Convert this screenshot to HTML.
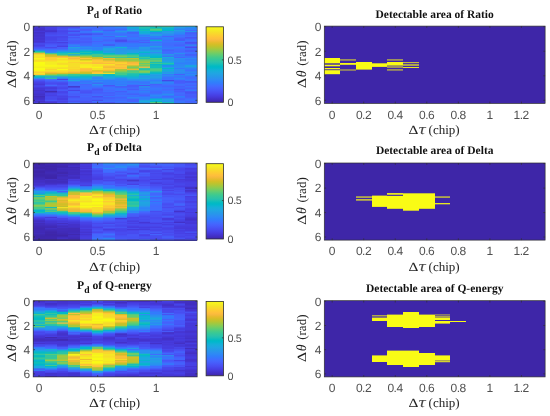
<!DOCTYPE html>
<html><head><meta charset="utf-8"><title>Detection probability</title>
<style>
html,body{margin:0;padding:0;background:#fff}
svg{display:block;text-rendering:geometricPrecision}
.tk{font-family:"Liberation Sans",sans-serif;font-size:12px;letter-spacing:-0.5px;fill:#505050}
.tt{font-family:"Liberation Serif",serif;font-weight:bold;font-size:11.5px;fill:#111}
.cb{font-size:10.8px;letter-spacing:-0.4px}
.tl{font-size:11.7px}
.lb{font-family:"Liberation Serif",serif;font-size:13px;fill:#222}
.dl{font-family:"Liberation Serif",serif;font-size:12.6px;fill:#222}
.gr2{font-family:"Liberation Serif",serif;font-style:italic;font-size:14px;fill:#222}
.gr{font-family:"Liberation Serif",serif;font-style:italic;font-size:15px;fill:#4a4a4a}
</style></head><body>
<svg width="550" height="416" viewBox="0 0 550 416">
<rect width="550" height="416" fill="#fff"/>
<defs><linearGradient id="pg" x1="0" y1="1" x2="0" y2="0">
<stop offset="0.0000" stop-color="#3e26a8"/>
<stop offset="0.0159" stop-color="#402ab4"/>
<stop offset="0.0317" stop-color="#422ec0"/>
<stop offset="0.0476" stop-color="#4332cb"/>
<stop offset="0.0635" stop-color="#4537d5"/>
<stop offset="0.0794" stop-color="#463cde"/>
<stop offset="0.0952" stop-color="#4741e5"/>
<stop offset="0.1111" stop-color="#4747eb"/>
<stop offset="0.1270" stop-color="#484df0"/>
<stop offset="0.1429" stop-color="#4852f4"/>
<stop offset="0.1587" stop-color="#4758f8"/>
<stop offset="0.1746" stop-color="#465efb"/>
<stop offset="0.1905" stop-color="#4563fd"/>
<stop offset="0.2063" stop-color="#4269fe"/>
<stop offset="0.2222" stop-color="#3e6fff"/>
<stop offset="0.2381" stop-color="#3875fe"/>
<stop offset="0.2540" stop-color="#327cfc"/>
<stop offset="0.2698" stop-color="#2f81fa"/>
<stop offset="0.2857" stop-color="#2e87f7"/>
<stop offset="0.3016" stop-color="#2d8cf3"/>
<stop offset="0.3175" stop-color="#2b91ef"/>
<stop offset="0.3333" stop-color="#2797eb"/>
<stop offset="0.3492" stop-color="#259be8"/>
<stop offset="0.3651" stop-color="#23a0e5"/>
<stop offset="0.3810" stop-color="#20a5e3"/>
<stop offset="0.3968" stop-color="#1ca9df"/>
<stop offset="0.4127" stop-color="#18addb"/>
<stop offset="0.4286" stop-color="#12b1d6"/>
<stop offset="0.4444" stop-color="#08b5d0"/>
<stop offset="0.4603" stop-color="#01b8ca"/>
<stop offset="0.4762" stop-color="#02bac3"/>
<stop offset="0.4921" stop-color="#0bbdbd"/>
<stop offset="0.5079" stop-color="#19bfb6"/>
<stop offset="0.5238" stop-color="#24c1ae"/>
<stop offset="0.5397" stop-color="#2cc4a7"/>
<stop offset="0.5556" stop-color="#31c69f"/>
<stop offset="0.5714" stop-color="#37c897"/>
<stop offset="0.5873" stop-color="#3fca8e"/>
<stop offset="0.6032" stop-color="#4acb84"/>
<stop offset="0.6190" stop-color="#57cc7a"/>
<stop offset="0.6349" stop-color="#64cd6f"/>
<stop offset="0.6508" stop-color="#72cd64"/>
<stop offset="0.6667" stop-color="#81cc59"/>
<stop offset="0.6825" stop-color="#8fcb4e"/>
<stop offset="0.6984" stop-color="#9dc943"/>
<stop offset="0.7143" stop-color="#abc739"/>
<stop offset="0.7302" stop-color="#b9c431"/>
<stop offset="0.7460" stop-color="#c5c22a"/>
<stop offset="0.7619" stop-color="#d1bf27"/>
<stop offset="0.7778" stop-color="#dcbd29"/>
<stop offset="0.7937" stop-color="#e6bb2d"/>
<stop offset="0.8095" stop-color="#f0ba36"/>
<stop offset="0.8254" stop-color="#f8ba3d"/>
<stop offset="0.8413" stop-color="#febe3c"/>
<stop offset="0.8571" stop-color="#fec338"/>
<stop offset="0.8730" stop-color="#fec934"/>
<stop offset="0.8889" stop-color="#fccf30"/>
<stop offset="0.9048" stop-color="#fad62d"/>
<stop offset="0.9206" stop-color="#f7dc2a"/>
<stop offset="0.9365" stop-color="#f5e327"/>
<stop offset="0.9524" stop-color="#f5e924"/>
<stop offset="0.9683" stop-color="#f6ef20"/>
<stop offset="0.9841" stop-color="#f7f51b"/>
<stop offset="1.0000" stop-color="#f9fb15"/>
</linearGradient></defs>
<g>
<rect x="33.00" y="26.10" width="12.00" height="77.30" fill="#463bdd"/>
<rect x="33.00" y="27.33" width="12.00" height="76.07" fill="#4434cf"/>
<rect x="33.00" y="28.55" width="12.00" height="74.85" fill="#4331c7"/>
<rect x="33.00" y="29.78" width="12.00" height="73.62" fill="#4433cb"/>
<rect x="33.00" y="31.01" width="12.00" height="72.39" fill="#4538d7"/>
<rect x="33.00" y="32.23" width="12.00" height="71.17" fill="#4331c6"/>
<rect x="33.00" y="33.46" width="12.00" height="69.94" fill="#4536d2"/>
<rect x="33.00" y="34.69" width="12.00" height="68.71" fill="#4434cf"/>
<rect x="33.00" y="35.92" width="12.00" height="67.48" fill="#4434cf"/>
<rect x="33.00" y="37.14" width="12.00" height="66.26" fill="#4537d5"/>
<rect x="33.00" y="38.37" width="12.00" height="65.03" fill="#4434ce"/>
<rect x="33.00" y="39.60" width="12.00" height="63.80" fill="#4639da"/>
<rect x="33.00" y="40.82" width="12.00" height="62.58" fill="#4535d2"/>
<rect x="33.00" y="42.05" width="12.00" height="61.35" fill="#463adc"/>
<rect x="33.00" y="43.28" width="12.00" height="60.12" fill="#484ef1"/>
<rect x="33.00" y="44.50" width="12.00" height="58.90" fill="#4740e4"/>
<rect x="33.00" y="45.73" width="12.00" height="57.67" fill="#4848ec"/>
<rect x="33.00" y="46.96" width="12.00" height="56.44" fill="#4854f5"/>
<rect x="33.00" y="48.19" width="12.00" height="55.21" fill="#465efb"/>
<rect x="33.00" y="49.41" width="12.00" height="53.99" fill="#3876fe"/>
<rect x="33.00" y="50.64" width="12.00" height="52.76" fill="#0abdbd"/>
<rect x="33.00" y="51.87" width="12.00" height="51.53" fill="#63cd70"/>
<rect x="33.00" y="53.09" width="12.00" height="50.31" fill="#f0ba36"/>
<rect x="33.00" y="54.32" width="12.00" height="49.08" fill="#f5e825"/>
<rect x="33.00" y="55.55" width="12.00" height="47.85" fill="#f5e526"/>
<rect x="33.00" y="56.77" width="12.00" height="46.63" fill="#f6e128"/>
<rect x="33.00" y="58.00" width="12.00" height="45.40" fill="#f8f719"/>
<rect x="33.00" y="59.23" width="12.00" height="44.17" fill="#f5e725"/>
<rect x="33.00" y="60.46" width="12.00" height="42.94" fill="#fad42e"/>
<rect x="33.00" y="61.68" width="12.00" height="41.72" fill="#f9fb15"/>
<rect x="33.00" y="62.91" width="12.00" height="40.49" fill="#f9fb15"/>
<rect x="33.00" y="64.14" width="12.00" height="39.26" fill="#f9fa15"/>
<rect x="33.00" y="65.36" width="12.00" height="38.04" fill="#f8f917"/>
<rect x="33.00" y="66.59" width="12.00" height="36.81" fill="#f5ec22"/>
<rect x="33.00" y="67.82" width="12.00" height="35.58" fill="#f9fb15"/>
<rect x="33.00" y="69.04" width="12.00" height="34.36" fill="#f9fb15"/>
<rect x="33.00" y="70.27" width="12.00" height="33.13" fill="#f7f41c"/>
<rect x="33.00" y="71.50" width="12.00" height="31.90" fill="#fec934"/>
<rect x="33.00" y="72.73" width="12.00" height="30.67" fill="#f5e526"/>
<rect x="33.00" y="73.95" width="12.00" height="29.45" fill="#fdcb32"/>
<rect x="33.00" y="75.18" width="12.00" height="28.22" fill="#2bc3a8"/>
<rect x="33.00" y="76.41" width="12.00" height="26.99" fill="#01b9c8"/>
<rect x="33.00" y="77.63" width="12.00" height="25.77" fill="#2a93ee"/>
<rect x="33.00" y="78.86" width="12.00" height="24.54" fill="#4660fc"/>
<rect x="33.00" y="80.09" width="12.00" height="23.31" fill="#4854f5"/>
<rect x="33.00" y="81.31" width="12.00" height="22.09" fill="#4745e9"/>
<rect x="33.00" y="82.54" width="12.00" height="20.86" fill="#4740e4"/>
<rect x="33.00" y="83.77" width="12.00" height="19.63" fill="#4539d9"/>
<rect x="33.00" y="85.00" width="12.00" height="18.40" fill="#4742e6"/>
<rect x="33.00" y="86.22" width="12.00" height="17.18" fill="#4746ea"/>
<rect x="33.00" y="87.45" width="12.00" height="15.95" fill="#4536d4"/>
<rect x="33.00" y="88.68" width="12.00" height="14.72" fill="#4538d8"/>
<rect x="33.00" y="89.90" width="12.00" height="13.50" fill="#4433cb"/>
<rect x="33.00" y="91.13" width="12.00" height="12.27" fill="#4537d5"/>
<rect x="33.00" y="92.36" width="12.00" height="11.04" fill="#4536d4"/>
<rect x="33.00" y="93.58" width="12.00" height="9.82" fill="#4332c8"/>
<rect x="33.00" y="94.81" width="12.00" height="8.59" fill="#4434cd"/>
<rect x="33.00" y="96.04" width="12.00" height="7.36" fill="#412dbc"/>
<rect x="33.00" y="97.27" width="12.00" height="6.13" fill="#4332c9"/>
<rect x="33.00" y="98.49" width="12.00" height="4.91" fill="#4332ca"/>
<rect x="33.00" y="99.72" width="12.00" height="3.68" fill="#4539d8"/>
<rect x="33.00" y="100.95" width="12.00" height="2.45" fill="#4432cb"/>
<rect x="33.00" y="102.17" width="12.00" height="1.23" fill="#463bdc"/>
<rect x="45.00" y="26.10" width="12.00" height="77.30" fill="#4744e8"/>
<rect x="45.00" y="27.33" width="12.00" height="76.07" fill="#463ee1"/>
<rect x="45.00" y="28.55" width="12.00" height="74.85" fill="#473fe2"/>
<rect x="45.00" y="29.78" width="12.00" height="73.62" fill="#4536d3"/>
<rect x="45.00" y="31.01" width="12.00" height="72.39" fill="#4435d1"/>
<rect x="45.00" y="32.23" width="12.00" height="71.17" fill="#4747eb"/>
<rect x="45.00" y="33.46" width="12.00" height="69.94" fill="#4849ed"/>
<rect x="45.00" y="34.69" width="12.00" height="68.71" fill="#4851f3"/>
<rect x="45.00" y="35.92" width="12.00" height="67.48" fill="#4747eb"/>
<rect x="45.00" y="37.14" width="12.00" height="66.26" fill="#4744e8"/>
<rect x="45.00" y="38.37" width="12.00" height="65.03" fill="#4744e8"/>
<rect x="45.00" y="39.60" width="12.00" height="63.80" fill="#4747eb"/>
<rect x="45.00" y="40.82" width="12.00" height="62.58" fill="#484cef"/>
<rect x="45.00" y="42.05" width="12.00" height="61.35" fill="#4746ea"/>
<rect x="45.00" y="43.28" width="12.00" height="60.12" fill="#4853f4"/>
<rect x="45.00" y="44.50" width="12.00" height="58.90" fill="#475bfa"/>
<rect x="45.00" y="45.73" width="12.00" height="57.67" fill="#465efb"/>
<rect x="45.00" y="46.96" width="12.00" height="56.44" fill="#4849ed"/>
<rect x="45.00" y="48.19" width="12.00" height="55.21" fill="#4660fc"/>
<rect x="45.00" y="49.41" width="12.00" height="53.99" fill="#3876fe"/>
<rect x="45.00" y="50.64" width="12.00" height="52.76" fill="#2e84f8"/>
<rect x="45.00" y="51.87" width="12.00" height="51.53" fill="#2c8ff1"/>
<rect x="45.00" y="53.09" width="12.00" height="50.31" fill="#45cb89"/>
<rect x="45.00" y="54.32" width="12.00" height="49.08" fill="#d3bf27"/>
<rect x="45.00" y="55.55" width="12.00" height="47.85" fill="#cac129"/>
<rect x="45.00" y="56.77" width="12.00" height="46.63" fill="#fec735"/>
<rect x="45.00" y="58.00" width="12.00" height="45.40" fill="#fcd030"/>
<rect x="45.00" y="59.23" width="12.00" height="44.17" fill="#feca34"/>
<rect x="45.00" y="60.46" width="12.00" height="42.94" fill="#f6df29"/>
<rect x="45.00" y="61.68" width="12.00" height="41.72" fill="#f5ed22"/>
<rect x="45.00" y="62.91" width="12.00" height="40.49" fill="#f5eb23"/>
<rect x="45.00" y="64.14" width="12.00" height="39.26" fill="#f5ee21"/>
<rect x="45.00" y="65.36" width="12.00" height="38.04" fill="#f9fb15"/>
<rect x="45.00" y="66.59" width="12.00" height="36.81" fill="#f5ea23"/>
<rect x="45.00" y="67.82" width="12.00" height="35.58" fill="#f5e526"/>
<rect x="45.00" y="69.04" width="12.00" height="34.36" fill="#fbd22f"/>
<rect x="45.00" y="70.27" width="12.00" height="33.13" fill="#f5ea23"/>
<rect x="45.00" y="71.50" width="12.00" height="31.90" fill="#fec239"/>
<rect x="45.00" y="72.73" width="12.00" height="30.67" fill="#dabd28"/>
<rect x="45.00" y="73.95" width="12.00" height="29.45" fill="#9cc944"/>
<rect x="45.00" y="75.18" width="12.00" height="28.22" fill="#34c79c"/>
<rect x="45.00" y="76.41" width="12.00" height="26.99" fill="#249de6"/>
<rect x="45.00" y="77.63" width="12.00" height="25.77" fill="#30c5a2"/>
<rect x="45.00" y="78.86" width="12.00" height="24.54" fill="#3e6fff"/>
<rect x="45.00" y="80.09" width="12.00" height="23.31" fill="#4464fd"/>
<rect x="45.00" y="81.31" width="12.00" height="22.09" fill="#4757f7"/>
<rect x="45.00" y="82.54" width="12.00" height="20.86" fill="#484aee"/>
<rect x="45.00" y="83.77" width="12.00" height="19.63" fill="#4853f5"/>
<rect x="45.00" y="85.00" width="12.00" height="18.40" fill="#4367fd"/>
<rect x="45.00" y="86.22" width="12.00" height="17.18" fill="#4747eb"/>
<rect x="45.00" y="87.45" width="12.00" height="15.95" fill="#4537d6"/>
<rect x="45.00" y="88.68" width="12.00" height="14.72" fill="#4744e8"/>
<rect x="45.00" y="89.90" width="12.00" height="13.50" fill="#4740e3"/>
<rect x="45.00" y="91.13" width="12.00" height="12.27" fill="#3f28af"/>
<rect x="45.00" y="92.36" width="12.00" height="11.04" fill="#4743e8"/>
<rect x="45.00" y="93.58" width="12.00" height="9.82" fill="#4746ea"/>
<rect x="45.00" y="94.81" width="12.00" height="8.59" fill="#4740e4"/>
<rect x="45.00" y="96.04" width="12.00" height="7.36" fill="#4849ec"/>
<rect x="45.00" y="97.27" width="12.00" height="6.13" fill="#484bef"/>
<rect x="45.00" y="98.49" width="12.00" height="4.91" fill="#4747eb"/>
<rect x="45.00" y="99.72" width="12.00" height="3.68" fill="#4757f7"/>
<rect x="45.00" y="100.95" width="12.00" height="2.45" fill="#463ee1"/>
<rect x="45.00" y="102.17" width="12.00" height="1.23" fill="#4639da"/>
<rect x="57.00" y="26.10" width="11.00" height="77.30" fill="#484ef1"/>
<rect x="57.00" y="27.33" width="11.00" height="76.07" fill="#4848ec"/>
<rect x="57.00" y="28.55" width="11.00" height="74.85" fill="#4853f5"/>
<rect x="57.00" y="29.78" width="11.00" height="73.62" fill="#4848ec"/>
<rect x="57.00" y="31.01" width="11.00" height="72.39" fill="#4747eb"/>
<rect x="57.00" y="32.23" width="11.00" height="71.17" fill="#484bef"/>
<rect x="57.00" y="33.46" width="11.00" height="69.94" fill="#484cf0"/>
<rect x="57.00" y="34.69" width="11.00" height="68.71" fill="#4854f5"/>
<rect x="57.00" y="35.92" width="11.00" height="67.48" fill="#4747eb"/>
<rect x="57.00" y="37.14" width="11.00" height="66.26" fill="#4848ec"/>
<rect x="57.00" y="38.37" width="11.00" height="65.03" fill="#484ff2"/>
<rect x="57.00" y="39.60" width="11.00" height="63.80" fill="#4849ec"/>
<rect x="57.00" y="40.82" width="11.00" height="62.58" fill="#4757f7"/>
<rect x="57.00" y="42.05" width="11.00" height="61.35" fill="#4740e3"/>
<rect x="57.00" y="43.28" width="11.00" height="60.12" fill="#4853f5"/>
<rect x="57.00" y="44.50" width="11.00" height="58.90" fill="#4852f4"/>
<rect x="57.00" y="45.73" width="11.00" height="57.67" fill="#4741e4"/>
<rect x="57.00" y="46.96" width="11.00" height="56.44" fill="#465ffb"/>
<rect x="57.00" y="48.19" width="11.00" height="55.21" fill="#465ffb"/>
<rect x="57.00" y="49.41" width="11.00" height="53.99" fill="#337bfc"/>
<rect x="57.00" y="50.64" width="11.00" height="52.76" fill="#2796eb"/>
<rect x="57.00" y="51.87" width="11.00" height="51.53" fill="#0db3d4"/>
<rect x="57.00" y="53.09" width="11.00" height="50.31" fill="#25c2ae"/>
<rect x="57.00" y="54.32" width="11.00" height="49.08" fill="#39c895"/>
<rect x="57.00" y="55.55" width="11.00" height="47.85" fill="#dcbd29"/>
<rect x="57.00" y="56.77" width="11.00" height="46.63" fill="#fec13a"/>
<rect x="57.00" y="58.00" width="11.00" height="45.40" fill="#f5e924"/>
<rect x="57.00" y="59.23" width="11.00" height="44.17" fill="#fad52d"/>
<rect x="57.00" y="60.46" width="11.00" height="42.94" fill="#f6ef20"/>
<rect x="57.00" y="61.68" width="11.00" height="41.72" fill="#f5ec23"/>
<rect x="57.00" y="62.91" width="11.00" height="40.49" fill="#f7dc2a"/>
<rect x="57.00" y="64.14" width="11.00" height="39.26" fill="#f5e128"/>
<rect x="57.00" y="65.36" width="11.00" height="38.04" fill="#f9fa15"/>
<rect x="57.00" y="66.59" width="11.00" height="36.81" fill="#f5e626"/>
<rect x="57.00" y="67.82" width="11.00" height="35.58" fill="#f6df29"/>
<rect x="57.00" y="69.04" width="11.00" height="34.36" fill="#f9fb15"/>
<rect x="57.00" y="70.27" width="11.00" height="33.13" fill="#fad62d"/>
<rect x="57.00" y="71.50" width="11.00" height="31.90" fill="#fad52d"/>
<rect x="57.00" y="72.73" width="11.00" height="30.67" fill="#d9be28"/>
<rect x="57.00" y="73.95" width="11.00" height="29.45" fill="#62cd71"/>
<rect x="57.00" y="75.18" width="11.00" height="28.22" fill="#36c799"/>
<rect x="57.00" y="76.41" width="11.00" height="26.99" fill="#2699ea"/>
<rect x="57.00" y="77.63" width="11.00" height="25.77" fill="#2d8cf3"/>
<rect x="57.00" y="78.86" width="11.00" height="24.54" fill="#4743e7"/>
<rect x="57.00" y="80.09" width="11.00" height="23.31" fill="#3975fe"/>
<rect x="57.00" y="81.31" width="11.00" height="22.09" fill="#4757f7"/>
<rect x="57.00" y="82.54" width="11.00" height="20.86" fill="#4849ed"/>
<rect x="57.00" y="83.77" width="11.00" height="19.63" fill="#484aee"/>
<rect x="57.00" y="85.00" width="11.00" height="18.40" fill="#4855f6"/>
<rect x="57.00" y="86.22" width="11.00" height="17.18" fill="#4851f3"/>
<rect x="57.00" y="87.45" width="11.00" height="15.95" fill="#4743e7"/>
<rect x="57.00" y="88.68" width="11.00" height="14.72" fill="#4853f5"/>
<rect x="57.00" y="89.90" width="11.00" height="13.50" fill="#4758f8"/>
<rect x="57.00" y="91.13" width="11.00" height="12.27" fill="#4744e8"/>
<rect x="57.00" y="92.36" width="11.00" height="11.04" fill="#4747ec"/>
<rect x="57.00" y="93.58" width="11.00" height="9.82" fill="#4852f4"/>
<rect x="57.00" y="94.81" width="11.00" height="8.59" fill="#4849ed"/>
<rect x="57.00" y="96.04" width="11.00" height="7.36" fill="#4744e8"/>
<rect x="57.00" y="97.27" width="11.00" height="6.13" fill="#4746ea"/>
<rect x="57.00" y="98.49" width="11.00" height="4.91" fill="#463cdf"/>
<rect x="57.00" y="99.72" width="11.00" height="3.68" fill="#484bef"/>
<rect x="57.00" y="100.95" width="11.00" height="2.45" fill="#4743e7"/>
<rect x="57.00" y="102.17" width="11.00" height="1.23" fill="#484ff2"/>
<rect x="68.00" y="26.10" width="12.00" height="77.30" fill="#484bef"/>
<rect x="68.00" y="27.33" width="12.00" height="76.07" fill="#484ef1"/>
<rect x="68.00" y="28.55" width="12.00" height="74.85" fill="#3b72fe"/>
<rect x="68.00" y="29.78" width="12.00" height="73.62" fill="#4757f7"/>
<rect x="68.00" y="31.01" width="12.00" height="72.39" fill="#484aed"/>
<rect x="68.00" y="32.23" width="12.00" height="71.17" fill="#3f6eff"/>
<rect x="68.00" y="33.46" width="12.00" height="69.94" fill="#4853f5"/>
<rect x="68.00" y="34.69" width="12.00" height="68.71" fill="#484ff2"/>
<rect x="68.00" y="35.92" width="12.00" height="67.48" fill="#4367fd"/>
<rect x="68.00" y="37.14" width="12.00" height="66.26" fill="#4755f6"/>
<rect x="68.00" y="38.37" width="12.00" height="65.03" fill="#426afe"/>
<rect x="68.00" y="39.60" width="12.00" height="63.80" fill="#465ffb"/>
<rect x="68.00" y="40.82" width="12.00" height="62.58" fill="#475af9"/>
<rect x="68.00" y="42.05" width="12.00" height="61.35" fill="#475af9"/>
<rect x="68.00" y="43.28" width="12.00" height="60.12" fill="#4562fc"/>
<rect x="68.00" y="44.50" width="12.00" height="58.90" fill="#2e86f7"/>
<rect x="68.00" y="45.73" width="12.00" height="57.67" fill="#3776fe"/>
<rect x="68.00" y="46.96" width="12.00" height="56.44" fill="#249ee6"/>
<rect x="68.00" y="48.19" width="12.00" height="55.21" fill="#2d8cf3"/>
<rect x="68.00" y="49.41" width="12.00" height="53.99" fill="#2c8ef1"/>
<rect x="68.00" y="50.64" width="12.00" height="52.76" fill="#2896eb"/>
<rect x="68.00" y="51.87" width="12.00" height="51.53" fill="#0bb3d2"/>
<rect x="68.00" y="53.09" width="12.00" height="50.31" fill="#47cb87"/>
<rect x="68.00" y="54.32" width="12.00" height="49.08" fill="#1da8e0"/>
<rect x="68.00" y="55.55" width="12.00" height="47.85" fill="#94ca4a"/>
<rect x="68.00" y="56.77" width="12.00" height="46.63" fill="#fdbd3d"/>
<rect x="68.00" y="58.00" width="12.00" height="45.40" fill="#f4ba39"/>
<rect x="68.00" y="59.23" width="12.00" height="44.17" fill="#fcd030"/>
<rect x="68.00" y="60.46" width="12.00" height="42.94" fill="#f5e924"/>
<rect x="68.00" y="61.68" width="12.00" height="41.72" fill="#fbd22f"/>
<rect x="68.00" y="62.91" width="12.00" height="40.49" fill="#f6de29"/>
<rect x="68.00" y="64.14" width="12.00" height="39.26" fill="#f6de29"/>
<rect x="68.00" y="65.36" width="12.00" height="38.04" fill="#f6e029"/>
<rect x="68.00" y="66.59" width="12.00" height="36.81" fill="#f8d82c"/>
<rect x="68.00" y="67.82" width="12.00" height="35.58" fill="#f7dd2a"/>
<rect x="68.00" y="69.04" width="12.00" height="34.36" fill="#fcd12f"/>
<rect x="68.00" y="70.27" width="12.00" height="33.13" fill="#f9d82c"/>
<rect x="68.00" y="71.50" width="12.00" height="31.90" fill="#f9ba3d"/>
<rect x="68.00" y="72.73" width="12.00" height="30.67" fill="#cfc028"/>
<rect x="68.00" y="73.95" width="12.00" height="29.45" fill="#39c994"/>
<rect x="68.00" y="75.18" width="12.00" height="28.22" fill="#2fc5a3"/>
<rect x="68.00" y="76.41" width="12.00" height="26.99" fill="#07b5cf"/>
<rect x="68.00" y="77.63" width="12.00" height="25.77" fill="#22a2e4"/>
<rect x="68.00" y="78.86" width="12.00" height="24.54" fill="#2c8ef1"/>
<rect x="68.00" y="80.09" width="12.00" height="23.31" fill="#20a4e3"/>
<rect x="68.00" y="81.31" width="12.00" height="22.09" fill="#406dfe"/>
<rect x="68.00" y="82.54" width="12.00" height="20.86" fill="#426afe"/>
<rect x="68.00" y="83.77" width="12.00" height="19.63" fill="#3f6fff"/>
<rect x="68.00" y="85.00" width="12.00" height="18.40" fill="#416bfe"/>
<rect x="68.00" y="86.22" width="12.00" height="17.18" fill="#4330c5"/>
<rect x="68.00" y="87.45" width="12.00" height="15.95" fill="#465dfb"/>
<rect x="68.00" y="88.68" width="12.00" height="14.72" fill="#465ffb"/>
<rect x="68.00" y="89.90" width="12.00" height="13.50" fill="#4745e9"/>
<rect x="68.00" y="91.13" width="12.00" height="12.27" fill="#416bfe"/>
<rect x="68.00" y="92.36" width="12.00" height="11.04" fill="#4563fc"/>
<rect x="68.00" y="93.58" width="12.00" height="9.82" fill="#475dfa"/>
<rect x="68.00" y="94.81" width="12.00" height="8.59" fill="#465ffb"/>
<rect x="68.00" y="96.04" width="12.00" height="7.36" fill="#484ef1"/>
<rect x="68.00" y="97.27" width="12.00" height="6.13" fill="#4757f7"/>
<rect x="68.00" y="98.49" width="12.00" height="4.91" fill="#4465fd"/>
<rect x="68.00" y="99.72" width="12.00" height="3.68" fill="#475cfa"/>
<rect x="68.00" y="100.95" width="12.00" height="2.45" fill="#4852f4"/>
<rect x="68.00" y="102.17" width="12.00" height="1.23" fill="#4269fe"/>
<rect x="80.00" y="26.10" width="12.00" height="77.30" fill="#4368fd"/>
<rect x="80.00" y="27.33" width="12.00" height="76.07" fill="#3777fe"/>
<rect x="80.00" y="28.55" width="12.00" height="74.85" fill="#475cfa"/>
<rect x="80.00" y="29.78" width="12.00" height="73.62" fill="#465ffb"/>
<rect x="80.00" y="31.01" width="12.00" height="72.39" fill="#3a74fe"/>
<rect x="80.00" y="32.23" width="12.00" height="71.17" fill="#3b73fe"/>
<rect x="80.00" y="33.46" width="12.00" height="69.94" fill="#4745ea"/>
<rect x="80.00" y="34.69" width="12.00" height="68.71" fill="#4563fd"/>
<rect x="80.00" y="35.92" width="12.00" height="67.48" fill="#406dfe"/>
<rect x="80.00" y="37.14" width="12.00" height="66.26" fill="#4562fc"/>
<rect x="80.00" y="38.37" width="12.00" height="65.03" fill="#475cfa"/>
<rect x="80.00" y="39.60" width="12.00" height="63.80" fill="#4563fd"/>
<rect x="80.00" y="40.82" width="12.00" height="62.58" fill="#475bfa"/>
<rect x="80.00" y="42.05" width="12.00" height="61.35" fill="#465dfa"/>
<rect x="80.00" y="43.28" width="12.00" height="60.12" fill="#4368fd"/>
<rect x="80.00" y="44.50" width="12.00" height="58.90" fill="#4466fd"/>
<rect x="80.00" y="45.73" width="12.00" height="57.67" fill="#317dfc"/>
<rect x="80.00" y="46.96" width="12.00" height="56.44" fill="#2d8bf3"/>
<rect x="80.00" y="48.19" width="12.00" height="55.21" fill="#3080fa"/>
<rect x="80.00" y="49.41" width="12.00" height="53.99" fill="#22a2e4"/>
<rect x="80.00" y="50.64" width="12.00" height="52.76" fill="#01b8ca"/>
<rect x="80.00" y="51.87" width="12.00" height="51.53" fill="#1cc0b3"/>
<rect x="80.00" y="53.09" width="12.00" height="50.31" fill="#02bac4"/>
<rect x="80.00" y="54.32" width="12.00" height="49.08" fill="#3ac994"/>
<rect x="80.00" y="55.55" width="12.00" height="47.85" fill="#8ecb4f"/>
<rect x="80.00" y="56.77" width="12.00" height="46.63" fill="#c5c22a"/>
<rect x="80.00" y="58.00" width="12.00" height="45.40" fill="#fec636"/>
<rect x="80.00" y="59.23" width="12.00" height="44.17" fill="#ccc028"/>
<rect x="80.00" y="60.46" width="12.00" height="42.94" fill="#f5ed22"/>
<rect x="80.00" y="61.68" width="12.00" height="41.72" fill="#fdcc32"/>
<rect x="80.00" y="62.91" width="12.00" height="40.49" fill="#fdcc32"/>
<rect x="80.00" y="64.14" width="12.00" height="39.26" fill="#f5ec22"/>
<rect x="80.00" y="65.36" width="12.00" height="38.04" fill="#f5ec22"/>
<rect x="80.00" y="66.59" width="12.00" height="36.81" fill="#f7f31d"/>
<rect x="80.00" y="67.82" width="12.00" height="35.58" fill="#fec735"/>
<rect x="80.00" y="69.04" width="12.00" height="34.36" fill="#febe3c"/>
<rect x="80.00" y="70.27" width="12.00" height="33.13" fill="#febe3c"/>
<rect x="80.00" y="71.50" width="12.00" height="31.90" fill="#d4bf28"/>
<rect x="80.00" y="72.73" width="12.00" height="30.67" fill="#c9c129"/>
<rect x="80.00" y="73.95" width="12.00" height="29.45" fill="#3cc992"/>
<rect x="80.00" y="75.18" width="12.00" height="28.22" fill="#19bfb5"/>
<rect x="80.00" y="76.41" width="12.00" height="26.99" fill="#08b4d1"/>
<rect x="80.00" y="77.63" width="12.00" height="25.77" fill="#1ea8e1"/>
<rect x="80.00" y="78.86" width="12.00" height="24.54" fill="#2797eb"/>
<rect x="80.00" y="80.09" width="12.00" height="23.31" fill="#2f81fa"/>
<rect x="80.00" y="81.31" width="12.00" height="22.09" fill="#406dfe"/>
<rect x="80.00" y="82.54" width="12.00" height="20.86" fill="#2e85f8"/>
<rect x="80.00" y="83.77" width="12.00" height="19.63" fill="#4465fd"/>
<rect x="80.00" y="85.00" width="12.00" height="18.40" fill="#416bfe"/>
<rect x="80.00" y="86.22" width="12.00" height="17.18" fill="#406cfe"/>
<rect x="80.00" y="87.45" width="12.00" height="15.95" fill="#3d71ff"/>
<rect x="80.00" y="88.68" width="12.00" height="14.72" fill="#4368fe"/>
<rect x="80.00" y="89.90" width="12.00" height="13.50" fill="#4758f8"/>
<rect x="80.00" y="91.13" width="12.00" height="12.27" fill="#4854f5"/>
<rect x="80.00" y="92.36" width="12.00" height="11.04" fill="#4852f4"/>
<rect x="80.00" y="93.58" width="12.00" height="9.82" fill="#4367fd"/>
<rect x="80.00" y="94.81" width="12.00" height="8.59" fill="#4660fc"/>
<rect x="80.00" y="96.04" width="12.00" height="7.36" fill="#4367fd"/>
<rect x="80.00" y="97.27" width="12.00" height="6.13" fill="#465efb"/>
<rect x="80.00" y="98.49" width="12.00" height="4.91" fill="#4561fc"/>
<rect x="80.00" y="99.72" width="12.00" height="3.68" fill="#475cfa"/>
<rect x="80.00" y="100.95" width="12.00" height="2.45" fill="#4853f4"/>
<rect x="80.00" y="102.17" width="12.00" height="1.23" fill="#4757f7"/>
<rect x="92.00" y="26.10" width="11.00" height="77.30" fill="#3c72ff"/>
<rect x="92.00" y="27.33" width="11.00" height="76.07" fill="#4367fd"/>
<rect x="92.00" y="28.55" width="11.00" height="74.85" fill="#406cfe"/>
<rect x="92.00" y="29.78" width="11.00" height="73.62" fill="#3b73fe"/>
<rect x="92.00" y="31.01" width="11.00" height="72.39" fill="#2994ed"/>
<rect x="92.00" y="32.23" width="11.00" height="71.17" fill="#3876fe"/>
<rect x="92.00" y="33.46" width="11.00" height="69.94" fill="#4852f4"/>
<rect x="92.00" y="34.69" width="11.00" height="68.71" fill="#3d70ff"/>
<rect x="92.00" y="35.92" width="11.00" height="67.48" fill="#3f6eff"/>
<rect x="92.00" y="37.14" width="11.00" height="66.26" fill="#307efb"/>
<rect x="92.00" y="38.37" width="11.00" height="65.03" fill="#3d70ff"/>
<rect x="92.00" y="39.60" width="11.00" height="63.80" fill="#3974fe"/>
<rect x="92.00" y="40.82" width="11.00" height="62.58" fill="#4563fd"/>
<rect x="92.00" y="42.05" width="11.00" height="61.35" fill="#3e6fff"/>
<rect x="92.00" y="43.28" width="11.00" height="60.12" fill="#3d70ff"/>
<rect x="92.00" y="44.50" width="11.00" height="58.90" fill="#347afd"/>
<rect x="92.00" y="45.73" width="11.00" height="57.67" fill="#3a74fe"/>
<rect x="92.00" y="46.96" width="11.00" height="56.44" fill="#2d87f6"/>
<rect x="92.00" y="48.19" width="11.00" height="55.21" fill="#3080fa"/>
<rect x="92.00" y="49.41" width="11.00" height="53.99" fill="#2d89f5"/>
<rect x="92.00" y="50.64" width="11.00" height="52.76" fill="#02bac4"/>
<rect x="92.00" y="51.87" width="11.00" height="51.53" fill="#02bac4"/>
<rect x="92.00" y="53.09" width="11.00" height="50.31" fill="#13beb9"/>
<rect x="92.00" y="54.32" width="11.00" height="49.08" fill="#5bcc77"/>
<rect x="92.00" y="55.55" width="11.00" height="47.85" fill="#2dc4a5"/>
<rect x="92.00" y="56.77" width="11.00" height="46.63" fill="#bdc32e"/>
<rect x="92.00" y="58.00" width="11.00" height="45.40" fill="#d4bf28"/>
<rect x="92.00" y="59.23" width="11.00" height="44.17" fill="#fcbd3d"/>
<rect x="92.00" y="60.46" width="11.00" height="42.94" fill="#fcd030"/>
<rect x="92.00" y="61.68" width="11.00" height="41.72" fill="#fec338"/>
<rect x="92.00" y="62.91" width="11.00" height="40.49" fill="#fcbc3d"/>
<rect x="92.00" y="64.14" width="11.00" height="39.26" fill="#f5ec22"/>
<rect x="92.00" y="65.36" width="11.00" height="38.04" fill="#f7dc2a"/>
<rect x="92.00" y="66.59" width="11.00" height="36.81" fill="#f8f818"/>
<rect x="92.00" y="67.82" width="11.00" height="35.58" fill="#f5e128"/>
<rect x="92.00" y="69.04" width="11.00" height="34.36" fill="#f5e227"/>
<rect x="92.00" y="70.27" width="11.00" height="33.13" fill="#d7be28"/>
<rect x="92.00" y="71.50" width="11.00" height="31.90" fill="#fcbc3d"/>
<rect x="92.00" y="72.73" width="11.00" height="30.67" fill="#fcd12f"/>
<rect x="92.00" y="73.95" width="11.00" height="29.45" fill="#32c69e"/>
<rect x="92.00" y="75.18" width="11.00" height="28.22" fill="#2dc4a6"/>
<rect x="92.00" y="76.41" width="11.00" height="26.99" fill="#2d8bf4"/>
<rect x="92.00" y="77.63" width="11.00" height="25.77" fill="#2e87f7"/>
<rect x="92.00" y="78.86" width="11.00" height="24.54" fill="#2c8ff1"/>
<rect x="92.00" y="80.09" width="11.00" height="23.31" fill="#317dfc"/>
<rect x="92.00" y="81.31" width="11.00" height="22.09" fill="#2d8df2"/>
<rect x="92.00" y="82.54" width="11.00" height="20.86" fill="#465ffb"/>
<rect x="92.00" y="83.77" width="11.00" height="19.63" fill="#2c8ef2"/>
<rect x="92.00" y="85.00" width="11.00" height="18.40" fill="#307ffb"/>
<rect x="92.00" y="86.22" width="11.00" height="17.18" fill="#3776fe"/>
<rect x="92.00" y="87.45" width="11.00" height="15.95" fill="#4465fd"/>
<rect x="92.00" y="88.68" width="11.00" height="14.72" fill="#4757f7"/>
<rect x="92.00" y="89.90" width="11.00" height="13.50" fill="#475af9"/>
<rect x="92.00" y="91.13" width="11.00" height="12.27" fill="#4561fc"/>
<rect x="92.00" y="92.36" width="11.00" height="11.04" fill="#475cfa"/>
<rect x="92.00" y="93.58" width="11.00" height="9.82" fill="#4368fe"/>
<rect x="92.00" y="94.81" width="11.00" height="8.59" fill="#3f6dfe"/>
<rect x="92.00" y="96.04" width="11.00" height="7.36" fill="#4851f3"/>
<rect x="92.00" y="97.27" width="11.00" height="6.13" fill="#4562fc"/>
<rect x="92.00" y="98.49" width="11.00" height="4.91" fill="#426afe"/>
<rect x="92.00" y="99.72" width="11.00" height="3.68" fill="#484cef"/>
<rect x="92.00" y="100.95" width="11.00" height="2.45" fill="#3e6fff"/>
<rect x="92.00" y="102.17" width="11.00" height="1.23" fill="#475bfa"/>
<rect x="103.00" y="26.10" width="12.00" height="77.30" fill="#3080fb"/>
<rect x="103.00" y="27.33" width="12.00" height="76.07" fill="#3e70ff"/>
<rect x="103.00" y="28.55" width="12.00" height="74.85" fill="#3a73fe"/>
<rect x="103.00" y="29.78" width="12.00" height="73.62" fill="#465dfb"/>
<rect x="103.00" y="31.01" width="12.00" height="72.39" fill="#3875fe"/>
<rect x="103.00" y="32.23" width="12.00" height="71.17" fill="#317dfc"/>
<rect x="103.00" y="33.46" width="12.00" height="69.94" fill="#426afe"/>
<rect x="103.00" y="34.69" width="12.00" height="68.71" fill="#317efb"/>
<rect x="103.00" y="35.92" width="12.00" height="67.48" fill="#4563fd"/>
<rect x="103.00" y="37.14" width="12.00" height="66.26" fill="#3876fe"/>
<rect x="103.00" y="38.37" width="12.00" height="65.03" fill="#3d71ff"/>
<rect x="103.00" y="39.60" width="12.00" height="63.80" fill="#4563fc"/>
<rect x="103.00" y="40.82" width="12.00" height="62.58" fill="#416bfe"/>
<rect x="103.00" y="42.05" width="12.00" height="61.35" fill="#3777fe"/>
<rect x="103.00" y="43.28" width="12.00" height="60.12" fill="#3d71ff"/>
<rect x="103.00" y="44.50" width="12.00" height="58.90" fill="#4851f4"/>
<rect x="103.00" y="45.73" width="12.00" height="57.67" fill="#2d87f7"/>
<rect x="103.00" y="46.96" width="12.00" height="56.44" fill="#2c8ef2"/>
<rect x="103.00" y="48.19" width="12.00" height="55.21" fill="#1da8e0"/>
<rect x="103.00" y="49.41" width="12.00" height="53.99" fill="#1ea7e1"/>
<rect x="103.00" y="50.64" width="12.00" height="52.76" fill="#249de6"/>
<rect x="103.00" y="51.87" width="12.00" height="51.53" fill="#22a2e4"/>
<rect x="103.00" y="53.09" width="12.00" height="50.31" fill="#02bac4"/>
<rect x="103.00" y="54.32" width="12.00" height="49.08" fill="#33c69e"/>
<rect x="103.00" y="55.55" width="12.00" height="47.85" fill="#83cc57"/>
<rect x="103.00" y="56.77" width="12.00" height="46.63" fill="#45cb89"/>
<rect x="103.00" y="58.00" width="12.00" height="45.40" fill="#edba33"/>
<rect x="103.00" y="59.23" width="12.00" height="44.17" fill="#bdc42f"/>
<rect x="103.00" y="60.46" width="12.00" height="42.94" fill="#fbbc3d"/>
<rect x="103.00" y="61.68" width="12.00" height="41.72" fill="#fcd030"/>
<rect x="103.00" y="62.91" width="12.00" height="40.49" fill="#fbbc3d"/>
<rect x="103.00" y="64.14" width="12.00" height="39.26" fill="#f5eb23"/>
<rect x="103.00" y="65.36" width="12.00" height="38.04" fill="#fec537"/>
<rect x="103.00" y="66.59" width="12.00" height="36.81" fill="#f3ba38"/>
<rect x="103.00" y="67.82" width="12.00" height="35.58" fill="#fcd030"/>
<rect x="103.00" y="69.04" width="12.00" height="34.36" fill="#fdcb33"/>
<rect x="103.00" y="70.27" width="12.00" height="33.13" fill="#ecba32"/>
<rect x="103.00" y="71.50" width="12.00" height="31.90" fill="#89cb52"/>
<rect x="103.00" y="72.73" width="12.00" height="30.67" fill="#f6de29"/>
<rect x="103.00" y="73.95" width="12.00" height="29.45" fill="#0dbdbc"/>
<rect x="103.00" y="75.18" width="12.00" height="28.22" fill="#0db3d3"/>
<rect x="103.00" y="76.41" width="12.00" height="26.99" fill="#1aacdd"/>
<rect x="103.00" y="77.63" width="12.00" height="25.77" fill="#22a2e4"/>
<rect x="103.00" y="78.86" width="12.00" height="24.54" fill="#2d8cf3"/>
<rect x="103.00" y="80.09" width="12.00" height="23.31" fill="#327bfc"/>
<rect x="103.00" y="81.31" width="12.00" height="22.09" fill="#307ffb"/>
<rect x="103.00" y="82.54" width="12.00" height="20.86" fill="#3678fd"/>
<rect x="103.00" y="83.77" width="12.00" height="19.63" fill="#327bfc"/>
<rect x="103.00" y="85.00" width="12.00" height="18.40" fill="#4757f7"/>
<rect x="103.00" y="86.22" width="12.00" height="17.18" fill="#4368fe"/>
<rect x="103.00" y="87.45" width="12.00" height="15.95" fill="#3777fe"/>
<rect x="103.00" y="88.68" width="12.00" height="14.72" fill="#3e6fff"/>
<rect x="103.00" y="89.90" width="12.00" height="13.50" fill="#4369fe"/>
<rect x="103.00" y="91.13" width="12.00" height="12.27" fill="#3f6eff"/>
<rect x="103.00" y="92.36" width="12.00" height="11.04" fill="#475cfa"/>
<rect x="103.00" y="93.58" width="12.00" height="9.82" fill="#426afe"/>
<rect x="103.00" y="94.81" width="12.00" height="8.59" fill="#4660fc"/>
<rect x="103.00" y="96.04" width="12.00" height="7.36" fill="#3b73fe"/>
<rect x="103.00" y="97.27" width="12.00" height="6.13" fill="#475cfa"/>
<rect x="103.00" y="98.49" width="12.00" height="4.91" fill="#426afe"/>
<rect x="103.00" y="99.72" width="12.00" height="3.68" fill="#4269fe"/>
<rect x="103.00" y="100.95" width="12.00" height="2.45" fill="#3f6eff"/>
<rect x="103.00" y="102.17" width="12.00" height="1.23" fill="#4854f6"/>
<rect x="115.00" y="26.10" width="12.00" height="77.30" fill="#2f82fa"/>
<rect x="115.00" y="27.33" width="12.00" height="76.07" fill="#2e86f7"/>
<rect x="115.00" y="28.55" width="12.00" height="74.85" fill="#4464fd"/>
<rect x="115.00" y="29.78" width="12.00" height="73.62" fill="#307ffb"/>
<rect x="115.00" y="31.01" width="12.00" height="72.39" fill="#2994ed"/>
<rect x="115.00" y="32.23" width="12.00" height="71.17" fill="#317dfc"/>
<rect x="115.00" y="33.46" width="12.00" height="69.94" fill="#3f6eff"/>
<rect x="115.00" y="34.69" width="12.00" height="68.71" fill="#3a73fe"/>
<rect x="115.00" y="35.92" width="12.00" height="67.48" fill="#2a93ee"/>
<rect x="115.00" y="37.14" width="12.00" height="66.26" fill="#4367fd"/>
<rect x="115.00" y="38.37" width="12.00" height="65.03" fill="#426afe"/>
<rect x="115.00" y="39.60" width="12.00" height="63.80" fill="#484aee"/>
<rect x="115.00" y="40.82" width="12.00" height="62.58" fill="#484ef1"/>
<rect x="115.00" y="42.05" width="12.00" height="61.35" fill="#4368fd"/>
<rect x="115.00" y="43.28" width="12.00" height="60.12" fill="#3677fe"/>
<rect x="115.00" y="44.50" width="12.00" height="58.90" fill="#3975fe"/>
<rect x="115.00" y="45.73" width="12.00" height="57.67" fill="#2f82fa"/>
<rect x="115.00" y="46.96" width="12.00" height="56.44" fill="#14b0d8"/>
<rect x="115.00" y="48.19" width="12.00" height="55.21" fill="#2c8ff0"/>
<rect x="115.00" y="49.41" width="12.00" height="53.99" fill="#2798ea"/>
<rect x="115.00" y="50.64" width="12.00" height="52.76" fill="#259de7"/>
<rect x="115.00" y="51.87" width="12.00" height="51.53" fill="#249ee6"/>
<rect x="115.00" y="53.09" width="12.00" height="50.31" fill="#259ce7"/>
<rect x="115.00" y="54.32" width="12.00" height="49.08" fill="#34c79c"/>
<rect x="115.00" y="55.55" width="12.00" height="47.85" fill="#83cc57"/>
<rect x="115.00" y="56.77" width="12.00" height="46.63" fill="#43ca8a"/>
<rect x="115.00" y="58.00" width="12.00" height="45.40" fill="#a4c83e"/>
<rect x="115.00" y="59.23" width="12.00" height="44.17" fill="#9cc943"/>
<rect x="115.00" y="60.46" width="12.00" height="42.94" fill="#c3c22b"/>
<rect x="115.00" y="61.68" width="12.00" height="41.72" fill="#fec636"/>
<rect x="115.00" y="62.91" width="12.00" height="40.49" fill="#fad42e"/>
<rect x="115.00" y="64.14" width="12.00" height="39.26" fill="#f7ba3c"/>
<rect x="115.00" y="65.36" width="12.00" height="38.04" fill="#fbd32e"/>
<rect x="115.00" y="66.59" width="12.00" height="36.81" fill="#fbbc3d"/>
<rect x="115.00" y="67.82" width="12.00" height="35.58" fill="#fec13a"/>
<rect x="115.00" y="69.04" width="12.00" height="34.36" fill="#afc637"/>
<rect x="115.00" y="70.27" width="12.00" height="33.13" fill="#a0c841"/>
<rect x="115.00" y="71.50" width="12.00" height="31.90" fill="#63cd70"/>
<rect x="115.00" y="72.73" width="12.00" height="30.67" fill="#43ca8a"/>
<rect x="115.00" y="73.95" width="12.00" height="29.45" fill="#40ca8d"/>
<rect x="115.00" y="75.18" width="12.00" height="28.22" fill="#19bfb6"/>
<rect x="115.00" y="76.41" width="12.00" height="26.99" fill="#11b1d6"/>
<rect x="115.00" y="77.63" width="12.00" height="25.77" fill="#2d8df2"/>
<rect x="115.00" y="78.86" width="12.00" height="24.54" fill="#2e84f8"/>
<rect x="115.00" y="80.09" width="12.00" height="23.31" fill="#2e86f7"/>
<rect x="115.00" y="81.31" width="12.00" height="22.09" fill="#3579fd"/>
<rect x="115.00" y="82.54" width="12.00" height="20.86" fill="#2e84f8"/>
<rect x="115.00" y="83.77" width="12.00" height="19.63" fill="#3479fd"/>
<rect x="115.00" y="85.00" width="12.00" height="18.40" fill="#2e85f8"/>
<rect x="115.00" y="86.22" width="12.00" height="17.18" fill="#4758f8"/>
<rect x="115.00" y="87.45" width="12.00" height="15.95" fill="#3c71ff"/>
<rect x="115.00" y="88.68" width="12.00" height="14.72" fill="#337bfc"/>
<rect x="115.00" y="89.90" width="12.00" height="13.50" fill="#3d71ff"/>
<rect x="115.00" y="91.13" width="12.00" height="12.27" fill="#475dfa"/>
<rect x="115.00" y="92.36" width="12.00" height="11.04" fill="#3c72ff"/>
<rect x="115.00" y="93.58" width="12.00" height="9.82" fill="#4367fd"/>
<rect x="115.00" y="94.81" width="12.00" height="8.59" fill="#3c71ff"/>
<rect x="115.00" y="96.04" width="12.00" height="7.36" fill="#406dfe"/>
<rect x="115.00" y="97.27" width="12.00" height="6.13" fill="#4561fc"/>
<rect x="115.00" y="98.49" width="12.00" height="4.91" fill="#3c71ff"/>
<rect x="115.00" y="99.72" width="12.00" height="3.68" fill="#4269fe"/>
<rect x="115.00" y="100.95" width="12.00" height="2.45" fill="#3b73fe"/>
<rect x="115.00" y="102.17" width="12.00" height="1.23" fill="#426afe"/>
<rect x="127.00" y="26.10" width="12.00" height="77.30" fill="#21a3e4"/>
<rect x="127.00" y="27.33" width="12.00" height="76.07" fill="#0db3d3"/>
<rect x="127.00" y="28.55" width="12.00" height="74.85" fill="#2b92ee"/>
<rect x="127.00" y="29.78" width="12.00" height="73.62" fill="#20a4e3"/>
<rect x="127.00" y="31.01" width="12.00" height="72.39" fill="#2d87f6"/>
<rect x="127.00" y="32.23" width="12.00" height="71.17" fill="#475bf9"/>
<rect x="127.00" y="33.46" width="12.00" height="69.94" fill="#3a73fe"/>
<rect x="127.00" y="34.69" width="12.00" height="68.71" fill="#3b72ff"/>
<rect x="127.00" y="35.92" width="12.00" height="67.48" fill="#416bfe"/>
<rect x="127.00" y="37.14" width="12.00" height="66.26" fill="#3677fe"/>
<rect x="127.00" y="38.37" width="12.00" height="65.03" fill="#3579fd"/>
<rect x="127.00" y="39.60" width="12.00" height="63.80" fill="#426afe"/>
<rect x="127.00" y="40.82" width="12.00" height="62.58" fill="#465ffb"/>
<rect x="127.00" y="42.05" width="12.00" height="61.35" fill="#4368fd"/>
<rect x="127.00" y="43.28" width="12.00" height="60.12" fill="#337bfc"/>
<rect x="127.00" y="44.50" width="12.00" height="58.90" fill="#347afd"/>
<rect x="127.00" y="45.73" width="12.00" height="57.67" fill="#3876fe"/>
<rect x="127.00" y="46.96" width="12.00" height="56.44" fill="#2e87f7"/>
<rect x="127.00" y="48.19" width="12.00" height="55.21" fill="#2e86f7"/>
<rect x="127.00" y="49.41" width="12.00" height="53.99" fill="#269ae9"/>
<rect x="127.00" y="50.64" width="12.00" height="52.76" fill="#23a0e5"/>
<rect x="127.00" y="51.87" width="12.00" height="51.53" fill="#22a1e4"/>
<rect x="127.00" y="53.09" width="12.00" height="50.31" fill="#01b8c9"/>
<rect x="127.00" y="54.32" width="12.00" height="49.08" fill="#2fc5a2"/>
<rect x="127.00" y="55.55" width="12.00" height="47.85" fill="#5bcc77"/>
<rect x="127.00" y="56.77" width="12.00" height="46.63" fill="#31c6a0"/>
<rect x="127.00" y="58.00" width="12.00" height="45.40" fill="#b7c532"/>
<rect x="127.00" y="59.23" width="12.00" height="44.17" fill="#84cc56"/>
<rect x="127.00" y="60.46" width="12.00" height="42.94" fill="#afc636"/>
<rect x="127.00" y="61.68" width="12.00" height="41.72" fill="#f3ba38"/>
<rect x="127.00" y="62.91" width="12.00" height="40.49" fill="#f9ba3d"/>
<rect x="127.00" y="64.14" width="12.00" height="39.26" fill="#fec13a"/>
<rect x="127.00" y="65.36" width="12.00" height="38.04" fill="#b8c431"/>
<rect x="127.00" y="66.59" width="12.00" height="36.81" fill="#70cd65"/>
<rect x="127.00" y="67.82" width="12.00" height="35.58" fill="#a8c73b"/>
<rect x="127.00" y="69.04" width="12.00" height="34.36" fill="#eaba31"/>
<rect x="127.00" y="70.27" width="12.00" height="33.13" fill="#3ac993"/>
<rect x="127.00" y="71.50" width="12.00" height="31.90" fill="#60cd72"/>
<rect x="127.00" y="72.73" width="12.00" height="30.67" fill="#2cc4a6"/>
<rect x="127.00" y="73.95" width="12.00" height="29.45" fill="#1cc0b3"/>
<rect x="127.00" y="75.18" width="12.00" height="28.22" fill="#18bfb6"/>
<rect x="127.00" y="76.41" width="12.00" height="26.99" fill="#12b1d6"/>
<rect x="127.00" y="77.63" width="12.00" height="25.77" fill="#1baade"/>
<rect x="127.00" y="78.86" width="12.00" height="24.54" fill="#2a93ed"/>
<rect x="127.00" y="80.09" width="12.00" height="23.31" fill="#2d89f5"/>
<rect x="127.00" y="81.31" width="12.00" height="22.09" fill="#3f6efe"/>
<rect x="127.00" y="82.54" width="12.00" height="20.86" fill="#2f82fa"/>
<rect x="127.00" y="83.77" width="12.00" height="19.63" fill="#3b72ff"/>
<rect x="127.00" y="85.00" width="12.00" height="18.40" fill="#475cfa"/>
<rect x="127.00" y="86.22" width="12.00" height="17.18" fill="#465dfa"/>
<rect x="127.00" y="87.45" width="12.00" height="15.95" fill="#406dfe"/>
<rect x="127.00" y="88.68" width="12.00" height="14.72" fill="#475bf9"/>
<rect x="127.00" y="89.90" width="12.00" height="13.50" fill="#3f6eff"/>
<rect x="127.00" y="91.13" width="12.00" height="12.27" fill="#3876fe"/>
<rect x="127.00" y="92.36" width="12.00" height="11.04" fill="#3c72ff"/>
<rect x="127.00" y="93.58" width="12.00" height="9.82" fill="#465efb"/>
<rect x="127.00" y="94.81" width="12.00" height="8.59" fill="#3b73fe"/>
<rect x="127.00" y="96.04" width="12.00" height="7.36" fill="#3e6fff"/>
<rect x="127.00" y="97.27" width="12.00" height="6.13" fill="#2d8bf4"/>
<rect x="127.00" y="98.49" width="12.00" height="4.91" fill="#4466fd"/>
<rect x="127.00" y="99.72" width="12.00" height="3.68" fill="#4562fc"/>
<rect x="127.00" y="100.95" width="12.00" height="2.45" fill="#4562fc"/>
<rect x="127.00" y="102.17" width="12.00" height="1.23" fill="#2f82fa"/>
<rect x="139.00" y="26.10" width="11.00" height="77.30" fill="#17bfb6"/>
<rect x="139.00" y="27.33" width="11.00" height="76.07" fill="#29c3aa"/>
<rect x="139.00" y="28.55" width="11.00" height="74.85" fill="#07b5cf"/>
<rect x="139.00" y="29.78" width="11.00" height="73.62" fill="#12beb9"/>
<rect x="139.00" y="31.01" width="11.00" height="72.39" fill="#14b0d8"/>
<rect x="139.00" y="32.23" width="11.00" height="71.17" fill="#0fb2d5"/>
<rect x="139.00" y="33.46" width="11.00" height="69.94" fill="#23a0e5"/>
<rect x="139.00" y="34.69" width="11.00" height="68.71" fill="#2f80fa"/>
<rect x="139.00" y="35.92" width="11.00" height="67.48" fill="#2e86f7"/>
<rect x="139.00" y="37.14" width="11.00" height="66.26" fill="#416bfe"/>
<rect x="139.00" y="38.37" width="11.00" height="65.03" fill="#327cfc"/>
<rect x="139.00" y="39.60" width="11.00" height="63.80" fill="#4562fc"/>
<rect x="139.00" y="40.82" width="11.00" height="62.58" fill="#3d70ff"/>
<rect x="139.00" y="42.05" width="11.00" height="61.35" fill="#465ffb"/>
<rect x="139.00" y="43.28" width="11.00" height="60.12" fill="#2e86f8"/>
<rect x="139.00" y="44.50" width="11.00" height="58.90" fill="#3974fe"/>
<rect x="139.00" y="45.73" width="11.00" height="57.67" fill="#2f82fa"/>
<rect x="139.00" y="46.96" width="11.00" height="56.44" fill="#269ae8"/>
<rect x="139.00" y="48.19" width="11.00" height="55.21" fill="#2699e9"/>
<rect x="139.00" y="49.41" width="11.00" height="53.99" fill="#2a92ee"/>
<rect x="139.00" y="50.64" width="11.00" height="52.76" fill="#1babde"/>
<rect x="139.00" y="51.87" width="11.00" height="51.53" fill="#05b6cd"/>
<rect x="139.00" y="53.09" width="11.00" height="50.31" fill="#259be7"/>
<rect x="139.00" y="54.32" width="11.00" height="49.08" fill="#1aacdd"/>
<rect x="139.00" y="55.55" width="11.00" height="47.85" fill="#07b5cf"/>
<rect x="139.00" y="56.77" width="11.00" height="46.63" fill="#39c895"/>
<rect x="139.00" y="58.00" width="11.00" height="45.40" fill="#22c1b0"/>
<rect x="139.00" y="59.23" width="11.00" height="44.17" fill="#65cd6e"/>
<rect x="139.00" y="60.46" width="11.00" height="42.94" fill="#88cb53"/>
<rect x="139.00" y="61.68" width="11.00" height="41.72" fill="#a6c83c"/>
<rect x="139.00" y="62.91" width="11.00" height="40.49" fill="#61cd71"/>
<rect x="139.00" y="64.14" width="11.00" height="39.26" fill="#99c946"/>
<rect x="139.00" y="65.36" width="11.00" height="38.04" fill="#5ecc74"/>
<rect x="139.00" y="66.59" width="11.00" height="36.81" fill="#fdbd3d"/>
<rect x="139.00" y="67.82" width="11.00" height="35.58" fill="#31c6a0"/>
<rect x="139.00" y="69.04" width="11.00" height="34.36" fill="#27c2ab"/>
<rect x="139.00" y="70.27" width="11.00" height="33.13" fill="#74cc62"/>
<rect x="139.00" y="71.50" width="11.00" height="31.90" fill="#8fcb4e"/>
<rect x="139.00" y="72.73" width="11.00" height="30.67" fill="#26c2ad"/>
<rect x="139.00" y="73.95" width="11.00" height="29.45" fill="#01b8ca"/>
<rect x="139.00" y="75.18" width="11.00" height="28.22" fill="#20a5e3"/>
<rect x="139.00" y="76.41" width="11.00" height="26.99" fill="#2797ea"/>
<rect x="139.00" y="77.63" width="11.00" height="25.77" fill="#1ca9e0"/>
<rect x="139.00" y="78.86" width="11.00" height="24.54" fill="#2c8ff0"/>
<rect x="139.00" y="80.09" width="11.00" height="23.31" fill="#2c90f0"/>
<rect x="139.00" y="81.31" width="11.00" height="22.09" fill="#3975fe"/>
<rect x="139.00" y="82.54" width="11.00" height="20.86" fill="#3b73fe"/>
<rect x="139.00" y="83.77" width="11.00" height="19.63" fill="#2f83f9"/>
<rect x="139.00" y="85.00" width="11.00" height="18.40" fill="#4756f7"/>
<rect x="139.00" y="86.22" width="11.00" height="17.18" fill="#259ce7"/>
<rect x="139.00" y="87.45" width="11.00" height="15.95" fill="#3c71ff"/>
<rect x="139.00" y="88.68" width="11.00" height="14.72" fill="#2f82fa"/>
<rect x="139.00" y="89.90" width="11.00" height="13.50" fill="#3b72fe"/>
<rect x="139.00" y="91.13" width="11.00" height="12.27" fill="#2f82fa"/>
<rect x="139.00" y="92.36" width="11.00" height="11.04" fill="#3876fe"/>
<rect x="139.00" y="93.58" width="11.00" height="9.82" fill="#406cfe"/>
<rect x="139.00" y="94.81" width="11.00" height="8.59" fill="#4563fd"/>
<rect x="139.00" y="96.04" width="11.00" height="7.36" fill="#3974fe"/>
<rect x="139.00" y="97.27" width="11.00" height="6.13" fill="#2e86f7"/>
<rect x="139.00" y="98.49" width="11.00" height="4.91" fill="#327cfc"/>
<rect x="139.00" y="99.72" width="11.00" height="3.68" fill="#249fe5"/>
<rect x="139.00" y="100.95" width="11.00" height="2.45" fill="#1babde"/>
<rect x="139.00" y="102.17" width="11.00" height="1.23" fill="#2698ea"/>
<rect x="150.00" y="26.10" width="12.00" height="77.30" fill="#2cc4a7"/>
<rect x="150.00" y="27.33" width="12.00" height="76.07" fill="#02bbc3"/>
<rect x="150.00" y="28.55" width="12.00" height="74.85" fill="#5acc77"/>
<rect x="150.00" y="29.78" width="12.00" height="73.62" fill="#3ac993"/>
<rect x="150.00" y="31.01" width="12.00" height="72.39" fill="#03bbc2"/>
<rect x="150.00" y="32.23" width="12.00" height="71.17" fill="#2e83f9"/>
<rect x="150.00" y="33.46" width="12.00" height="69.94" fill="#269ae8"/>
<rect x="150.00" y="34.69" width="12.00" height="68.71" fill="#259de7"/>
<rect x="150.00" y="35.92" width="12.00" height="67.48" fill="#2f80fa"/>
<rect x="150.00" y="37.14" width="12.00" height="66.26" fill="#327cfc"/>
<rect x="150.00" y="38.37" width="12.00" height="65.03" fill="#4562fc"/>
<rect x="150.00" y="39.60" width="12.00" height="63.80" fill="#01b8c8"/>
<rect x="150.00" y="40.82" width="12.00" height="62.58" fill="#2e85f8"/>
<rect x="150.00" y="42.05" width="12.00" height="61.35" fill="#3776fe"/>
<rect x="150.00" y="43.28" width="12.00" height="60.12" fill="#2e87f7"/>
<rect x="150.00" y="44.50" width="12.00" height="58.90" fill="#3a74fe"/>
<rect x="150.00" y="45.73" width="12.00" height="57.67" fill="#249ee6"/>
<rect x="150.00" y="46.96" width="12.00" height="56.44" fill="#2d8df2"/>
<rect x="150.00" y="48.19" width="12.00" height="55.21" fill="#2f81fa"/>
<rect x="150.00" y="49.41" width="12.00" height="53.99" fill="#2895ec"/>
<rect x="150.00" y="50.64" width="12.00" height="52.76" fill="#1ea8e1"/>
<rect x="150.00" y="51.87" width="12.00" height="51.53" fill="#2d8df2"/>
<rect x="150.00" y="53.09" width="12.00" height="50.31" fill="#23a1e4"/>
<rect x="150.00" y="54.32" width="12.00" height="49.08" fill="#11b1d6"/>
<rect x="150.00" y="55.55" width="12.00" height="47.85" fill="#07b5d0"/>
<rect x="150.00" y="56.77" width="12.00" height="46.63" fill="#01b7ca"/>
<rect x="150.00" y="58.00" width="12.00" height="45.40" fill="#48cb86"/>
<rect x="150.00" y="59.23" width="12.00" height="44.17" fill="#3bc992"/>
<rect x="150.00" y="60.46" width="12.00" height="42.94" fill="#7ccc5c"/>
<rect x="150.00" y="61.68" width="12.00" height="41.72" fill="#18bfb6"/>
<rect x="150.00" y="62.91" width="12.00" height="40.49" fill="#3eca8f"/>
<rect x="150.00" y="64.14" width="12.00" height="39.26" fill="#02bac5"/>
<rect x="150.00" y="65.36" width="12.00" height="38.04" fill="#1cc0b3"/>
<rect x="150.00" y="66.59" width="12.00" height="36.81" fill="#0bbdbd"/>
<rect x="150.00" y="67.82" width="12.00" height="35.58" fill="#3ac993"/>
<rect x="150.00" y="69.04" width="12.00" height="34.36" fill="#4fcc80"/>
<rect x="150.00" y="70.27" width="12.00" height="33.13" fill="#48cb86"/>
<rect x="150.00" y="71.50" width="12.00" height="31.90" fill="#13beb9"/>
<rect x="150.00" y="72.73" width="12.00" height="30.67" fill="#0ab4d2"/>
<rect x="150.00" y="73.95" width="12.00" height="29.45" fill="#21a4e3"/>
<rect x="150.00" y="75.18" width="12.00" height="28.22" fill="#269ae8"/>
<rect x="150.00" y="76.41" width="12.00" height="26.99" fill="#22a2e4"/>
<rect x="150.00" y="77.63" width="12.00" height="25.77" fill="#2798ea"/>
<rect x="150.00" y="78.86" width="12.00" height="24.54" fill="#2d8af5"/>
<rect x="150.00" y="80.09" width="12.00" height="23.31" fill="#317efb"/>
<rect x="150.00" y="81.31" width="12.00" height="22.09" fill="#2c8ff0"/>
<rect x="150.00" y="82.54" width="12.00" height="20.86" fill="#2797ea"/>
<rect x="150.00" y="83.77" width="12.00" height="19.63" fill="#4561fc"/>
<rect x="150.00" y="85.00" width="12.00" height="18.40" fill="#4269fe"/>
<rect x="150.00" y="86.22" width="12.00" height="17.18" fill="#3f6eff"/>
<rect x="150.00" y="87.45" width="12.00" height="15.95" fill="#3876fe"/>
<rect x="150.00" y="88.68" width="12.00" height="14.72" fill="#3579fd"/>
<rect x="150.00" y="89.90" width="12.00" height="13.50" fill="#3d70ff"/>
<rect x="150.00" y="91.13" width="12.00" height="12.27" fill="#416bfe"/>
<rect x="150.00" y="92.36" width="12.00" height="11.04" fill="#4367fd"/>
<rect x="150.00" y="93.58" width="12.00" height="9.82" fill="#3678fd"/>
<rect x="150.00" y="94.81" width="12.00" height="8.59" fill="#2d88f6"/>
<rect x="150.00" y="96.04" width="12.00" height="7.36" fill="#2f81fa"/>
<rect x="150.00" y="97.27" width="12.00" height="6.13" fill="#3876fe"/>
<rect x="150.00" y="98.49" width="12.00" height="4.91" fill="#01b8ca"/>
<rect x="150.00" y="99.72" width="12.00" height="3.68" fill="#1caadf"/>
<rect x="150.00" y="100.95" width="12.00" height="2.45" fill="#01b9c7"/>
<rect x="150.00" y="102.17" width="12.00" height="1.23" fill="#5ccc75"/>
<rect x="162.00" y="26.10" width="12.00" height="77.30" fill="#37c898"/>
<rect x="162.00" y="27.33" width="12.00" height="76.07" fill="#10b2d5"/>
<rect x="162.00" y="28.55" width="12.00" height="74.85" fill="#0bb3d2"/>
<rect x="162.00" y="29.78" width="12.00" height="73.62" fill="#01b9c8"/>
<rect x="162.00" y="31.01" width="12.00" height="72.39" fill="#2896eb"/>
<rect x="162.00" y="32.23" width="12.00" height="71.17" fill="#23a0e5"/>
<rect x="162.00" y="33.46" width="12.00" height="69.94" fill="#2d8df2"/>
<rect x="162.00" y="34.69" width="12.00" height="68.71" fill="#2d88f6"/>
<rect x="162.00" y="35.92" width="12.00" height="67.48" fill="#4464fd"/>
<rect x="162.00" y="37.14" width="12.00" height="66.26" fill="#2f81fa"/>
<rect x="162.00" y="38.37" width="12.00" height="65.03" fill="#307ffb"/>
<rect x="162.00" y="39.60" width="12.00" height="63.80" fill="#3f6eff"/>
<rect x="162.00" y="40.82" width="12.00" height="62.58" fill="#3876fe"/>
<rect x="162.00" y="42.05" width="12.00" height="61.35" fill="#3d71ff"/>
<rect x="162.00" y="43.28" width="12.00" height="60.12" fill="#406cfe"/>
<rect x="162.00" y="44.50" width="12.00" height="58.90" fill="#406cfe"/>
<rect x="162.00" y="45.73" width="12.00" height="57.67" fill="#3b73fe"/>
<rect x="162.00" y="46.96" width="12.00" height="56.44" fill="#3a73fe"/>
<rect x="162.00" y="48.19" width="12.00" height="55.21" fill="#307ffb"/>
<rect x="162.00" y="49.41" width="12.00" height="53.99" fill="#465ffb"/>
<rect x="162.00" y="50.64" width="12.00" height="52.76" fill="#416bfe"/>
<rect x="162.00" y="51.87" width="12.00" height="51.53" fill="#416bfe"/>
<rect x="162.00" y="53.09" width="12.00" height="50.31" fill="#3c71ff"/>
<rect x="162.00" y="54.32" width="12.00" height="49.08" fill="#20a4e3"/>
<rect x="162.00" y="55.55" width="12.00" height="47.85" fill="#4367fd"/>
<rect x="162.00" y="56.77" width="12.00" height="46.63" fill="#1aabdd"/>
<rect x="162.00" y="58.00" width="12.00" height="45.40" fill="#2699e9"/>
<rect x="162.00" y="59.23" width="12.00" height="44.17" fill="#249de6"/>
<rect x="162.00" y="60.46" width="12.00" height="42.94" fill="#259ce7"/>
<rect x="162.00" y="61.68" width="12.00" height="41.72" fill="#17aeda"/>
<rect x="162.00" y="62.91" width="12.00" height="40.49" fill="#26c2ad"/>
<rect x="162.00" y="64.14" width="12.00" height="39.26" fill="#08b4d0"/>
<rect x="162.00" y="65.36" width="12.00" height="38.04" fill="#317dfc"/>
<rect x="162.00" y="66.59" width="12.00" height="36.81" fill="#23a1e4"/>
<rect x="162.00" y="67.82" width="12.00" height="35.58" fill="#02b7ca"/>
<rect x="162.00" y="69.04" width="12.00" height="34.36" fill="#249ee6"/>
<rect x="162.00" y="70.27" width="12.00" height="33.13" fill="#0fb2d4"/>
<rect x="162.00" y="71.50" width="12.00" height="31.90" fill="#2a93ed"/>
<rect x="162.00" y="72.73" width="12.00" height="30.67" fill="#23a0e5"/>
<rect x="162.00" y="73.95" width="12.00" height="29.45" fill="#317dfc"/>
<rect x="162.00" y="75.18" width="12.00" height="28.22" fill="#2d8df2"/>
<rect x="162.00" y="76.41" width="12.00" height="26.99" fill="#3a74fe"/>
<rect x="162.00" y="77.63" width="12.00" height="25.77" fill="#3b73fe"/>
<rect x="162.00" y="78.86" width="12.00" height="24.54" fill="#3d71ff"/>
<rect x="162.00" y="80.09" width="12.00" height="23.31" fill="#4743e7"/>
<rect x="162.00" y="81.31" width="12.00" height="22.09" fill="#2e86f7"/>
<rect x="162.00" y="82.54" width="12.00" height="20.86" fill="#3080fa"/>
<rect x="162.00" y="83.77" width="12.00" height="19.63" fill="#3a74fe"/>
<rect x="162.00" y="85.00" width="12.00" height="18.40" fill="#416bfe"/>
<rect x="162.00" y="86.22" width="12.00" height="17.18" fill="#4465fd"/>
<rect x="162.00" y="87.45" width="12.00" height="15.95" fill="#3579fd"/>
<rect x="162.00" y="88.68" width="12.00" height="14.72" fill="#426afe"/>
<rect x="162.00" y="89.90" width="12.00" height="13.50" fill="#3f6efe"/>
<rect x="162.00" y="91.13" width="12.00" height="12.27" fill="#337bfc"/>
<rect x="162.00" y="92.36" width="12.00" height="11.04" fill="#3d70ff"/>
<rect x="162.00" y="93.58" width="12.00" height="9.82" fill="#2c8ff1"/>
<rect x="162.00" y="94.81" width="12.00" height="8.59" fill="#317dfc"/>
<rect x="162.00" y="96.04" width="12.00" height="7.36" fill="#4269fe"/>
<rect x="162.00" y="97.27" width="12.00" height="6.13" fill="#3975fe"/>
<rect x="162.00" y="98.49" width="12.00" height="4.91" fill="#23a0e5"/>
<rect x="162.00" y="99.72" width="12.00" height="3.68" fill="#249fe6"/>
<rect x="162.00" y="100.95" width="12.00" height="2.45" fill="#2896eb"/>
<rect x="162.00" y="102.17" width="12.00" height="1.23" fill="#15bfb7"/>
<rect x="174.00" y="26.10" width="11.00" height="77.30" fill="#22a2e4"/>
<rect x="174.00" y="27.33" width="11.00" height="76.07" fill="#249ee6"/>
<rect x="174.00" y="28.55" width="11.00" height="74.85" fill="#327dfc"/>
<rect x="174.00" y="29.78" width="11.00" height="73.62" fill="#23a0e5"/>
<rect x="174.00" y="31.01" width="11.00" height="72.39" fill="#2994ed"/>
<rect x="174.00" y="32.23" width="11.00" height="71.17" fill="#2d89f6"/>
<rect x="174.00" y="33.46" width="11.00" height="69.94" fill="#2e83f9"/>
<rect x="174.00" y="34.69" width="11.00" height="68.71" fill="#3f6efe"/>
<rect x="174.00" y="35.92" width="11.00" height="67.48" fill="#3b73fe"/>
<rect x="174.00" y="37.14" width="11.00" height="66.26" fill="#4466fd"/>
<rect x="174.00" y="38.37" width="11.00" height="65.03" fill="#475cfa"/>
<rect x="174.00" y="39.60" width="11.00" height="63.80" fill="#4758f8"/>
<rect x="174.00" y="40.82" width="11.00" height="62.58" fill="#317dfc"/>
<rect x="174.00" y="42.05" width="11.00" height="61.35" fill="#3f6efe"/>
<rect x="174.00" y="43.28" width="11.00" height="60.12" fill="#406dfe"/>
<rect x="174.00" y="44.50" width="11.00" height="58.90" fill="#4561fc"/>
<rect x="174.00" y="45.73" width="11.00" height="57.67" fill="#406dfe"/>
<rect x="174.00" y="46.96" width="11.00" height="56.44" fill="#307ffb"/>
<rect x="174.00" y="48.19" width="11.00" height="55.21" fill="#3d70ff"/>
<rect x="174.00" y="49.41" width="11.00" height="53.99" fill="#3f6eff"/>
<rect x="174.00" y="50.64" width="11.00" height="52.76" fill="#4368fe"/>
<rect x="174.00" y="51.87" width="11.00" height="51.53" fill="#3c72ff"/>
<rect x="174.00" y="53.09" width="11.00" height="50.31" fill="#2c8ff1"/>
<rect x="174.00" y="54.32" width="11.00" height="49.08" fill="#4368fe"/>
<rect x="174.00" y="55.55" width="11.00" height="47.85" fill="#2f82f9"/>
<rect x="174.00" y="56.77" width="11.00" height="46.63" fill="#4366fd"/>
<rect x="174.00" y="58.00" width="11.00" height="45.40" fill="#2d8df2"/>
<rect x="174.00" y="59.23" width="11.00" height="44.17" fill="#2d88f6"/>
<rect x="174.00" y="60.46" width="11.00" height="42.94" fill="#2c8ef1"/>
<rect x="174.00" y="61.68" width="11.00" height="41.72" fill="#2d88f6"/>
<rect x="174.00" y="62.91" width="11.00" height="40.49" fill="#307efb"/>
<rect x="174.00" y="64.14" width="11.00" height="39.26" fill="#2d8af4"/>
<rect x="174.00" y="65.36" width="11.00" height="38.04" fill="#2d88f6"/>
<rect x="174.00" y="66.59" width="11.00" height="36.81" fill="#2a93ee"/>
<rect x="174.00" y="67.82" width="11.00" height="35.58" fill="#3479fd"/>
<rect x="174.00" y="69.04" width="11.00" height="34.36" fill="#2c90f0"/>
<rect x="174.00" y="70.27" width="11.00" height="33.13" fill="#2c90f0"/>
<rect x="174.00" y="71.50" width="11.00" height="31.90" fill="#2c8ef1"/>
<rect x="174.00" y="72.73" width="11.00" height="30.67" fill="#2d89f5"/>
<rect x="174.00" y="73.95" width="11.00" height="29.45" fill="#4561fc"/>
<rect x="174.00" y="75.18" width="11.00" height="28.22" fill="#2e86f7"/>
<rect x="174.00" y="76.41" width="11.00" height="26.99" fill="#3e6fff"/>
<rect x="174.00" y="77.63" width="11.00" height="25.77" fill="#2e86f7"/>
<rect x="174.00" y="78.86" width="11.00" height="24.54" fill="#3579fd"/>
<rect x="174.00" y="80.09" width="11.00" height="23.31" fill="#4660fc"/>
<rect x="174.00" y="81.31" width="11.00" height="22.09" fill="#475af9"/>
<rect x="174.00" y="82.54" width="11.00" height="20.86" fill="#4660fc"/>
<rect x="174.00" y="83.77" width="11.00" height="19.63" fill="#3f6efe"/>
<rect x="174.00" y="85.00" width="11.00" height="18.40" fill="#416bfe"/>
<rect x="174.00" y="86.22" width="11.00" height="17.18" fill="#465ffb"/>
<rect x="174.00" y="87.45" width="11.00" height="15.95" fill="#3f6dfe"/>
<rect x="174.00" y="88.68" width="11.00" height="14.72" fill="#4854f5"/>
<rect x="174.00" y="89.90" width="11.00" height="13.50" fill="#4660fb"/>
<rect x="174.00" y="91.13" width="11.00" height="12.27" fill="#465dfb"/>
<rect x="174.00" y="92.36" width="11.00" height="11.04" fill="#406dfe"/>
<rect x="174.00" y="93.58" width="11.00" height="9.82" fill="#416bfe"/>
<rect x="174.00" y="94.81" width="11.00" height="8.59" fill="#4466fd"/>
<rect x="174.00" y="96.04" width="11.00" height="7.36" fill="#317efb"/>
<rect x="174.00" y="97.27" width="11.00" height="6.13" fill="#3b72fe"/>
<rect x="174.00" y="98.49" width="11.00" height="4.91" fill="#4562fc"/>
<rect x="174.00" y="99.72" width="11.00" height="3.68" fill="#416cfe"/>
<rect x="174.00" y="100.95" width="11.00" height="2.45" fill="#3b73fe"/>
<rect x="174.00" y="102.17" width="11.00" height="1.23" fill="#3579fd"/>
<rect x="185.00" y="26.10" width="12.00" height="77.30" fill="#16afd9"/>
<rect x="185.00" y="27.33" width="12.00" height="76.07" fill="#3080fb"/>
<rect x="185.00" y="28.55" width="12.00" height="74.85" fill="#2d88f6"/>
<rect x="185.00" y="29.78" width="12.00" height="73.62" fill="#406cfe"/>
<rect x="185.00" y="31.01" width="12.00" height="72.39" fill="#2c8ff1"/>
<rect x="185.00" y="32.23" width="12.00" height="71.17" fill="#475af9"/>
<rect x="185.00" y="33.46" width="12.00" height="69.94" fill="#4563fd"/>
<rect x="185.00" y="34.69" width="12.00" height="68.71" fill="#4465fd"/>
<rect x="185.00" y="35.92" width="12.00" height="67.48" fill="#426afe"/>
<rect x="185.00" y="37.14" width="12.00" height="66.26" fill="#4853f5"/>
<rect x="185.00" y="38.37" width="12.00" height="65.03" fill="#4464fd"/>
<rect x="185.00" y="39.60" width="12.00" height="63.80" fill="#3b73fe"/>
<rect x="185.00" y="40.82" width="12.00" height="62.58" fill="#426afe"/>
<rect x="185.00" y="42.05" width="12.00" height="61.35" fill="#4850f2"/>
<rect x="185.00" y="43.28" width="12.00" height="60.12" fill="#4759f8"/>
<rect x="185.00" y="44.50" width="12.00" height="58.90" fill="#2d8cf3"/>
<rect x="185.00" y="45.73" width="12.00" height="57.67" fill="#465ffb"/>
<rect x="185.00" y="46.96" width="12.00" height="56.44" fill="#484bef"/>
<rect x="185.00" y="48.19" width="12.00" height="55.21" fill="#3678fe"/>
<rect x="185.00" y="49.41" width="12.00" height="53.99" fill="#465ffb"/>
<rect x="185.00" y="50.64" width="12.00" height="52.76" fill="#475cfa"/>
<rect x="185.00" y="51.87" width="12.00" height="51.53" fill="#3f6fff"/>
<rect x="185.00" y="53.09" width="12.00" height="50.31" fill="#3d71ff"/>
<rect x="185.00" y="54.32" width="12.00" height="49.08" fill="#4757f8"/>
<rect x="185.00" y="55.55" width="12.00" height="47.85" fill="#3b72fe"/>
<rect x="185.00" y="56.77" width="12.00" height="46.63" fill="#3a73fe"/>
<rect x="185.00" y="58.00" width="12.00" height="45.40" fill="#2d89f6"/>
<rect x="185.00" y="59.23" width="12.00" height="44.17" fill="#3579fd"/>
<rect x="185.00" y="60.46" width="12.00" height="42.94" fill="#2d89f6"/>
<rect x="185.00" y="61.68" width="12.00" height="41.72" fill="#2f80fa"/>
<rect x="185.00" y="62.91" width="12.00" height="40.49" fill="#2f80fa"/>
<rect x="185.00" y="64.14" width="12.00" height="39.26" fill="#2d88f6"/>
<rect x="185.00" y="65.36" width="12.00" height="38.04" fill="#12b1d7"/>
<rect x="185.00" y="66.59" width="12.00" height="36.81" fill="#2b92ee"/>
<rect x="185.00" y="67.82" width="12.00" height="35.58" fill="#2f82f9"/>
<rect x="185.00" y="69.04" width="12.00" height="34.36" fill="#347afd"/>
<rect x="185.00" y="70.27" width="12.00" height="33.13" fill="#3e6fff"/>
<rect x="185.00" y="71.50" width="12.00" height="31.90" fill="#2c8ef1"/>
<rect x="185.00" y="72.73" width="12.00" height="30.67" fill="#337bfd"/>
<rect x="185.00" y="73.95" width="12.00" height="29.45" fill="#2d8af5"/>
<rect x="185.00" y="75.18" width="12.00" height="28.22" fill="#2f80fa"/>
<rect x="185.00" y="76.41" width="12.00" height="26.99" fill="#416bfe"/>
<rect x="185.00" y="77.63" width="12.00" height="25.77" fill="#406cfe"/>
<rect x="185.00" y="78.86" width="12.00" height="24.54" fill="#3876fe"/>
<rect x="185.00" y="80.09" width="12.00" height="23.31" fill="#3a74fe"/>
<rect x="185.00" y="81.31" width="12.00" height="22.09" fill="#484ef1"/>
<rect x="185.00" y="82.54" width="12.00" height="20.86" fill="#3f6eff"/>
<rect x="185.00" y="83.77" width="12.00" height="19.63" fill="#4269fe"/>
<rect x="185.00" y="85.00" width="12.00" height="18.40" fill="#4562fc"/>
<rect x="185.00" y="86.22" width="12.00" height="17.18" fill="#3a74fe"/>
<rect x="185.00" y="87.45" width="12.00" height="15.95" fill="#475cfa"/>
<rect x="185.00" y="88.68" width="12.00" height="14.72" fill="#3f6efe"/>
<rect x="185.00" y="89.90" width="12.00" height="13.50" fill="#3678fd"/>
<rect x="185.00" y="91.13" width="12.00" height="12.27" fill="#4757f7"/>
<rect x="185.00" y="92.36" width="12.00" height="11.04" fill="#4851f3"/>
<rect x="185.00" y="93.58" width="12.00" height="9.82" fill="#4561fc"/>
<rect x="185.00" y="94.81" width="12.00" height="8.59" fill="#475cfa"/>
<rect x="185.00" y="96.04" width="12.00" height="7.36" fill="#475dfa"/>
<rect x="185.00" y="97.27" width="12.00" height="6.13" fill="#4660fc"/>
<rect x="185.00" y="98.49" width="12.00" height="4.91" fill="#3d71ff"/>
<rect x="185.00" y="99.72" width="12.00" height="3.68" fill="#3d70ff"/>
<rect x="185.00" y="100.95" width="12.00" height="2.45" fill="#4563fd"/>
<rect x="185.00" y="102.17" width="12.00" height="1.23" fill="#406cfe"/>
</g>
<text class="tk" x="38.81" y="118.70" text-anchor="middle">0</text>
<text class="tk" x="97.38" y="118.70" text-anchor="middle">0.5</text>
<text class="tk" x="155.95" y="118.70" text-anchor="middle">1</text>
<text class="tk" x="29.80" y="30.96" text-anchor="end">0</text>
<text class="tk" x="29.80" y="55.50" text-anchor="end">2</text>
<text class="tk" x="29.80" y="80.04" text-anchor="end">4</text>
<text class="tk" x="29.80" y="104.58" text-anchor="end">6</text>
<path d="M39.06 103.40v-1.80M39.06 26.10v1.80M97.63 103.40v-1.80M97.63 26.10v1.80M156.20 103.40v-1.80M156.20 26.10v1.80M33.20 26.71h1.80M197.20 26.71h-1.80M33.20 51.25h1.80M197.20 51.25h-1.80M33.20 75.79h1.80M197.20 75.79h-1.80M33.20 100.33h1.80M197.20 100.33h-1.80" stroke="#303030" stroke-width="0.7" fill="none"/>
<rect x="33.20" y="26.10" width="164.00" height="77.30" fill="none" stroke="#303030" stroke-width="0.7"/>
<rect x="206.10" y="26.80" width="17.40" height="75.50" fill="url(#pg)" stroke="#303030" stroke-width="0.8"/>
<path d="M223.50 59.88h-1.6" stroke="#303030" stroke-width="0.7"/>
<text class="tk cb" x="227.6" y="63.78">0.5</text>
<text class="tk cb" x="227.6" y="106.20">0</text>
<rect x="324.30" y="26.10" width="220.80" height="77.30" fill="#3e26a8"/>
<rect x="324" y="58.00" width="16" height="5.30" fill="#f9fb15"/>
<rect x="324" y="64.70" width="16" height="1.60" fill="#f9fb15"/>
<rect x="324" y="68.00" width="16" height="1.30" fill="#f9fb15"/>
<rect x="324" y="70.20" width="16" height="4.00" fill="#f9fb15"/>
<rect x="340" y="59.50" width="16" height="0.90" fill="#f9fb15"/>
<rect x="340" y="63.00" width="16" height="1.80" fill="#f9fb15"/>
<rect x="340" y="69.60" width="16" height="0.80" fill="#f9fb15"/>
<rect x="356" y="62.00" width="16" height="7.60" fill="#f9fb15"/>
<rect x="372" y="63.30" width="15" height="3.60" fill="#f9fb15"/>
<rect x="387" y="59.50" width="16" height="0.90" fill="#f9fb15"/>
<rect x="387" y="62.00" width="16" height="3.60" fill="#f9fb15"/>
<rect x="387" y="66.50" width="16" height="1.00" fill="#f9fb15"/>
<rect x="387" y="69.50" width="16" height="0.90" fill="#f9fb15"/>
<rect x="403" y="62.30" width="16" height="0.80" fill="#f9fb15"/>
<rect x="403" y="64.40" width="16" height="1.20" fill="#f9fb15"/>
<rect x="403" y="67.00" width="16" height="0.90" fill="#f9fb15"/>
<text class="tk" x="331.94" y="118.70" text-anchor="middle">0</text>
<text class="tk" x="363.48" y="118.70" text-anchor="middle">0.2</text>
<text class="tk" x="395.02" y="118.70" text-anchor="middle">0.4</text>
<text class="tk" x="426.56" y="118.70" text-anchor="middle">0.6</text>
<text class="tk" x="458.11" y="118.70" text-anchor="middle">0.8</text>
<text class="tk" x="489.65" y="118.70" text-anchor="middle">1</text>
<text class="tk" x="521.19" y="118.70" text-anchor="middle">1.2</text>
<text class="tk" x="320.90" y="30.96" text-anchor="end">0</text>
<text class="tk" x="320.90" y="55.50" text-anchor="end">2</text>
<text class="tk" x="320.90" y="80.04" text-anchor="end">4</text>
<text class="tk" x="320.90" y="104.58" text-anchor="end">6</text>
<path d="M332.19 103.40v-1.80M332.19 26.10v1.80M363.73 103.40v-1.80M363.73 26.10v1.80M395.27 103.40v-1.80M395.27 26.10v1.80M426.81 103.40v-1.80M426.81 26.10v1.80M458.36 103.40v-1.80M458.36 26.10v1.80M489.90 103.40v-1.80M489.90 26.10v1.80M521.44 103.40v-1.80M521.44 26.10v1.80M324.30 26.71h1.80M545.10 26.71h-1.80M324.30 51.25h1.80M545.10 51.25h-1.80M324.30 75.79h1.80M545.10 75.79h-1.80M324.30 100.33h1.80M545.10 100.33h-1.80" stroke="#303030" stroke-width="0.7" fill="none"/>
<rect x="324.30" y="26.10" width="220.80" height="77.30" fill="none" stroke="#303030" stroke-width="0.7"/>
<text class="tt tl" x="114.40" y="14.00" text-anchor="middle">P<tspan dy="4" font-size="9.6">d</tspan><tspan dy="-4"> of Ratio</tspan></text>
<text class="tt" x="434.70" y="17.50" text-anchor="middle">Detectable area of Ratio</text>
<g transform="translate(115.20 133.90) rotate(0)"><text class="dl" x="-26.20" y="0" textLength="9.90" lengthAdjust="spacingAndGlyphs">Δ</text><text class="gr" x="-16.20" y="0" textLength="7.20" lengthAdjust="spacingAndGlyphs">τ</text><text class="lb" x="-6.10" y="0">(chip)</text></g>
<g transform="translate(434.70 133.90) rotate(0)"><text class="dl" x="-26.20" y="0" textLength="9.90" lengthAdjust="spacingAndGlyphs">Δ</text><text class="gr" x="-16.20" y="0" textLength="7.20" lengthAdjust="spacingAndGlyphs">τ</text><text class="lb" x="-6.10" y="0">(chip)</text></g>
<g transform="translate(16.00 64.75) rotate(-90)"><text class="dl" x="-23.30" y="0" textLength="10.00" lengthAdjust="spacingAndGlyphs">Δ</text><text class="gr2" x="-12.50" y="0" textLength="6.90" lengthAdjust="spacingAndGlyphs">θ</text><text class="lb" x="-1.00" y="0">(rad)</text></g>
<g transform="translate(306.00 64.75) rotate(-90)"><text class="dl" x="-23.30" y="0" textLength="10.00" lengthAdjust="spacingAndGlyphs">Δ</text><text class="gr2" x="-12.50" y="0" textLength="6.90" lengthAdjust="spacingAndGlyphs">θ</text><text class="lb" x="-1.00" y="0">(rad)</text></g>
<g>
<rect x="33.00" y="163.00" width="12.00" height="77.10" fill="#3e26a8"/>
<rect x="33.00" y="164.22" width="12.00" height="75.88" fill="#3e26a8"/>
<rect x="33.00" y="165.45" width="12.00" height="74.65" fill="#3f29b0"/>
<rect x="33.00" y="166.67" width="12.00" height="73.43" fill="#3e26a8"/>
<rect x="33.00" y="167.90" width="12.00" height="72.20" fill="#3e26a8"/>
<rect x="33.00" y="169.12" width="12.00" height="70.98" fill="#402ab3"/>
<rect x="33.00" y="170.34" width="12.00" height="69.76" fill="#3e26a8"/>
<rect x="33.00" y="171.57" width="12.00" height="68.53" fill="#3e26a8"/>
<rect x="33.00" y="172.79" width="12.00" height="67.31" fill="#3e27ac"/>
<rect x="33.00" y="174.01" width="12.00" height="66.09" fill="#3e27ab"/>
<rect x="33.00" y="175.24" width="12.00" height="64.86" fill="#3e27aa"/>
<rect x="33.00" y="176.46" width="12.00" height="63.64" fill="#3f29b0"/>
<rect x="33.00" y="177.69" width="12.00" height="62.41" fill="#402bb7"/>
<rect x="33.00" y="178.91" width="12.00" height="61.19" fill="#412cb9"/>
<rect x="33.00" y="180.13" width="12.00" height="59.97" fill="#4331c7"/>
<rect x="33.00" y="181.36" width="12.00" height="58.74" fill="#422fc1"/>
<rect x="33.00" y="182.58" width="12.00" height="57.52" fill="#4434cf"/>
<rect x="33.00" y="183.80" width="12.00" height="56.30" fill="#4433cb"/>
<rect x="33.00" y="185.03" width="12.00" height="55.07" fill="#4537d6"/>
<rect x="33.00" y="186.25" width="12.00" height="53.85" fill="#4746ea"/>
<rect x="33.00" y="187.48" width="12.00" height="52.62" fill="#465ffb"/>
<rect x="33.00" y="188.70" width="12.00" height="51.40" fill="#416bfe"/>
<rect x="33.00" y="189.92" width="12.00" height="50.18" fill="#2e84f9"/>
<rect x="33.00" y="191.15" width="12.00" height="48.95" fill="#20a5e2"/>
<rect x="33.00" y="192.37" width="12.00" height="47.73" fill="#2c8ff0"/>
<rect x="33.00" y="193.60" width="12.00" height="46.50" fill="#02b7cb"/>
<rect x="33.00" y="194.82" width="12.00" height="45.28" fill="#5acc78"/>
<rect x="33.00" y="196.04" width="12.00" height="44.06" fill="#22c1b0"/>
<rect x="33.00" y="197.27" width="12.00" height="42.83" fill="#86cb55"/>
<rect x="33.00" y="198.49" width="12.00" height="41.61" fill="#61cd72"/>
<rect x="33.00" y="199.71" width="12.00" height="40.39" fill="#3eca8f"/>
<rect x="33.00" y="200.94" width="12.00" height="39.16" fill="#51cc7f"/>
<rect x="33.00" y="202.16" width="12.00" height="37.94" fill="#2dc4a6"/>
<rect x="33.00" y="203.39" width="12.00" height="36.71" fill="#35c79a"/>
<rect x="33.00" y="204.61" width="12.00" height="35.49" fill="#8acb51"/>
<rect x="33.00" y="205.83" width="12.00" height="34.27" fill="#6fcd66"/>
<rect x="33.00" y="207.06" width="12.00" height="33.04" fill="#44cb89"/>
<rect x="33.00" y="208.28" width="12.00" height="31.82" fill="#4bcb84"/>
<rect x="33.00" y="209.50" width="12.00" height="30.60" fill="#08b5d0"/>
<rect x="33.00" y="210.73" width="12.00" height="29.37" fill="#06bcc0"/>
<rect x="33.00" y="211.95" width="12.00" height="28.15" fill="#16bfb7"/>
<rect x="33.00" y="213.18" width="12.00" height="26.92" fill="#2d8df2"/>
<rect x="33.00" y="214.40" width="12.00" height="25.70" fill="#337afd"/>
<rect x="33.00" y="215.62" width="12.00" height="24.48" fill="#465ffb"/>
<rect x="33.00" y="216.85" width="12.00" height="23.25" fill="#4745e9"/>
<rect x="33.00" y="218.07" width="12.00" height="22.03" fill="#463de0"/>
<rect x="33.00" y="219.30" width="12.00" height="20.80" fill="#4435d1"/>
<rect x="33.00" y="220.52" width="12.00" height="19.58" fill="#422fc0"/>
<rect x="33.00" y="221.74" width="12.00" height="18.36" fill="#4433cb"/>
<rect x="33.00" y="222.97" width="12.00" height="17.13" fill="#412dbc"/>
<rect x="33.00" y="224.19" width="12.00" height="15.91" fill="#422fc0"/>
<rect x="33.00" y="225.41" width="12.00" height="14.69" fill="#402bb7"/>
<rect x="33.00" y="226.64" width="12.00" height="13.46" fill="#402ab3"/>
<rect x="33.00" y="227.86" width="12.00" height="12.24" fill="#3f29b0"/>
<rect x="33.00" y="229.09" width="12.00" height="11.01" fill="#402ab3"/>
<rect x="33.00" y="230.31" width="12.00" height="9.79" fill="#402bb7"/>
<rect x="33.00" y="231.53" width="12.00" height="8.57" fill="#402ab4"/>
<rect x="33.00" y="232.76" width="12.00" height="7.34" fill="#412cb9"/>
<rect x="33.00" y="233.98" width="12.00" height="6.12" fill="#3f29b1"/>
<rect x="33.00" y="235.20" width="12.00" height="4.90" fill="#3e28ac"/>
<rect x="33.00" y="236.43" width="12.00" height="3.67" fill="#3e27aa"/>
<rect x="33.00" y="237.65" width="12.00" height="2.45" fill="#3f28ae"/>
<rect x="33.00" y="238.88" width="12.00" height="1.22" fill="#3e26a8"/>
<rect x="45.00" y="163.00" width="12.00" height="77.10" fill="#3f28ae"/>
<rect x="45.00" y="164.22" width="12.00" height="75.88" fill="#4029b3"/>
<rect x="45.00" y="165.45" width="12.00" height="74.65" fill="#3e26a8"/>
<rect x="45.00" y="166.67" width="12.00" height="73.43" fill="#3f28ad"/>
<rect x="45.00" y="167.90" width="12.00" height="72.20" fill="#3e26a8"/>
<rect x="45.00" y="169.12" width="12.00" height="70.98" fill="#3e27ab"/>
<rect x="45.00" y="170.34" width="12.00" height="69.76" fill="#3f28af"/>
<rect x="45.00" y="171.57" width="12.00" height="68.53" fill="#402bb7"/>
<rect x="45.00" y="172.79" width="12.00" height="67.31" fill="#402ab3"/>
<rect x="45.00" y="174.01" width="12.00" height="66.09" fill="#3f29af"/>
<rect x="45.00" y="175.24" width="12.00" height="64.86" fill="#3e27ac"/>
<rect x="45.00" y="176.46" width="12.00" height="63.64" fill="#3e27ab"/>
<rect x="45.00" y="177.69" width="12.00" height="62.41" fill="#3e26a8"/>
<rect x="45.00" y="178.91" width="12.00" height="61.19" fill="#4330c5"/>
<rect x="45.00" y="180.13" width="12.00" height="59.97" fill="#412dbd"/>
<rect x="45.00" y="181.36" width="12.00" height="58.74" fill="#412dbc"/>
<rect x="45.00" y="182.58" width="12.00" height="57.52" fill="#422fc2"/>
<rect x="45.00" y="183.80" width="12.00" height="56.30" fill="#4435d1"/>
<rect x="45.00" y="185.03" width="12.00" height="55.07" fill="#4742e6"/>
<rect x="45.00" y="186.25" width="12.00" height="53.85" fill="#4848ec"/>
<rect x="45.00" y="187.48" width="12.00" height="52.62" fill="#4854f6"/>
<rect x="45.00" y="188.70" width="12.00" height="51.40" fill="#475bf9"/>
<rect x="45.00" y="189.92" width="12.00" height="50.18" fill="#3975fe"/>
<rect x="45.00" y="191.15" width="12.00" height="48.95" fill="#20a5e2"/>
<rect x="45.00" y="192.37" width="12.00" height="47.73" fill="#05b6cd"/>
<rect x="45.00" y="193.60" width="12.00" height="46.50" fill="#2fc5a3"/>
<rect x="45.00" y="194.82" width="12.00" height="45.28" fill="#3ac994"/>
<rect x="45.00" y="196.04" width="12.00" height="44.06" fill="#c9c129"/>
<rect x="45.00" y="197.27" width="12.00" height="42.83" fill="#98ca47"/>
<rect x="45.00" y="198.49" width="12.00" height="41.61" fill="#ccc028"/>
<rect x="45.00" y="199.71" width="12.00" height="40.39" fill="#72cd63"/>
<rect x="45.00" y="200.94" width="12.00" height="39.16" fill="#40ca8d"/>
<rect x="45.00" y="202.16" width="12.00" height="37.94" fill="#94ca4a"/>
<rect x="45.00" y="203.39" width="12.00" height="36.71" fill="#afc637"/>
<rect x="45.00" y="204.61" width="12.00" height="35.49" fill="#b8c431"/>
<rect x="45.00" y="205.83" width="12.00" height="34.27" fill="#aac739"/>
<rect x="45.00" y="207.06" width="12.00" height="33.04" fill="#12beb9"/>
<rect x="45.00" y="208.28" width="12.00" height="31.82" fill="#acc738"/>
<rect x="45.00" y="209.50" width="12.00" height="30.60" fill="#2dc4a5"/>
<rect x="45.00" y="210.73" width="12.00" height="29.37" fill="#51cc7f"/>
<rect x="45.00" y="211.95" width="12.00" height="28.15" fill="#1baadf"/>
<rect x="45.00" y="213.18" width="12.00" height="26.92" fill="#22a1e4"/>
<rect x="45.00" y="214.40" width="12.00" height="25.70" fill="#3b73fe"/>
<rect x="45.00" y="215.62" width="12.00" height="24.48" fill="#4564fd"/>
<rect x="45.00" y="216.85" width="12.00" height="23.25" fill="#463adb"/>
<rect x="45.00" y="218.07" width="12.00" height="22.03" fill="#484aed"/>
<rect x="45.00" y="219.30" width="12.00" height="20.80" fill="#4740e4"/>
<rect x="45.00" y="220.52" width="12.00" height="19.58" fill="#4537d5"/>
<rect x="45.00" y="221.74" width="12.00" height="18.36" fill="#4536d4"/>
<rect x="45.00" y="222.97" width="12.00" height="17.13" fill="#4332cb"/>
<rect x="45.00" y="224.19" width="12.00" height="15.91" fill="#4330c5"/>
<rect x="45.00" y="225.41" width="12.00" height="14.69" fill="#412dbb"/>
<rect x="45.00" y="226.64" width="12.00" height="13.46" fill="#402ab4"/>
<rect x="45.00" y="227.86" width="12.00" height="12.24" fill="#4230c4"/>
<rect x="45.00" y="229.09" width="12.00" height="11.01" fill="#412dbb"/>
<rect x="45.00" y="230.31" width="12.00" height="9.79" fill="#402ab3"/>
<rect x="45.00" y="231.53" width="12.00" height="8.57" fill="#3e27ab"/>
<rect x="45.00" y="232.76" width="12.00" height="7.34" fill="#3f28ae"/>
<rect x="45.00" y="233.98" width="12.00" height="6.12" fill="#3e26a8"/>
<rect x="45.00" y="235.20" width="12.00" height="4.90" fill="#3e27ab"/>
<rect x="45.00" y="236.43" width="12.00" height="3.67" fill="#3f28af"/>
<rect x="45.00" y="237.65" width="12.00" height="2.45" fill="#3f28af"/>
<rect x="45.00" y="238.88" width="12.00" height="1.22" fill="#3e26a8"/>
<rect x="57.00" y="163.00" width="11.00" height="77.10" fill="#3f28af"/>
<rect x="57.00" y="164.22" width="11.00" height="75.88" fill="#412cba"/>
<rect x="57.00" y="165.45" width="11.00" height="74.65" fill="#3f28ad"/>
<rect x="57.00" y="166.67" width="11.00" height="73.43" fill="#3f29b0"/>
<rect x="57.00" y="167.90" width="11.00" height="72.20" fill="#412cba"/>
<rect x="57.00" y="169.12" width="11.00" height="70.98" fill="#402bb7"/>
<rect x="57.00" y="170.34" width="11.00" height="69.76" fill="#412dbc"/>
<rect x="57.00" y="171.57" width="11.00" height="68.53" fill="#3f29b0"/>
<rect x="57.00" y="172.79" width="11.00" height="67.31" fill="#3f28ad"/>
<rect x="57.00" y="174.01" width="11.00" height="66.09" fill="#412dbc"/>
<rect x="57.00" y="175.24" width="11.00" height="64.86" fill="#402ab5"/>
<rect x="57.00" y="176.46" width="11.00" height="63.64" fill="#422fc1"/>
<rect x="57.00" y="177.69" width="11.00" height="62.41" fill="#422fc1"/>
<rect x="57.00" y="178.91" width="11.00" height="61.19" fill="#412dbb"/>
<rect x="57.00" y="180.13" width="11.00" height="59.97" fill="#4230c3"/>
<rect x="57.00" y="181.36" width="11.00" height="58.74" fill="#412cba"/>
<rect x="57.00" y="182.58" width="11.00" height="57.52" fill="#4230c4"/>
<rect x="57.00" y="183.80" width="11.00" height="56.30" fill="#463adb"/>
<rect x="57.00" y="185.03" width="11.00" height="55.07" fill="#4746ea"/>
<rect x="57.00" y="186.25" width="11.00" height="53.85" fill="#4744e8"/>
<rect x="57.00" y="187.48" width="11.00" height="52.62" fill="#4756f6"/>
<rect x="57.00" y="188.70" width="11.00" height="51.40" fill="#475bf9"/>
<rect x="57.00" y="189.92" width="11.00" height="50.18" fill="#2d89f5"/>
<rect x="57.00" y="191.15" width="11.00" height="48.95" fill="#475cfa"/>
<rect x="57.00" y="192.37" width="11.00" height="47.73" fill="#14b0d8"/>
<rect x="57.00" y="193.60" width="11.00" height="46.50" fill="#2cc4a7"/>
<rect x="57.00" y="194.82" width="11.00" height="45.28" fill="#2dc4a5"/>
<rect x="57.00" y="196.04" width="11.00" height="44.06" fill="#88cb53"/>
<rect x="57.00" y="197.27" width="11.00" height="42.83" fill="#ebba32"/>
<rect x="57.00" y="198.49" width="11.00" height="41.61" fill="#fdbd3d"/>
<rect x="57.00" y="199.71" width="11.00" height="40.39" fill="#dbbd29"/>
<rect x="57.00" y="200.94" width="11.00" height="39.16" fill="#eaba31"/>
<rect x="57.00" y="202.16" width="11.00" height="37.94" fill="#e5bb2d"/>
<rect x="57.00" y="203.39" width="11.00" height="36.71" fill="#cac129"/>
<rect x="57.00" y="204.61" width="11.00" height="35.49" fill="#dcbd29"/>
<rect x="57.00" y="205.83" width="11.00" height="34.27" fill="#c3c22b"/>
<rect x="57.00" y="207.06" width="11.00" height="33.04" fill="#f6e028"/>
<rect x="57.00" y="208.28" width="11.00" height="31.82" fill="#c8c129"/>
<rect x="57.00" y="209.50" width="11.00" height="30.60" fill="#dcbd29"/>
<rect x="57.00" y="210.73" width="11.00" height="29.37" fill="#3bc993"/>
<rect x="57.00" y="211.95" width="11.00" height="28.15" fill="#15bfb7"/>
<rect x="57.00" y="213.18" width="11.00" height="26.92" fill="#14b0d8"/>
<rect x="57.00" y="214.40" width="11.00" height="25.70" fill="#2d8df2"/>
<rect x="57.00" y="215.62" width="11.00" height="24.48" fill="#426afe"/>
<rect x="57.00" y="216.85" width="11.00" height="23.25" fill="#475bf9"/>
<rect x="57.00" y="218.07" width="11.00" height="22.03" fill="#4744e8"/>
<rect x="57.00" y="219.30" width="11.00" height="20.80" fill="#4744e8"/>
<rect x="57.00" y="220.52" width="11.00" height="19.58" fill="#4639d9"/>
<rect x="57.00" y="221.74" width="11.00" height="18.36" fill="#463cde"/>
<rect x="57.00" y="222.97" width="11.00" height="17.13" fill="#4230c4"/>
<rect x="57.00" y="224.19" width="11.00" height="15.91" fill="#4539d9"/>
<rect x="57.00" y="225.41" width="11.00" height="14.69" fill="#412ebe"/>
<rect x="57.00" y="226.64" width="11.00" height="13.46" fill="#4332c8"/>
<rect x="57.00" y="227.86" width="11.00" height="12.24" fill="#412dbc"/>
<rect x="57.00" y="229.09" width="11.00" height="11.01" fill="#412dbc"/>
<rect x="57.00" y="230.31" width="11.00" height="9.79" fill="#412dbb"/>
<rect x="57.00" y="231.53" width="11.00" height="8.57" fill="#412cb8"/>
<rect x="57.00" y="232.76" width="11.00" height="7.34" fill="#402ab4"/>
<rect x="57.00" y="233.98" width="11.00" height="6.12" fill="#3f28af"/>
<rect x="57.00" y="235.20" width="11.00" height="4.90" fill="#3e27a9"/>
<rect x="57.00" y="236.43" width="11.00" height="3.67" fill="#402bb8"/>
<rect x="57.00" y="237.65" width="11.00" height="2.45" fill="#4330c5"/>
<rect x="57.00" y="238.88" width="11.00" height="1.22" fill="#402ab4"/>
<rect x="68.00" y="163.00" width="12.00" height="77.10" fill="#412ebe"/>
<rect x="68.00" y="164.22" width="12.00" height="75.88" fill="#402ab3"/>
<rect x="68.00" y="165.45" width="12.00" height="74.65" fill="#4434ce"/>
<rect x="68.00" y="166.67" width="12.00" height="73.43" fill="#402ab6"/>
<rect x="68.00" y="167.90" width="12.00" height="72.20" fill="#412dbb"/>
<rect x="68.00" y="169.12" width="12.00" height="70.98" fill="#412cba"/>
<rect x="68.00" y="170.34" width="12.00" height="69.76" fill="#422ebe"/>
<rect x="68.00" y="171.57" width="12.00" height="68.53" fill="#412dbc"/>
<rect x="68.00" y="172.79" width="12.00" height="67.31" fill="#412dbb"/>
<rect x="68.00" y="174.01" width="12.00" height="66.09" fill="#412dbd"/>
<rect x="68.00" y="175.24" width="12.00" height="64.86" fill="#4332c9"/>
<rect x="68.00" y="176.46" width="12.00" height="63.64" fill="#412ebe"/>
<rect x="68.00" y="177.69" width="12.00" height="62.41" fill="#422fc1"/>
<rect x="68.00" y="178.91" width="12.00" height="61.19" fill="#463ddf"/>
<rect x="68.00" y="180.13" width="12.00" height="59.97" fill="#463bdc"/>
<rect x="68.00" y="181.36" width="12.00" height="58.74" fill="#4848ec"/>
<rect x="68.00" y="182.58" width="12.00" height="57.52" fill="#4741e5"/>
<rect x="68.00" y="183.80" width="12.00" height="56.30" fill="#484ef1"/>
<rect x="68.00" y="185.03" width="12.00" height="55.07" fill="#4563fd"/>
<rect x="68.00" y="186.25" width="12.00" height="53.85" fill="#317dfc"/>
<rect x="68.00" y="187.48" width="12.00" height="52.62" fill="#2798ea"/>
<rect x="68.00" y="188.70" width="12.00" height="51.40" fill="#16bfb7"/>
<rect x="68.00" y="189.92" width="12.00" height="50.18" fill="#32c69e"/>
<rect x="68.00" y="191.15" width="12.00" height="48.95" fill="#87cb54"/>
<rect x="68.00" y="192.37" width="12.00" height="47.73" fill="#d8be28"/>
<rect x="68.00" y="193.60" width="12.00" height="46.50" fill="#bfc32d"/>
<rect x="68.00" y="194.82" width="12.00" height="45.28" fill="#fcbc3d"/>
<rect x="68.00" y="196.04" width="12.00" height="44.06" fill="#fdbd3d"/>
<rect x="68.00" y="197.27" width="12.00" height="42.83" fill="#fabb3d"/>
<rect x="68.00" y="198.49" width="12.00" height="41.61" fill="#f7dd2a"/>
<rect x="68.00" y="199.71" width="12.00" height="40.39" fill="#f5ee21"/>
<rect x="68.00" y="200.94" width="12.00" height="39.16" fill="#f9d82c"/>
<rect x="68.00" y="202.16" width="12.00" height="37.94" fill="#fcd12f"/>
<rect x="68.00" y="203.39" width="12.00" height="36.71" fill="#f2ba38"/>
<rect x="68.00" y="204.61" width="12.00" height="35.49" fill="#fdcc32"/>
<rect x="68.00" y="205.83" width="12.00" height="34.27" fill="#f5e825"/>
<rect x="68.00" y="207.06" width="12.00" height="33.04" fill="#fbd32e"/>
<rect x="68.00" y="208.28" width="12.00" height="31.82" fill="#f3ba39"/>
<rect x="68.00" y="209.50" width="12.00" height="30.60" fill="#eeba34"/>
<rect x="68.00" y="210.73" width="12.00" height="29.37" fill="#eeba34"/>
<rect x="68.00" y="211.95" width="12.00" height="28.15" fill="#50cc80"/>
<rect x="68.00" y="213.18" width="12.00" height="26.92" fill="#3eca8f"/>
<rect x="68.00" y="214.40" width="12.00" height="25.70" fill="#1aacdd"/>
<rect x="68.00" y="215.62" width="12.00" height="24.48" fill="#2e87f7"/>
<rect x="68.00" y="216.85" width="12.00" height="23.25" fill="#475cfa"/>
<rect x="68.00" y="218.07" width="12.00" height="22.03" fill="#4757f7"/>
<rect x="68.00" y="219.30" width="12.00" height="20.80" fill="#4849ed"/>
<rect x="68.00" y="220.52" width="12.00" height="19.58" fill="#473fe2"/>
<rect x="68.00" y="221.74" width="12.00" height="18.36" fill="#4539d9"/>
<rect x="68.00" y="222.97" width="12.00" height="17.13" fill="#4537d5"/>
<rect x="68.00" y="224.19" width="12.00" height="15.91" fill="#4332c8"/>
<rect x="68.00" y="225.41" width="12.00" height="14.69" fill="#4432cb"/>
<rect x="68.00" y="226.64" width="12.00" height="13.46" fill="#4331c7"/>
<rect x="68.00" y="227.86" width="12.00" height="12.24" fill="#412cb9"/>
<rect x="68.00" y="229.09" width="12.00" height="11.01" fill="#412dbb"/>
<rect x="68.00" y="230.31" width="12.00" height="9.79" fill="#412cb9"/>
<rect x="68.00" y="231.53" width="12.00" height="8.57" fill="#412cb9"/>
<rect x="68.00" y="232.76" width="12.00" height="7.34" fill="#422ebf"/>
<rect x="68.00" y="233.98" width="12.00" height="6.12" fill="#3f29b0"/>
<rect x="68.00" y="235.20" width="12.00" height="4.90" fill="#422fc2"/>
<rect x="68.00" y="236.43" width="12.00" height="3.67" fill="#412dbb"/>
<rect x="68.00" y="237.65" width="12.00" height="2.45" fill="#402bb8"/>
<rect x="68.00" y="238.88" width="12.00" height="1.22" fill="#402bb6"/>
<rect x="80.00" y="163.00" width="12.00" height="77.10" fill="#4332ca"/>
<rect x="80.00" y="164.22" width="12.00" height="75.88" fill="#473ee1"/>
<rect x="80.00" y="165.45" width="12.00" height="74.65" fill="#4537d6"/>
<rect x="80.00" y="166.67" width="12.00" height="73.43" fill="#463adb"/>
<rect x="80.00" y="167.90" width="12.00" height="72.20" fill="#4535d2"/>
<rect x="80.00" y="169.12" width="12.00" height="70.98" fill="#4740e4"/>
<rect x="80.00" y="170.34" width="12.00" height="69.76" fill="#4331c8"/>
<rect x="80.00" y="171.57" width="12.00" height="68.53" fill="#4536d5"/>
<rect x="80.00" y="172.79" width="12.00" height="67.31" fill="#4537d6"/>
<rect x="80.00" y="174.01" width="12.00" height="66.09" fill="#4434cf"/>
<rect x="80.00" y="175.24" width="12.00" height="64.86" fill="#4538d7"/>
<rect x="80.00" y="176.46" width="12.00" height="63.64" fill="#4538d8"/>
<rect x="80.00" y="177.69" width="12.00" height="62.41" fill="#4539d9"/>
<rect x="80.00" y="178.91" width="12.00" height="61.19" fill="#4537d5"/>
<rect x="80.00" y="180.13" width="12.00" height="59.97" fill="#4537d6"/>
<rect x="80.00" y="181.36" width="12.00" height="58.74" fill="#463bdd"/>
<rect x="80.00" y="182.58" width="12.00" height="57.52" fill="#4743e7"/>
<rect x="80.00" y="183.80" width="12.00" height="56.30" fill="#4744e8"/>
<rect x="80.00" y="185.03" width="12.00" height="55.07" fill="#473ee1"/>
<rect x="80.00" y="186.25" width="12.00" height="53.85" fill="#337bfc"/>
<rect x="80.00" y="187.48" width="12.00" height="52.62" fill="#317efb"/>
<rect x="80.00" y="188.70" width="12.00" height="51.40" fill="#2a93ed"/>
<rect x="80.00" y="189.92" width="12.00" height="50.18" fill="#39c895"/>
<rect x="80.00" y="191.15" width="12.00" height="48.95" fill="#4ecc81"/>
<rect x="80.00" y="192.37" width="12.00" height="47.73" fill="#fec339"/>
<rect x="80.00" y="193.60" width="12.00" height="46.50" fill="#fec03b"/>
<rect x="80.00" y="194.82" width="12.00" height="45.28" fill="#fec537"/>
<rect x="80.00" y="196.04" width="12.00" height="44.06" fill="#f9fb15"/>
<rect x="80.00" y="197.27" width="12.00" height="42.83" fill="#f5ea23"/>
<rect x="80.00" y="198.49" width="12.00" height="41.61" fill="#f5eb23"/>
<rect x="80.00" y="199.71" width="12.00" height="40.39" fill="#f5eb23"/>
<rect x="80.00" y="200.94" width="12.00" height="39.16" fill="#f6df29"/>
<rect x="80.00" y="202.16" width="12.00" height="37.94" fill="#f6f01f"/>
<rect x="80.00" y="203.39" width="12.00" height="36.71" fill="#f9fa16"/>
<rect x="80.00" y="204.61" width="12.00" height="35.49" fill="#f5ec22"/>
<rect x="80.00" y="205.83" width="12.00" height="34.27" fill="#f9fa16"/>
<rect x="80.00" y="207.06" width="12.00" height="33.04" fill="#f6ef20"/>
<rect x="80.00" y="208.28" width="12.00" height="31.82" fill="#fbd22f"/>
<rect x="80.00" y="209.50" width="12.00" height="30.60" fill="#fec03a"/>
<rect x="80.00" y="210.73" width="12.00" height="29.37" fill="#fabc3d"/>
<rect x="80.00" y="211.95" width="12.00" height="28.15" fill="#adc638"/>
<rect x="80.00" y="213.18" width="12.00" height="26.92" fill="#28c3ab"/>
<rect x="80.00" y="214.40" width="12.00" height="25.70" fill="#01b8c9"/>
<rect x="80.00" y="215.62" width="12.00" height="24.48" fill="#16afd9"/>
<rect x="80.00" y="216.85" width="12.00" height="23.25" fill="#2e84f9"/>
<rect x="80.00" y="218.07" width="12.00" height="22.03" fill="#3d70ff"/>
<rect x="80.00" y="219.30" width="12.00" height="20.80" fill="#4466fd"/>
<rect x="80.00" y="220.52" width="12.00" height="19.58" fill="#4852f4"/>
<rect x="80.00" y="221.74" width="12.00" height="18.36" fill="#4745e9"/>
<rect x="80.00" y="222.97" width="12.00" height="17.13" fill="#4742e6"/>
<rect x="80.00" y="224.19" width="12.00" height="15.91" fill="#473fe2"/>
<rect x="80.00" y="225.41" width="12.00" height="14.69" fill="#463bdd"/>
<rect x="80.00" y="226.64" width="12.00" height="13.46" fill="#463adb"/>
<rect x="80.00" y="227.86" width="12.00" height="12.24" fill="#473fe2"/>
<rect x="80.00" y="229.09" width="12.00" height="11.01" fill="#4537d5"/>
<rect x="80.00" y="230.31" width="12.00" height="9.79" fill="#463de0"/>
<rect x="80.00" y="231.53" width="12.00" height="8.57" fill="#4434ce"/>
<rect x="80.00" y="232.76" width="12.00" height="7.34" fill="#463bdd"/>
<rect x="80.00" y="233.98" width="12.00" height="6.12" fill="#4535d2"/>
<rect x="80.00" y="235.20" width="12.00" height="4.90" fill="#463cdf"/>
<rect x="80.00" y="236.43" width="12.00" height="3.67" fill="#473ee1"/>
<rect x="80.00" y="237.65" width="12.00" height="2.45" fill="#473ee1"/>
<rect x="80.00" y="238.88" width="12.00" height="1.22" fill="#4740e3"/>
<rect x="92.00" y="163.00" width="11.00" height="77.10" fill="#4269fe"/>
<rect x="92.00" y="164.22" width="11.00" height="75.88" fill="#4269fe"/>
<rect x="92.00" y="165.45" width="11.00" height="74.65" fill="#4466fd"/>
<rect x="92.00" y="166.67" width="11.00" height="73.43" fill="#3876fe"/>
<rect x="92.00" y="167.90" width="11.00" height="72.20" fill="#475cfa"/>
<rect x="92.00" y="169.12" width="11.00" height="70.98" fill="#4759f8"/>
<rect x="92.00" y="170.34" width="11.00" height="69.76" fill="#4746ea"/>
<rect x="92.00" y="171.57" width="11.00" height="68.53" fill="#4851f3"/>
<rect x="92.00" y="172.79" width="11.00" height="67.31" fill="#484ef1"/>
<rect x="92.00" y="174.01" width="11.00" height="66.09" fill="#4848ec"/>
<rect x="92.00" y="175.24" width="11.00" height="64.86" fill="#4746ea"/>
<rect x="92.00" y="176.46" width="11.00" height="63.64" fill="#4742e6"/>
<rect x="92.00" y="177.69" width="11.00" height="62.41" fill="#473fe2"/>
<rect x="92.00" y="178.91" width="11.00" height="61.19" fill="#473fe2"/>
<rect x="92.00" y="180.13" width="11.00" height="59.97" fill="#4850f2"/>
<rect x="92.00" y="181.36" width="11.00" height="58.74" fill="#4854f5"/>
<rect x="92.00" y="182.58" width="11.00" height="57.52" fill="#4853f4"/>
<rect x="92.00" y="183.80" width="11.00" height="56.30" fill="#416bfe"/>
<rect x="92.00" y="185.03" width="11.00" height="55.07" fill="#3678fe"/>
<rect x="92.00" y="186.25" width="11.00" height="53.85" fill="#2a93ed"/>
<rect x="92.00" y="187.48" width="11.00" height="52.62" fill="#2699e9"/>
<rect x="92.00" y="188.70" width="11.00" height="51.40" fill="#07bcbf"/>
<rect x="92.00" y="189.92" width="11.00" height="50.18" fill="#3ac994"/>
<rect x="92.00" y="191.15" width="11.00" height="48.95" fill="#b5c533"/>
<rect x="92.00" y="192.37" width="11.00" height="47.73" fill="#d1bf27"/>
<rect x="92.00" y="193.60" width="11.00" height="46.50" fill="#fdce31"/>
<rect x="92.00" y="194.82" width="11.00" height="45.28" fill="#f5ea24"/>
<rect x="92.00" y="196.04" width="11.00" height="44.06" fill="#fec835"/>
<rect x="92.00" y="197.27" width="11.00" height="42.83" fill="#f6df29"/>
<rect x="92.00" y="198.49" width="11.00" height="41.61" fill="#f9fb15"/>
<rect x="92.00" y="199.71" width="11.00" height="40.39" fill="#f9fb15"/>
<rect x="92.00" y="200.94" width="11.00" height="39.16" fill="#f5ed21"/>
<rect x="92.00" y="202.16" width="11.00" height="37.94" fill="#f9fa16"/>
<rect x="92.00" y="203.39" width="11.00" height="36.71" fill="#f9fb15"/>
<rect x="92.00" y="204.61" width="11.00" height="35.49" fill="#f5e725"/>
<rect x="92.00" y="205.83" width="11.00" height="34.27" fill="#f9fb15"/>
<rect x="92.00" y="207.06" width="11.00" height="33.04" fill="#f9d82c"/>
<rect x="92.00" y="208.28" width="11.00" height="31.82" fill="#f6df29"/>
<rect x="92.00" y="209.50" width="11.00" height="30.60" fill="#f8d92b"/>
<rect x="92.00" y="210.73" width="11.00" height="29.37" fill="#f7dc2a"/>
<rect x="92.00" y="211.95" width="11.00" height="28.15" fill="#f4ba3a"/>
<rect x="92.00" y="213.18" width="11.00" height="26.92" fill="#b5c533"/>
<rect x="92.00" y="214.40" width="11.00" height="25.70" fill="#58cc79"/>
<rect x="92.00" y="215.62" width="11.00" height="24.48" fill="#39c895"/>
<rect x="92.00" y="216.85" width="11.00" height="23.25" fill="#2797eb"/>
<rect x="92.00" y="218.07" width="11.00" height="22.03" fill="#3876fe"/>
<rect x="92.00" y="219.30" width="11.00" height="20.80" fill="#3f6eff"/>
<rect x="92.00" y="220.52" width="11.00" height="19.58" fill="#465efb"/>
<rect x="92.00" y="221.74" width="11.00" height="18.36" fill="#4756f7"/>
<rect x="92.00" y="222.97" width="11.00" height="17.13" fill="#484aee"/>
<rect x="92.00" y="224.19" width="11.00" height="15.91" fill="#4852f4"/>
<rect x="92.00" y="225.41" width="11.00" height="14.69" fill="#484ff2"/>
<rect x="92.00" y="226.64" width="11.00" height="13.46" fill="#4740e3"/>
<rect x="92.00" y="227.86" width="11.00" height="12.24" fill="#484bef"/>
<rect x="92.00" y="229.09" width="11.00" height="11.01" fill="#484ff2"/>
<rect x="92.00" y="230.31" width="11.00" height="9.79" fill="#4758f8"/>
<rect x="92.00" y="231.53" width="11.00" height="8.57" fill="#4745ea"/>
<rect x="92.00" y="232.76" width="11.00" height="7.34" fill="#475af9"/>
<rect x="92.00" y="233.98" width="11.00" height="6.12" fill="#4466fd"/>
<rect x="92.00" y="235.20" width="11.00" height="4.90" fill="#4466fd"/>
<rect x="92.00" y="236.43" width="11.00" height="3.67" fill="#426afe"/>
<rect x="92.00" y="237.65" width="11.00" height="2.45" fill="#3b72ff"/>
<rect x="92.00" y="238.88" width="11.00" height="1.22" fill="#3875fe"/>
<rect x="103.00" y="163.00" width="12.00" height="77.10" fill="#2c8ef2"/>
<rect x="103.00" y="164.22" width="12.00" height="75.88" fill="#317dfc"/>
<rect x="103.00" y="165.45" width="12.00" height="74.65" fill="#3975fe"/>
<rect x="103.00" y="166.67" width="12.00" height="73.43" fill="#3b72ff"/>
<rect x="103.00" y="167.90" width="12.00" height="72.20" fill="#2d8bf4"/>
<rect x="103.00" y="169.12" width="12.00" height="70.98" fill="#416bfe"/>
<rect x="103.00" y="170.34" width="12.00" height="69.76" fill="#3e6fff"/>
<rect x="103.00" y="171.57" width="12.00" height="68.53" fill="#3f6efe"/>
<rect x="103.00" y="172.79" width="12.00" height="67.31" fill="#4757f7"/>
<rect x="103.00" y="174.01" width="12.00" height="66.09" fill="#4758f8"/>
<rect x="103.00" y="175.24" width="12.00" height="64.86" fill="#4854f5"/>
<rect x="103.00" y="176.46" width="12.00" height="63.64" fill="#4849ed"/>
<rect x="103.00" y="177.69" width="12.00" height="62.41" fill="#4848ec"/>
<rect x="103.00" y="178.91" width="12.00" height="61.19" fill="#484df0"/>
<rect x="103.00" y="180.13" width="12.00" height="59.97" fill="#4745e9"/>
<rect x="103.00" y="181.36" width="12.00" height="58.74" fill="#465efb"/>
<rect x="103.00" y="182.58" width="12.00" height="57.52" fill="#465ffb"/>
<rect x="103.00" y="183.80" width="12.00" height="56.30" fill="#475bf9"/>
<rect x="103.00" y="185.03" width="12.00" height="55.07" fill="#3a74fe"/>
<rect x="103.00" y="186.25" width="12.00" height="53.85" fill="#3875fe"/>
<rect x="103.00" y="187.48" width="12.00" height="52.62" fill="#3777fe"/>
<rect x="103.00" y="188.70" width="12.00" height="51.40" fill="#1babde"/>
<rect x="103.00" y="189.92" width="12.00" height="50.18" fill="#03b7cc"/>
<rect x="103.00" y="191.15" width="12.00" height="48.95" fill="#6dcd68"/>
<rect x="103.00" y="192.37" width="12.00" height="47.73" fill="#9fc941"/>
<rect x="103.00" y="193.60" width="12.00" height="46.50" fill="#dabd28"/>
<rect x="103.00" y="194.82" width="12.00" height="45.28" fill="#f0ba36"/>
<rect x="103.00" y="196.04" width="12.00" height="44.06" fill="#f2ba38"/>
<rect x="103.00" y="197.27" width="12.00" height="42.83" fill="#fbd32f"/>
<rect x="103.00" y="198.49" width="12.00" height="41.61" fill="#fccf30"/>
<rect x="103.00" y="199.71" width="12.00" height="40.39" fill="#f5e626"/>
<rect x="103.00" y="200.94" width="12.00" height="39.16" fill="#fdcc32"/>
<rect x="103.00" y="202.16" width="12.00" height="37.94" fill="#f6de29"/>
<rect x="103.00" y="203.39" width="12.00" height="36.71" fill="#f5e625"/>
<rect x="103.00" y="204.61" width="12.00" height="35.49" fill="#fcd12f"/>
<rect x="103.00" y="205.83" width="12.00" height="34.27" fill="#fec835"/>
<rect x="103.00" y="207.06" width="12.00" height="33.04" fill="#fcce31"/>
<rect x="103.00" y="208.28" width="12.00" height="31.82" fill="#f1ba37"/>
<rect x="103.00" y="209.50" width="12.00" height="30.60" fill="#f0ba36"/>
<rect x="103.00" y="210.73" width="12.00" height="29.37" fill="#a9c73a"/>
<rect x="103.00" y="211.95" width="12.00" height="28.15" fill="#a4c83e"/>
<rect x="103.00" y="213.18" width="12.00" height="26.92" fill="#4bcb84"/>
<rect x="103.00" y="214.40" width="12.00" height="25.70" fill="#0fb2d5"/>
<rect x="103.00" y="215.62" width="12.00" height="24.48" fill="#259ce7"/>
<rect x="103.00" y="216.85" width="12.00" height="23.25" fill="#2e83f9"/>
<rect x="103.00" y="218.07" width="12.00" height="22.03" fill="#4465fd"/>
<rect x="103.00" y="219.30" width="12.00" height="20.80" fill="#4464fd"/>
<rect x="103.00" y="220.52" width="12.00" height="19.58" fill="#4759f9"/>
<rect x="103.00" y="221.74" width="12.00" height="18.36" fill="#484ef1"/>
<rect x="103.00" y="222.97" width="12.00" height="17.13" fill="#4745e9"/>
<rect x="103.00" y="224.19" width="12.00" height="15.91" fill="#465dfb"/>
<rect x="103.00" y="225.41" width="12.00" height="14.69" fill="#4747eb"/>
<rect x="103.00" y="226.64" width="12.00" height="13.46" fill="#475bf9"/>
<rect x="103.00" y="227.86" width="12.00" height="12.24" fill="#484aee"/>
<rect x="103.00" y="229.09" width="12.00" height="11.01" fill="#463cdf"/>
<rect x="103.00" y="230.31" width="12.00" height="9.79" fill="#484cf0"/>
<rect x="103.00" y="231.53" width="12.00" height="8.57" fill="#4854f5"/>
<rect x="103.00" y="232.76" width="12.00" height="7.34" fill="#4562fc"/>
<rect x="103.00" y="233.98" width="12.00" height="6.12" fill="#3c72ff"/>
<rect x="103.00" y="235.20" width="12.00" height="4.90" fill="#4561fc"/>
<rect x="103.00" y="236.43" width="12.00" height="3.67" fill="#475af9"/>
<rect x="103.00" y="237.65" width="12.00" height="2.45" fill="#2f82f9"/>
<rect x="103.00" y="238.88" width="12.00" height="1.22" fill="#2f80fa"/>
<rect x="115.00" y="163.00" width="12.00" height="77.10" fill="#3875fe"/>
<rect x="115.00" y="164.22" width="12.00" height="75.88" fill="#327cfc"/>
<rect x="115.00" y="165.45" width="12.00" height="74.65" fill="#2e85f8"/>
<rect x="115.00" y="166.67" width="12.00" height="73.43" fill="#2d8df2"/>
<rect x="115.00" y="167.90" width="12.00" height="72.20" fill="#3a74fe"/>
<rect x="115.00" y="169.12" width="12.00" height="70.98" fill="#3974fe"/>
<rect x="115.00" y="170.34" width="12.00" height="69.76" fill="#4367fd"/>
<rect x="115.00" y="171.57" width="12.00" height="68.53" fill="#4852f4"/>
<rect x="115.00" y="172.79" width="12.00" height="67.31" fill="#465dfb"/>
<rect x="115.00" y="174.01" width="12.00" height="66.09" fill="#4853f5"/>
<rect x="115.00" y="175.24" width="12.00" height="64.86" fill="#4848ec"/>
<rect x="115.00" y="176.46" width="12.00" height="63.64" fill="#4758f8"/>
<rect x="115.00" y="177.69" width="12.00" height="62.41" fill="#4853f4"/>
<rect x="115.00" y="178.91" width="12.00" height="61.19" fill="#4744e8"/>
<rect x="115.00" y="180.13" width="12.00" height="59.97" fill="#4849ed"/>
<rect x="115.00" y="181.36" width="12.00" height="58.74" fill="#484df0"/>
<rect x="115.00" y="182.58" width="12.00" height="57.52" fill="#484df0"/>
<rect x="115.00" y="183.80" width="12.00" height="56.30" fill="#475af9"/>
<rect x="115.00" y="185.03" width="12.00" height="55.07" fill="#4755f6"/>
<rect x="115.00" y="186.25" width="12.00" height="53.85" fill="#3c71ff"/>
<rect x="115.00" y="187.48" width="12.00" height="52.62" fill="#337bfd"/>
<rect x="115.00" y="188.70" width="12.00" height="51.40" fill="#2c8ef1"/>
<rect x="115.00" y="189.92" width="12.00" height="50.18" fill="#13b0d7"/>
<rect x="115.00" y="191.15" width="12.00" height="48.95" fill="#2dc4a5"/>
<rect x="115.00" y="192.37" width="12.00" height="47.73" fill="#47cb87"/>
<rect x="115.00" y="193.60" width="12.00" height="46.50" fill="#57cc7a"/>
<rect x="115.00" y="194.82" width="12.00" height="45.28" fill="#a8c73b"/>
<rect x="115.00" y="196.04" width="12.00" height="44.06" fill="#a5c83d"/>
<rect x="115.00" y="197.27" width="12.00" height="42.83" fill="#9ec943"/>
<rect x="115.00" y="198.49" width="12.00" height="41.61" fill="#f5ba3a"/>
<rect x="115.00" y="199.71" width="12.00" height="40.39" fill="#c7c12a"/>
<rect x="115.00" y="200.94" width="12.00" height="39.16" fill="#e2bc2b"/>
<rect x="115.00" y="202.16" width="12.00" height="37.94" fill="#c8c129"/>
<rect x="115.00" y="203.39" width="12.00" height="36.71" fill="#dbbd29"/>
<rect x="115.00" y="204.61" width="12.00" height="35.49" fill="#f2ba37"/>
<rect x="115.00" y="205.83" width="12.00" height="34.27" fill="#dcbd29"/>
<rect x="115.00" y="207.06" width="12.00" height="33.04" fill="#f3ba38"/>
<rect x="115.00" y="208.28" width="12.00" height="31.82" fill="#9bc945"/>
<rect x="115.00" y="209.50" width="12.00" height="30.60" fill="#7acc5d"/>
<rect x="115.00" y="210.73" width="12.00" height="29.37" fill="#45cb89"/>
<rect x="115.00" y="211.95" width="12.00" height="28.15" fill="#31c6a0"/>
<rect x="115.00" y="213.18" width="12.00" height="26.92" fill="#08b4d0"/>
<rect x="115.00" y="214.40" width="12.00" height="25.70" fill="#21a3e4"/>
<rect x="115.00" y="215.62" width="12.00" height="24.48" fill="#2994ed"/>
<rect x="115.00" y="216.85" width="12.00" height="23.25" fill="#3578fd"/>
<rect x="115.00" y="218.07" width="12.00" height="22.03" fill="#4538d7"/>
<rect x="115.00" y="219.30" width="12.00" height="20.80" fill="#4755f6"/>
<rect x="115.00" y="220.52" width="12.00" height="19.58" fill="#4852f4"/>
<rect x="115.00" y="221.74" width="12.00" height="18.36" fill="#484bef"/>
<rect x="115.00" y="222.97" width="12.00" height="17.13" fill="#484ff2"/>
<rect x="115.00" y="224.19" width="12.00" height="15.91" fill="#484cef"/>
<rect x="115.00" y="225.41" width="12.00" height="14.69" fill="#4746ea"/>
<rect x="115.00" y="226.64" width="12.00" height="13.46" fill="#4756f6"/>
<rect x="115.00" y="227.86" width="12.00" height="12.24" fill="#4747eb"/>
<rect x="115.00" y="229.09" width="12.00" height="11.01" fill="#4745e9"/>
<rect x="115.00" y="230.31" width="12.00" height="9.79" fill="#4744e9"/>
<rect x="115.00" y="231.53" width="12.00" height="8.57" fill="#484bef"/>
<rect x="115.00" y="232.76" width="12.00" height="7.34" fill="#484cf0"/>
<rect x="115.00" y="233.98" width="12.00" height="6.12" fill="#484aed"/>
<rect x="115.00" y="235.20" width="12.00" height="4.90" fill="#4852f4"/>
<rect x="115.00" y="236.43" width="12.00" height="3.67" fill="#4755f6"/>
<rect x="115.00" y="237.65" width="12.00" height="2.45" fill="#4757f7"/>
<rect x="115.00" y="238.88" width="12.00" height="1.22" fill="#465efb"/>
<rect x="127.00" y="163.00" width="12.00" height="77.10" fill="#307ffb"/>
<rect x="127.00" y="164.22" width="12.00" height="75.88" fill="#2895ec"/>
<rect x="127.00" y="165.45" width="12.00" height="74.65" fill="#3875fe"/>
<rect x="127.00" y="166.67" width="12.00" height="73.43" fill="#3b72ff"/>
<rect x="127.00" y="167.90" width="12.00" height="72.20" fill="#475bfa"/>
<rect x="127.00" y="169.12" width="12.00" height="70.98" fill="#475af9"/>
<rect x="127.00" y="170.34" width="12.00" height="69.76" fill="#465ffb"/>
<rect x="127.00" y="171.57" width="12.00" height="68.53" fill="#4561fc"/>
<rect x="127.00" y="172.79" width="12.00" height="67.31" fill="#4745ea"/>
<rect x="127.00" y="174.01" width="12.00" height="66.09" fill="#4755f6"/>
<rect x="127.00" y="175.24" width="12.00" height="64.86" fill="#3776fe"/>
<rect x="127.00" y="176.46" width="12.00" height="63.64" fill="#475bf9"/>
<rect x="127.00" y="177.69" width="12.00" height="62.41" fill="#4758f8"/>
<rect x="127.00" y="178.91" width="12.00" height="61.19" fill="#4744e8"/>
<rect x="127.00" y="180.13" width="12.00" height="59.97" fill="#4332c8"/>
<rect x="127.00" y="181.36" width="12.00" height="58.74" fill="#484ef1"/>
<rect x="127.00" y="182.58" width="12.00" height="57.52" fill="#484ef1"/>
<rect x="127.00" y="183.80" width="12.00" height="56.30" fill="#4741e5"/>
<rect x="127.00" y="185.03" width="12.00" height="55.07" fill="#416bfe"/>
<rect x="127.00" y="186.25" width="12.00" height="53.85" fill="#4563fd"/>
<rect x="127.00" y="187.48" width="12.00" height="52.62" fill="#3b72ff"/>
<rect x="127.00" y="188.70" width="12.00" height="51.40" fill="#2e87f7"/>
<rect x="127.00" y="189.92" width="12.00" height="50.18" fill="#2c8ef1"/>
<rect x="127.00" y="191.15" width="12.00" height="48.95" fill="#1fa5e2"/>
<rect x="127.00" y="192.37" width="12.00" height="47.73" fill="#04b6cd"/>
<rect x="127.00" y="193.60" width="12.00" height="46.50" fill="#2ec5a4"/>
<rect x="127.00" y="194.82" width="12.00" height="45.28" fill="#17aeda"/>
<rect x="127.00" y="196.04" width="12.00" height="44.06" fill="#1ec0b2"/>
<rect x="127.00" y="197.27" width="12.00" height="42.83" fill="#1ec0b2"/>
<rect x="127.00" y="198.49" width="12.00" height="41.61" fill="#02bac3"/>
<rect x="127.00" y="199.71" width="12.00" height="40.39" fill="#01b9c8"/>
<rect x="127.00" y="200.94" width="12.00" height="39.16" fill="#22c1b0"/>
<rect x="127.00" y="202.16" width="12.00" height="37.94" fill="#32c69e"/>
<rect x="127.00" y="203.39" width="12.00" height="36.71" fill="#20c1b1"/>
<rect x="127.00" y="204.61" width="12.00" height="35.49" fill="#38c896"/>
<rect x="127.00" y="205.83" width="12.00" height="34.27" fill="#2fc5a3"/>
<rect x="127.00" y="207.06" width="12.00" height="33.04" fill="#17aeda"/>
<rect x="127.00" y="208.28" width="12.00" height="31.82" fill="#19addc"/>
<rect x="127.00" y="209.50" width="12.00" height="30.60" fill="#22a2e4"/>
<rect x="127.00" y="210.73" width="12.00" height="29.37" fill="#2d87f6"/>
<rect x="127.00" y="211.95" width="12.00" height="28.15" fill="#2d8cf3"/>
<rect x="127.00" y="213.18" width="12.00" height="26.92" fill="#4561fc"/>
<rect x="127.00" y="214.40" width="12.00" height="25.70" fill="#475bf9"/>
<rect x="127.00" y="215.62" width="12.00" height="24.48" fill="#475bf9"/>
<rect x="127.00" y="216.85" width="12.00" height="23.25" fill="#4746ea"/>
<rect x="127.00" y="218.07" width="12.00" height="22.03" fill="#4849ed"/>
<rect x="127.00" y="219.30" width="12.00" height="20.80" fill="#484cf0"/>
<rect x="127.00" y="220.52" width="12.00" height="19.58" fill="#463cdf"/>
<rect x="127.00" y="221.74" width="12.00" height="18.36" fill="#4848ec"/>
<rect x="127.00" y="222.97" width="12.00" height="17.13" fill="#4741e5"/>
<rect x="127.00" y="224.19" width="12.00" height="15.91" fill="#484ef1"/>
<rect x="127.00" y="225.41" width="12.00" height="14.69" fill="#4743e7"/>
<rect x="127.00" y="226.64" width="12.00" height="13.46" fill="#463cdf"/>
<rect x="127.00" y="227.86" width="12.00" height="12.24" fill="#484bee"/>
<rect x="127.00" y="229.09" width="12.00" height="11.01" fill="#4639da"/>
<rect x="127.00" y="230.31" width="12.00" height="9.79" fill="#484df1"/>
<rect x="127.00" y="231.53" width="12.00" height="8.57" fill="#484bef"/>
<rect x="127.00" y="232.76" width="12.00" height="7.34" fill="#484bef"/>
<rect x="127.00" y="233.98" width="12.00" height="6.12" fill="#4854f5"/>
<rect x="127.00" y="235.20" width="12.00" height="4.90" fill="#4757f7"/>
<rect x="127.00" y="236.43" width="12.00" height="3.67" fill="#4853f5"/>
<rect x="127.00" y="237.65" width="12.00" height="2.45" fill="#4757f7"/>
<rect x="127.00" y="238.88" width="12.00" height="1.22" fill="#484ff2"/>
<rect x="139.00" y="163.00" width="11.00" height="77.10" fill="#4758f8"/>
<rect x="139.00" y="164.22" width="11.00" height="75.88" fill="#465ffb"/>
<rect x="139.00" y="165.45" width="11.00" height="74.65" fill="#4849ed"/>
<rect x="139.00" y="166.67" width="11.00" height="73.43" fill="#4852f4"/>
<rect x="139.00" y="167.90" width="11.00" height="72.20" fill="#4465fd"/>
<rect x="139.00" y="169.12" width="11.00" height="70.98" fill="#475bf9"/>
<rect x="139.00" y="170.34" width="11.00" height="69.76" fill="#463de0"/>
<rect x="139.00" y="171.57" width="11.00" height="68.53" fill="#484ef1"/>
<rect x="139.00" y="172.79" width="11.00" height="67.31" fill="#465ffb"/>
<rect x="139.00" y="174.01" width="11.00" height="66.09" fill="#4758f8"/>
<rect x="139.00" y="175.24" width="11.00" height="64.86" fill="#465efb"/>
<rect x="139.00" y="176.46" width="11.00" height="63.64" fill="#4849ed"/>
<rect x="139.00" y="177.69" width="11.00" height="62.41" fill="#4850f2"/>
<rect x="139.00" y="178.91" width="11.00" height="61.19" fill="#484aee"/>
<rect x="139.00" y="180.13" width="11.00" height="59.97" fill="#4745ea"/>
<rect x="139.00" y="181.36" width="11.00" height="58.74" fill="#484df0"/>
<rect x="139.00" y="182.58" width="11.00" height="57.52" fill="#484ff2"/>
<rect x="139.00" y="183.80" width="11.00" height="56.30" fill="#4757f7"/>
<rect x="139.00" y="185.03" width="11.00" height="55.07" fill="#4853f4"/>
<rect x="139.00" y="186.25" width="11.00" height="53.85" fill="#4465fd"/>
<rect x="139.00" y="187.48" width="11.00" height="52.62" fill="#4563fd"/>
<rect x="139.00" y="188.70" width="11.00" height="51.40" fill="#3579fd"/>
<rect x="139.00" y="189.92" width="11.00" height="50.18" fill="#416bfe"/>
<rect x="139.00" y="191.15" width="11.00" height="48.95" fill="#2d88f6"/>
<rect x="139.00" y="192.37" width="11.00" height="47.73" fill="#249ee6"/>
<rect x="139.00" y="193.60" width="11.00" height="46.50" fill="#2896ec"/>
<rect x="139.00" y="194.82" width="11.00" height="45.28" fill="#2d8bf4"/>
<rect x="139.00" y="196.04" width="11.00" height="44.06" fill="#1da8e0"/>
<rect x="139.00" y="197.27" width="11.00" height="42.83" fill="#2994ed"/>
<rect x="139.00" y="198.49" width="11.00" height="41.61" fill="#05b6ce"/>
<rect x="139.00" y="199.71" width="11.00" height="40.39" fill="#259ce7"/>
<rect x="139.00" y="200.94" width="11.00" height="39.16" fill="#249de7"/>
<rect x="139.00" y="202.16" width="11.00" height="37.94" fill="#1fa6e2"/>
<rect x="139.00" y="203.39" width="11.00" height="36.71" fill="#22a2e4"/>
<rect x="139.00" y="204.61" width="11.00" height="35.49" fill="#23a1e4"/>
<rect x="139.00" y="205.83" width="11.00" height="34.27" fill="#2a93ee"/>
<rect x="139.00" y="207.06" width="11.00" height="33.04" fill="#2d88f6"/>
<rect x="139.00" y="208.28" width="11.00" height="31.82" fill="#2e83f9"/>
<rect x="139.00" y="209.50" width="11.00" height="30.60" fill="#2c8ff0"/>
<rect x="139.00" y="210.73" width="11.00" height="29.37" fill="#3d70ff"/>
<rect x="139.00" y="211.95" width="11.00" height="28.15" fill="#4465fd"/>
<rect x="139.00" y="213.18" width="11.00" height="26.92" fill="#475cfa"/>
<rect x="139.00" y="214.40" width="11.00" height="25.70" fill="#4854f6"/>
<rect x="139.00" y="215.62" width="11.00" height="24.48" fill="#484aee"/>
<rect x="139.00" y="216.85" width="11.00" height="23.25" fill="#484cef"/>
<rect x="139.00" y="218.07" width="11.00" height="22.03" fill="#484ff2"/>
<rect x="139.00" y="219.30" width="11.00" height="20.80" fill="#4849ed"/>
<rect x="139.00" y="220.52" width="11.00" height="19.58" fill="#4851f4"/>
<rect x="139.00" y="221.74" width="11.00" height="18.36" fill="#4537d6"/>
<rect x="139.00" y="222.97" width="11.00" height="17.13" fill="#473fe3"/>
<rect x="139.00" y="224.19" width="11.00" height="15.91" fill="#484bef"/>
<rect x="139.00" y="225.41" width="11.00" height="14.69" fill="#4848ec"/>
<rect x="139.00" y="226.64" width="11.00" height="13.46" fill="#463de0"/>
<rect x="139.00" y="227.86" width="11.00" height="12.24" fill="#4743e7"/>
<rect x="139.00" y="229.09" width="11.00" height="11.01" fill="#463cde"/>
<rect x="139.00" y="230.31" width="11.00" height="9.79" fill="#4758f8"/>
<rect x="139.00" y="231.53" width="11.00" height="8.57" fill="#4850f2"/>
<rect x="139.00" y="232.76" width="11.00" height="7.34" fill="#475af9"/>
<rect x="139.00" y="233.98" width="11.00" height="6.12" fill="#4746ea"/>
<rect x="139.00" y="235.20" width="11.00" height="4.90" fill="#4743e7"/>
<rect x="139.00" y="236.43" width="11.00" height="3.67" fill="#4756f6"/>
<rect x="139.00" y="237.65" width="11.00" height="2.45" fill="#484bee"/>
<rect x="139.00" y="238.88" width="11.00" height="1.22" fill="#4466fd"/>
<rect x="150.00" y="163.00" width="12.00" height="77.10" fill="#4368fe"/>
<rect x="150.00" y="164.22" width="12.00" height="75.88" fill="#4367fd"/>
<rect x="150.00" y="165.45" width="12.00" height="74.65" fill="#4758f8"/>
<rect x="150.00" y="166.67" width="12.00" height="73.43" fill="#484aee"/>
<rect x="150.00" y="167.90" width="12.00" height="72.20" fill="#416bfe"/>
<rect x="150.00" y="169.12" width="12.00" height="70.98" fill="#4757f7"/>
<rect x="150.00" y="170.34" width="12.00" height="69.76" fill="#4744e8"/>
<rect x="150.00" y="171.57" width="12.00" height="68.53" fill="#484ff2"/>
<rect x="150.00" y="172.79" width="12.00" height="67.31" fill="#4747eb"/>
<rect x="150.00" y="174.01" width="12.00" height="66.09" fill="#484cf0"/>
<rect x="150.00" y="175.24" width="12.00" height="64.86" fill="#484bef"/>
<rect x="150.00" y="176.46" width="12.00" height="63.64" fill="#4848ec"/>
<rect x="150.00" y="177.69" width="12.00" height="62.41" fill="#484df0"/>
<rect x="150.00" y="178.91" width="12.00" height="61.19" fill="#463ee1"/>
<rect x="150.00" y="180.13" width="12.00" height="59.97" fill="#4851f4"/>
<rect x="150.00" y="181.36" width="12.00" height="58.74" fill="#4848ec"/>
<rect x="150.00" y="182.58" width="12.00" height="57.52" fill="#463ddf"/>
<rect x="150.00" y="183.80" width="12.00" height="56.30" fill="#484aee"/>
<rect x="150.00" y="185.03" width="12.00" height="55.07" fill="#484df0"/>
<rect x="150.00" y="186.25" width="12.00" height="53.85" fill="#4755f6"/>
<rect x="150.00" y="187.48" width="12.00" height="52.62" fill="#475bf9"/>
<rect x="150.00" y="188.70" width="12.00" height="51.40" fill="#4563fd"/>
<rect x="150.00" y="189.92" width="12.00" height="50.18" fill="#416bfe"/>
<rect x="150.00" y="191.15" width="12.00" height="48.95" fill="#2797eb"/>
<rect x="150.00" y="192.37" width="12.00" height="47.73" fill="#4368fe"/>
<rect x="150.00" y="193.60" width="12.00" height="46.50" fill="#4367fd"/>
<rect x="150.00" y="194.82" width="12.00" height="45.28" fill="#416cfe"/>
<rect x="150.00" y="196.04" width="12.00" height="44.06" fill="#2f80fa"/>
<rect x="150.00" y="197.27" width="12.00" height="42.83" fill="#475bf9"/>
<rect x="150.00" y="198.49" width="12.00" height="41.61" fill="#3b73fe"/>
<rect x="150.00" y="199.71" width="12.00" height="40.39" fill="#317dfc"/>
<rect x="150.00" y="200.94" width="12.00" height="39.16" fill="#4366fd"/>
<rect x="150.00" y="202.16" width="12.00" height="37.94" fill="#317dfc"/>
<rect x="150.00" y="203.39" width="12.00" height="36.71" fill="#3d70ff"/>
<rect x="150.00" y="204.61" width="12.00" height="35.49" fill="#3e6fff"/>
<rect x="150.00" y="205.83" width="12.00" height="34.27" fill="#426afe"/>
<rect x="150.00" y="207.06" width="12.00" height="33.04" fill="#406dfe"/>
<rect x="150.00" y="208.28" width="12.00" height="31.82" fill="#406dfe"/>
<rect x="150.00" y="209.50" width="12.00" height="30.60" fill="#3b73fe"/>
<rect x="150.00" y="210.73" width="12.00" height="29.37" fill="#484df0"/>
<rect x="150.00" y="211.95" width="12.00" height="28.15" fill="#4756f6"/>
<rect x="150.00" y="213.18" width="12.00" height="26.92" fill="#4756f7"/>
<rect x="150.00" y="214.40" width="12.00" height="25.70" fill="#4850f3"/>
<rect x="150.00" y="215.62" width="12.00" height="24.48" fill="#4853f4"/>
<rect x="150.00" y="216.85" width="12.00" height="23.25" fill="#484bef"/>
<rect x="150.00" y="218.07" width="12.00" height="22.03" fill="#484cf0"/>
<rect x="150.00" y="219.30" width="12.00" height="20.80" fill="#4852f4"/>
<rect x="150.00" y="220.52" width="12.00" height="19.58" fill="#4854f5"/>
<rect x="150.00" y="221.74" width="12.00" height="18.36" fill="#484bef"/>
<rect x="150.00" y="222.97" width="12.00" height="17.13" fill="#463ee1"/>
<rect x="150.00" y="224.19" width="12.00" height="15.91" fill="#484df0"/>
<rect x="150.00" y="225.41" width="12.00" height="14.69" fill="#484aed"/>
<rect x="150.00" y="226.64" width="12.00" height="13.46" fill="#463ee1"/>
<rect x="150.00" y="227.86" width="12.00" height="12.24" fill="#484aee"/>
<rect x="150.00" y="229.09" width="12.00" height="11.01" fill="#4745e9"/>
<rect x="150.00" y="230.31" width="12.00" height="9.79" fill="#4747eb"/>
<rect x="150.00" y="231.53" width="12.00" height="8.57" fill="#465efb"/>
<rect x="150.00" y="232.76" width="12.00" height="7.34" fill="#4747eb"/>
<rect x="150.00" y="233.98" width="12.00" height="6.12" fill="#4563fd"/>
<rect x="150.00" y="235.20" width="12.00" height="4.90" fill="#484cef"/>
<rect x="150.00" y="236.43" width="12.00" height="3.67" fill="#4851f3"/>
<rect x="150.00" y="237.65" width="12.00" height="2.45" fill="#484bef"/>
<rect x="150.00" y="238.88" width="12.00" height="1.22" fill="#4851f4"/>
<rect x="162.00" y="163.00" width="12.00" height="77.10" fill="#4759f8"/>
<rect x="162.00" y="164.22" width="12.00" height="75.88" fill="#426afe"/>
<rect x="162.00" y="165.45" width="12.00" height="74.65" fill="#465efb"/>
<rect x="162.00" y="166.67" width="12.00" height="73.43" fill="#4755f6"/>
<rect x="162.00" y="167.90" width="12.00" height="72.20" fill="#465ffb"/>
<rect x="162.00" y="169.12" width="12.00" height="70.98" fill="#4741e5"/>
<rect x="162.00" y="170.34" width="12.00" height="69.76" fill="#4661fc"/>
<rect x="162.00" y="171.57" width="12.00" height="68.53" fill="#4849ed"/>
<rect x="162.00" y="172.79" width="12.00" height="67.31" fill="#473fe3"/>
<rect x="162.00" y="174.01" width="12.00" height="66.09" fill="#4742e7"/>
<rect x="162.00" y="175.24" width="12.00" height="64.86" fill="#484bef"/>
<rect x="162.00" y="176.46" width="12.00" height="63.64" fill="#4849ed"/>
<rect x="162.00" y="177.69" width="12.00" height="62.41" fill="#473ee1"/>
<rect x="162.00" y="178.91" width="12.00" height="61.19" fill="#4740e3"/>
<rect x="162.00" y="180.13" width="12.00" height="59.97" fill="#484df0"/>
<rect x="162.00" y="181.36" width="12.00" height="58.74" fill="#4848ec"/>
<rect x="162.00" y="182.58" width="12.00" height="57.52" fill="#4848ec"/>
<rect x="162.00" y="183.80" width="12.00" height="56.30" fill="#4741e5"/>
<rect x="162.00" y="185.03" width="12.00" height="55.07" fill="#484ef1"/>
<rect x="162.00" y="186.25" width="12.00" height="53.85" fill="#4746ea"/>
<rect x="162.00" y="187.48" width="12.00" height="52.62" fill="#4742e6"/>
<rect x="162.00" y="188.70" width="12.00" height="51.40" fill="#4852f4"/>
<rect x="162.00" y="189.92" width="12.00" height="50.18" fill="#4744e8"/>
<rect x="162.00" y="191.15" width="12.00" height="48.95" fill="#4758f8"/>
<rect x="162.00" y="192.37" width="12.00" height="47.73" fill="#484ff2"/>
<rect x="162.00" y="193.60" width="12.00" height="46.50" fill="#4848ec"/>
<rect x="162.00" y="194.82" width="12.00" height="45.28" fill="#4758f8"/>
<rect x="162.00" y="196.04" width="12.00" height="44.06" fill="#4755f6"/>
<rect x="162.00" y="197.27" width="12.00" height="42.83" fill="#4660fc"/>
<rect x="162.00" y="198.49" width="12.00" height="41.61" fill="#4660fc"/>
<rect x="162.00" y="199.71" width="12.00" height="40.39" fill="#465dfa"/>
<rect x="162.00" y="200.94" width="12.00" height="39.16" fill="#465ffb"/>
<rect x="162.00" y="202.16" width="12.00" height="37.94" fill="#475af9"/>
<rect x="162.00" y="203.39" width="12.00" height="36.71" fill="#484cf0"/>
<rect x="162.00" y="204.61" width="12.00" height="35.49" fill="#4853f5"/>
<rect x="162.00" y="205.83" width="12.00" height="34.27" fill="#4854f5"/>
<rect x="162.00" y="207.06" width="12.00" height="33.04" fill="#484bef"/>
<rect x="162.00" y="208.28" width="12.00" height="31.82" fill="#475cfa"/>
<rect x="162.00" y="209.50" width="12.00" height="30.60" fill="#4756f7"/>
<rect x="162.00" y="210.73" width="12.00" height="29.37" fill="#475bf9"/>
<rect x="162.00" y="211.95" width="12.00" height="28.15" fill="#484ff2"/>
<rect x="162.00" y="213.18" width="12.00" height="26.92" fill="#4850f3"/>
<rect x="162.00" y="214.40" width="12.00" height="25.70" fill="#4745e9"/>
<rect x="162.00" y="215.62" width="12.00" height="24.48" fill="#465ffb"/>
<rect x="162.00" y="216.85" width="12.00" height="23.25" fill="#4851f3"/>
<rect x="162.00" y="218.07" width="12.00" height="22.03" fill="#463adb"/>
<rect x="162.00" y="219.30" width="12.00" height="20.80" fill="#463cdf"/>
<rect x="162.00" y="220.52" width="12.00" height="19.58" fill="#4757f7"/>
<rect x="162.00" y="221.74" width="12.00" height="18.36" fill="#4741e5"/>
<rect x="162.00" y="222.97" width="12.00" height="17.13" fill="#4848ec"/>
<rect x="162.00" y="224.19" width="12.00" height="15.91" fill="#463ee1"/>
<rect x="162.00" y="225.41" width="12.00" height="14.69" fill="#4853f5"/>
<rect x="162.00" y="226.64" width="12.00" height="13.46" fill="#4746eb"/>
<rect x="162.00" y="227.86" width="12.00" height="12.24" fill="#4742e6"/>
<rect x="162.00" y="229.09" width="12.00" height="11.01" fill="#4745e9"/>
<rect x="162.00" y="230.31" width="12.00" height="9.79" fill="#4850f2"/>
<rect x="162.00" y="231.53" width="12.00" height="8.57" fill="#4848ec"/>
<rect x="162.00" y="232.76" width="12.00" height="7.34" fill="#4852f4"/>
<rect x="162.00" y="233.98" width="12.00" height="6.12" fill="#484cef"/>
<rect x="162.00" y="235.20" width="12.00" height="4.90" fill="#4852f4"/>
<rect x="162.00" y="236.43" width="12.00" height="3.67" fill="#4562fc"/>
<rect x="162.00" y="237.65" width="12.00" height="2.45" fill="#4755f6"/>
<rect x="162.00" y="238.88" width="12.00" height="1.22" fill="#4756f7"/>
<rect x="174.00" y="163.00" width="11.00" height="77.10" fill="#475bf9"/>
<rect x="174.00" y="164.22" width="11.00" height="75.88" fill="#4759f8"/>
<rect x="174.00" y="165.45" width="11.00" height="74.65" fill="#475bf9"/>
<rect x="174.00" y="166.67" width="11.00" height="73.43" fill="#484ff2"/>
<rect x="174.00" y="167.90" width="11.00" height="72.20" fill="#4746eb"/>
<rect x="174.00" y="169.12" width="11.00" height="70.98" fill="#4746ea"/>
<rect x="174.00" y="170.34" width="11.00" height="69.76" fill="#4747eb"/>
<rect x="174.00" y="171.57" width="11.00" height="68.53" fill="#484df0"/>
<rect x="174.00" y="172.79" width="11.00" height="67.31" fill="#484aee"/>
<rect x="174.00" y="174.01" width="11.00" height="66.09" fill="#473fe3"/>
<rect x="174.00" y="175.24" width="11.00" height="64.86" fill="#4745e9"/>
<rect x="174.00" y="176.46" width="11.00" height="63.64" fill="#473fe3"/>
<rect x="174.00" y="177.69" width="11.00" height="62.41" fill="#484aee"/>
<rect x="174.00" y="178.91" width="11.00" height="61.19" fill="#4639d9"/>
<rect x="174.00" y="180.13" width="11.00" height="59.97" fill="#473fe3"/>
<rect x="174.00" y="181.36" width="11.00" height="58.74" fill="#473fe2"/>
<rect x="174.00" y="182.58" width="11.00" height="57.52" fill="#4745e9"/>
<rect x="174.00" y="183.80" width="11.00" height="56.30" fill="#4747eb"/>
<rect x="174.00" y="185.03" width="11.00" height="55.07" fill="#4743e8"/>
<rect x="174.00" y="186.25" width="11.00" height="53.85" fill="#473ee1"/>
<rect x="174.00" y="187.48" width="11.00" height="52.62" fill="#484ff2"/>
<rect x="174.00" y="188.70" width="11.00" height="51.40" fill="#484cef"/>
<rect x="174.00" y="189.92" width="11.00" height="50.18" fill="#4851f4"/>
<rect x="174.00" y="191.15" width="11.00" height="48.95" fill="#4851f3"/>
<rect x="174.00" y="192.37" width="11.00" height="47.73" fill="#465efb"/>
<rect x="174.00" y="193.60" width="11.00" height="46.50" fill="#4848ec"/>
<rect x="174.00" y="194.82" width="11.00" height="45.28" fill="#4756f7"/>
<rect x="174.00" y="196.04" width="11.00" height="44.06" fill="#4759f8"/>
<rect x="174.00" y="197.27" width="11.00" height="42.83" fill="#475af9"/>
<rect x="174.00" y="198.49" width="11.00" height="41.61" fill="#4660fb"/>
<rect x="174.00" y="199.71" width="11.00" height="40.39" fill="#4757f7"/>
<rect x="174.00" y="200.94" width="11.00" height="39.16" fill="#484ff2"/>
<rect x="174.00" y="202.16" width="11.00" height="37.94" fill="#4854f5"/>
<rect x="174.00" y="203.39" width="11.00" height="36.71" fill="#4367fd"/>
<rect x="174.00" y="204.61" width="11.00" height="35.49" fill="#4465fd"/>
<rect x="174.00" y="205.83" width="11.00" height="34.27" fill="#4849ed"/>
<rect x="174.00" y="207.06" width="11.00" height="33.04" fill="#4755f6"/>
<rect x="174.00" y="208.28" width="11.00" height="31.82" fill="#4757f7"/>
<rect x="174.00" y="209.50" width="11.00" height="30.60" fill="#484ef1"/>
<rect x="174.00" y="210.73" width="11.00" height="29.37" fill="#4433cb"/>
<rect x="174.00" y="211.95" width="11.00" height="28.15" fill="#4742e6"/>
<rect x="174.00" y="213.18" width="11.00" height="26.92" fill="#484ef1"/>
<rect x="174.00" y="214.40" width="11.00" height="25.70" fill="#484ef1"/>
<rect x="174.00" y="215.62" width="11.00" height="24.48" fill="#4746ea"/>
<rect x="174.00" y="216.85" width="11.00" height="23.25" fill="#4744e8"/>
<rect x="174.00" y="218.07" width="11.00" height="22.03" fill="#484bef"/>
<rect x="174.00" y="219.30" width="11.00" height="20.80" fill="#4740e4"/>
<rect x="174.00" y="220.52" width="11.00" height="19.58" fill="#4741e5"/>
<rect x="174.00" y="221.74" width="11.00" height="18.36" fill="#4331c7"/>
<rect x="174.00" y="222.97" width="11.00" height="17.13" fill="#4849ed"/>
<rect x="174.00" y="224.19" width="11.00" height="15.91" fill="#4744e8"/>
<rect x="174.00" y="225.41" width="11.00" height="14.69" fill="#463de0"/>
<rect x="174.00" y="226.64" width="11.00" height="13.46" fill="#463cde"/>
<rect x="174.00" y="227.86" width="11.00" height="12.24" fill="#463adb"/>
<rect x="174.00" y="229.09" width="11.00" height="11.01" fill="#4743e7"/>
<rect x="174.00" y="230.31" width="11.00" height="9.79" fill="#463de0"/>
<rect x="174.00" y="231.53" width="11.00" height="8.57" fill="#4745e9"/>
<rect x="174.00" y="232.76" width="11.00" height="7.34" fill="#4742e6"/>
<rect x="174.00" y="233.98" width="11.00" height="6.12" fill="#4848ec"/>
<rect x="174.00" y="235.20" width="11.00" height="4.90" fill="#4747eb"/>
<rect x="174.00" y="236.43" width="11.00" height="3.67" fill="#4743e7"/>
<rect x="174.00" y="237.65" width="11.00" height="2.45" fill="#4755f6"/>
<rect x="174.00" y="238.88" width="11.00" height="1.22" fill="#4743e7"/>
<rect x="185.00" y="163.00" width="12.00" height="77.10" fill="#4851f3"/>
<rect x="185.00" y="164.22" width="12.00" height="75.88" fill="#4747eb"/>
<rect x="185.00" y="165.45" width="12.00" height="74.65" fill="#4854f5"/>
<rect x="185.00" y="166.67" width="12.00" height="73.43" fill="#484df1"/>
<rect x="185.00" y="167.90" width="12.00" height="72.20" fill="#463bdd"/>
<rect x="185.00" y="169.12" width="12.00" height="70.98" fill="#473ee2"/>
<rect x="185.00" y="170.34" width="12.00" height="69.76" fill="#4743e7"/>
<rect x="185.00" y="171.57" width="12.00" height="68.53" fill="#463adc"/>
<rect x="185.00" y="172.79" width="12.00" height="67.31" fill="#4538d8"/>
<rect x="185.00" y="174.01" width="12.00" height="66.09" fill="#463adb"/>
<rect x="185.00" y="175.24" width="12.00" height="64.86" fill="#4741e5"/>
<rect x="185.00" y="176.46" width="12.00" height="63.64" fill="#4433cd"/>
<rect x="185.00" y="177.69" width="12.00" height="62.41" fill="#463bde"/>
<rect x="185.00" y="178.91" width="12.00" height="61.19" fill="#4538d8"/>
<rect x="185.00" y="180.13" width="12.00" height="59.97" fill="#463adb"/>
<rect x="185.00" y="181.36" width="12.00" height="58.74" fill="#4740e3"/>
<rect x="185.00" y="182.58" width="12.00" height="57.52" fill="#4741e5"/>
<rect x="185.00" y="183.80" width="12.00" height="56.30" fill="#4740e4"/>
<rect x="185.00" y="185.03" width="12.00" height="55.07" fill="#4741e5"/>
<rect x="185.00" y="186.25" width="12.00" height="53.85" fill="#463bdd"/>
<rect x="185.00" y="187.48" width="12.00" height="52.62" fill="#412dbb"/>
<rect x="185.00" y="188.70" width="12.00" height="51.40" fill="#4740e4"/>
<rect x="185.00" y="189.92" width="12.00" height="50.18" fill="#4433cc"/>
<rect x="185.00" y="191.15" width="12.00" height="48.95" fill="#4537d6"/>
<rect x="185.00" y="192.37" width="12.00" height="47.73" fill="#4848ec"/>
<rect x="185.00" y="193.60" width="12.00" height="46.50" fill="#484df1"/>
<rect x="185.00" y="194.82" width="12.00" height="45.28" fill="#4757f7"/>
<rect x="185.00" y="196.04" width="12.00" height="44.06" fill="#473ee2"/>
<rect x="185.00" y="197.27" width="12.00" height="42.83" fill="#4747eb"/>
<rect x="185.00" y="198.49" width="12.00" height="41.61" fill="#4745e9"/>
<rect x="185.00" y="199.71" width="12.00" height="40.39" fill="#484aee"/>
<rect x="185.00" y="200.94" width="12.00" height="39.16" fill="#4740e3"/>
<rect x="185.00" y="202.16" width="12.00" height="37.94" fill="#4743e7"/>
<rect x="185.00" y="203.39" width="12.00" height="36.71" fill="#484ff2"/>
<rect x="185.00" y="204.61" width="12.00" height="35.49" fill="#4747eb"/>
<rect x="185.00" y="205.83" width="12.00" height="34.27" fill="#484cef"/>
<rect x="185.00" y="207.06" width="12.00" height="33.04" fill="#484cf0"/>
<rect x="185.00" y="208.28" width="12.00" height="31.82" fill="#4741e5"/>
<rect x="185.00" y="209.50" width="12.00" height="30.60" fill="#4741e5"/>
<rect x="185.00" y="210.73" width="12.00" height="29.37" fill="#4744e9"/>
<rect x="185.00" y="211.95" width="12.00" height="28.15" fill="#463bde"/>
<rect x="185.00" y="213.18" width="12.00" height="26.92" fill="#4744e8"/>
<rect x="185.00" y="214.40" width="12.00" height="25.70" fill="#473fe3"/>
<rect x="185.00" y="215.62" width="12.00" height="24.48" fill="#473fe2"/>
<rect x="185.00" y="216.85" width="12.00" height="23.25" fill="#4537d5"/>
<rect x="185.00" y="218.07" width="12.00" height="22.03" fill="#4434cf"/>
<rect x="185.00" y="219.30" width="12.00" height="20.80" fill="#4331c6"/>
<rect x="185.00" y="220.52" width="12.00" height="19.58" fill="#463bdd"/>
<rect x="185.00" y="221.74" width="12.00" height="18.36" fill="#4538d8"/>
<rect x="185.00" y="222.97" width="12.00" height="17.13" fill="#4537d5"/>
<rect x="185.00" y="224.19" width="12.00" height="15.91" fill="#4741e5"/>
<rect x="185.00" y="225.41" width="12.00" height="14.69" fill="#463de0"/>
<rect x="185.00" y="226.64" width="12.00" height="13.46" fill="#463bde"/>
<rect x="185.00" y="227.86" width="12.00" height="12.24" fill="#4639da"/>
<rect x="185.00" y="229.09" width="12.00" height="11.01" fill="#463cdf"/>
<rect x="185.00" y="230.31" width="12.00" height="9.79" fill="#463cdf"/>
<rect x="185.00" y="231.53" width="12.00" height="8.57" fill="#4756f7"/>
<rect x="185.00" y="232.76" width="12.00" height="7.34" fill="#463ee0"/>
<rect x="185.00" y="233.98" width="12.00" height="6.12" fill="#4746ea"/>
<rect x="185.00" y="235.20" width="12.00" height="4.90" fill="#4744e8"/>
<rect x="185.00" y="236.43" width="12.00" height="3.67" fill="#484ef1"/>
<rect x="185.00" y="237.65" width="12.00" height="2.45" fill="#473fe2"/>
<rect x="185.00" y="238.88" width="12.00" height="1.22" fill="#484aed"/>
</g>
<text class="tk" x="38.81" y="255.40" text-anchor="middle">0</text>
<text class="tk" x="97.38" y="255.40" text-anchor="middle">0.5</text>
<text class="tk" x="155.95" y="255.40" text-anchor="middle">1</text>
<text class="tk" x="29.80" y="167.86" text-anchor="end">0</text>
<text class="tk" x="29.80" y="192.34" text-anchor="end">2</text>
<text class="tk" x="29.80" y="216.81" text-anchor="end">4</text>
<text class="tk" x="29.80" y="241.29" text-anchor="end">6</text>
<path d="M39.06 240.10v-1.80M39.06 163.00v1.80M97.63 240.10v-1.80M97.63 163.00v1.80M156.20 240.10v-1.80M156.20 163.00v1.80M33.20 163.61h1.80M197.20 163.61h-1.80M33.20 188.09h1.80M197.20 188.09h-1.80M33.20 212.56h1.80M197.20 212.56h-1.80M33.20 237.04h1.80M197.20 237.04h-1.80" stroke="#303030" stroke-width="0.7" fill="none"/>
<rect x="33.20" y="163.00" width="164.00" height="77.10" fill="none" stroke="#303030" stroke-width="0.7"/>
<rect x="206.10" y="163.70" width="17.40" height="75.30" fill="url(#pg)" stroke="#303030" stroke-width="0.8"/>
<path d="M223.50 200.58h-1.6" stroke="#303030" stroke-width="0.7"/>
<text class="tk cb" x="227.6" y="204.48">0.5</text>
<text class="tk cb" x="227.6" y="242.90">0</text>
<rect x="324.30" y="163.00" width="220.80" height="77.10" fill="#3e26a8"/>
<rect x="356" y="196.50" width="16" height="1.10" fill="#f9fb15"/>
<rect x="356" y="199.30" width="16" height="1.20" fill="#f9fb15"/>
<rect x="372" y="195.60" width="15" height="11.30" fill="#f9fb15"/>
<rect x="387" y="193.10" width="16" height="1.60" fill="#f9fb15"/>
<rect x="387" y="195.90" width="16" height="12.90" fill="#f9fb15"/>
<rect x="403" y="193.30" width="16" height="17.40" fill="#f9fb15"/>
<rect x="419" y="193.30" width="16" height="15.50" fill="#f9fb15"/>
<rect x="435" y="196.50" width="15" height="1.10" fill="#f9fb15"/>
<rect x="435" y="203.10" width="15" height="1.20" fill="#f9fb15"/>
<text class="tk" x="331.94" y="255.40" text-anchor="middle">0</text>
<text class="tk" x="363.48" y="255.40" text-anchor="middle">0.2</text>
<text class="tk" x="395.02" y="255.40" text-anchor="middle">0.4</text>
<text class="tk" x="426.56" y="255.40" text-anchor="middle">0.6</text>
<text class="tk" x="458.11" y="255.40" text-anchor="middle">0.8</text>
<text class="tk" x="489.65" y="255.40" text-anchor="middle">1</text>
<text class="tk" x="521.19" y="255.40" text-anchor="middle">1.2</text>
<text class="tk" x="320.90" y="167.86" text-anchor="end">0</text>
<text class="tk" x="320.90" y="192.34" text-anchor="end">2</text>
<text class="tk" x="320.90" y="216.81" text-anchor="end">4</text>
<text class="tk" x="320.90" y="241.29" text-anchor="end">6</text>
<path d="M332.19 240.10v-1.80M332.19 163.00v1.80M363.73 240.10v-1.80M363.73 163.00v1.80M395.27 240.10v-1.80M395.27 163.00v1.80M426.81 240.10v-1.80M426.81 163.00v1.80M458.36 240.10v-1.80M458.36 163.00v1.80M489.90 240.10v-1.80M489.90 163.00v1.80M521.44 240.10v-1.80M521.44 163.00v1.80M324.30 163.61h1.80M545.10 163.61h-1.80M324.30 188.09h1.80M545.10 188.09h-1.80M324.30 212.56h1.80M545.10 212.56h-1.80M324.30 237.04h1.80M545.10 237.04h-1.80" stroke="#303030" stroke-width="0.7" fill="none"/>
<rect x="324.30" y="163.00" width="220.80" height="77.10" fill="none" stroke="#303030" stroke-width="0.7"/>
<text class="tt tl" x="114.40" y="150.90" text-anchor="middle">P<tspan dy="4" font-size="9.6">d</tspan><tspan dy="-4"> of Delta</tspan></text>
<text class="tt" x="434.70" y="154.40" text-anchor="middle">Detectable area of Delta</text>
<g transform="translate(115.20 270.60) rotate(0)"><text class="dl" x="-26.20" y="0" textLength="9.90" lengthAdjust="spacingAndGlyphs">Δ</text><text class="gr" x="-16.20" y="0" textLength="7.20" lengthAdjust="spacingAndGlyphs">τ</text><text class="lb" x="-6.10" y="0">(chip)</text></g>
<g transform="translate(434.70 270.60) rotate(0)"><text class="dl" x="-26.20" y="0" textLength="9.90" lengthAdjust="spacingAndGlyphs">Δ</text><text class="gr" x="-16.20" y="0" textLength="7.20" lengthAdjust="spacingAndGlyphs">τ</text><text class="lb" x="-6.10" y="0">(chip)</text></g>
<g transform="translate(16.00 201.55) rotate(-90)"><text class="dl" x="-23.30" y="0" textLength="10.00" lengthAdjust="spacingAndGlyphs">Δ</text><text class="gr2" x="-12.50" y="0" textLength="6.90" lengthAdjust="spacingAndGlyphs">θ</text><text class="lb" x="-1.00" y="0">(rad)</text></g>
<g transform="translate(306.00 201.55) rotate(-90)"><text class="dl" x="-23.30" y="0" textLength="10.00" lengthAdjust="spacingAndGlyphs">Δ</text><text class="gr2" x="-12.50" y="0" textLength="6.90" lengthAdjust="spacingAndGlyphs">θ</text><text class="lb" x="-1.00" y="0">(rad)</text></g>
<g>
<rect x="33.00" y="300.70" width="12.00" height="76.20" fill="#4331c8"/>
<rect x="33.00" y="301.91" width="12.00" height="74.99" fill="#4536d3"/>
<rect x="33.00" y="303.12" width="12.00" height="73.78" fill="#463ada"/>
<rect x="33.00" y="304.33" width="12.00" height="72.57" fill="#463adb"/>
<rect x="33.00" y="305.54" width="12.00" height="71.36" fill="#4745ea"/>
<rect x="33.00" y="306.75" width="12.00" height="70.15" fill="#4269fe"/>
<rect x="33.00" y="307.96" width="12.00" height="68.94" fill="#347afd"/>
<rect x="33.00" y="309.17" width="12.00" height="67.73" fill="#327bfc"/>
<rect x="33.00" y="310.38" width="12.00" height="66.52" fill="#2796eb"/>
<rect x="33.00" y="311.59" width="12.00" height="65.31" fill="#1caadf"/>
<rect x="33.00" y="312.80" width="12.00" height="64.10" fill="#09b4d1"/>
<rect x="33.00" y="314.00" width="12.00" height="62.90" fill="#42ca8b"/>
<rect x="33.00" y="315.21" width="12.00" height="61.69" fill="#1ec0b2"/>
<rect x="33.00" y="316.42" width="12.00" height="60.48" fill="#0ebebb"/>
<rect x="33.00" y="317.63" width="12.00" height="59.27" fill="#05bbc1"/>
<rect x="33.00" y="318.84" width="12.00" height="58.06" fill="#03bbc2"/>
<rect x="33.00" y="320.05" width="12.00" height="56.85" fill="#2dc4a5"/>
<rect x="33.00" y="321.26" width="12.00" height="55.64" fill="#2cc4a7"/>
<rect x="33.00" y="322.47" width="12.00" height="54.43" fill="#17aeda"/>
<rect x="33.00" y="323.68" width="12.00" height="53.22" fill="#45cb89"/>
<rect x="33.00" y="324.89" width="12.00" height="52.01" fill="#08b4d0"/>
<rect x="33.00" y="326.10" width="12.00" height="50.80" fill="#5dcc74"/>
<rect x="33.00" y="327.31" width="12.00" height="49.59" fill="#249ee6"/>
<rect x="33.00" y="328.52" width="12.00" height="48.38" fill="#2d8bf4"/>
<rect x="33.00" y="329.73" width="12.00" height="47.17" fill="#416bfe"/>
<rect x="33.00" y="330.94" width="12.00" height="45.96" fill="#4850f3"/>
<rect x="33.00" y="332.15" width="12.00" height="44.75" fill="#4848ec"/>
<rect x="33.00" y="333.36" width="12.00" height="43.54" fill="#484df1"/>
<rect x="33.00" y="334.57" width="12.00" height="42.33" fill="#463ddf"/>
<rect x="33.00" y="335.78" width="12.00" height="41.12" fill="#4536d4"/>
<rect x="33.00" y="336.99" width="12.00" height="39.91" fill="#4434cf"/>
<rect x="33.00" y="338.20" width="12.00" height="38.70" fill="#422fc0"/>
<rect x="33.00" y="339.40" width="12.00" height="37.50" fill="#412cba"/>
<rect x="33.00" y="340.61" width="12.00" height="36.29" fill="#4331c6"/>
<rect x="33.00" y="341.82" width="12.00" height="35.08" fill="#463bde"/>
<rect x="33.00" y="343.03" width="12.00" height="33.87" fill="#4434d0"/>
<rect x="33.00" y="344.24" width="12.00" height="32.66" fill="#484df1"/>
<rect x="33.00" y="345.45" width="12.00" height="31.45" fill="#4848ec"/>
<rect x="33.00" y="346.66" width="12.00" height="30.24" fill="#3876fe"/>
<rect x="33.00" y="347.87" width="12.00" height="29.03" fill="#2d88f6"/>
<rect x="33.00" y="349.08" width="12.00" height="27.82" fill="#2b91ef"/>
<rect x="33.00" y="350.29" width="12.00" height="26.61" fill="#19addc"/>
<rect x="33.00" y="351.50" width="12.00" height="25.40" fill="#02b7cb"/>
<rect x="33.00" y="352.71" width="12.00" height="24.19" fill="#13beb9"/>
<rect x="33.00" y="353.92" width="12.00" height="22.98" fill="#2fc5a3"/>
<rect x="33.00" y="355.13" width="12.00" height="21.77" fill="#07bcbf"/>
<rect x="33.00" y="356.34" width="12.00" height="20.56" fill="#0dbdbc"/>
<rect x="33.00" y="357.55" width="12.00" height="19.35" fill="#39c895"/>
<rect x="33.00" y="358.76" width="12.00" height="18.14" fill="#1fc0b2"/>
<rect x="33.00" y="359.97" width="12.00" height="16.93" fill="#0ab4d1"/>
<rect x="33.00" y="361.18" width="12.00" height="15.72" fill="#04bbc1"/>
<rect x="33.00" y="362.39" width="12.00" height="14.51" fill="#15bfb7"/>
<rect x="33.00" y="363.60" width="12.00" height="13.30" fill="#01b7ca"/>
<rect x="33.00" y="364.80" width="12.00" height="12.10" fill="#0ab4d2"/>
<rect x="33.00" y="366.01" width="12.00" height="10.89" fill="#21a3e4"/>
<rect x="33.00" y="367.22" width="12.00" height="9.68" fill="#1baadf"/>
<rect x="33.00" y="368.43" width="12.00" height="8.47" fill="#4757f7"/>
<rect x="33.00" y="369.64" width="12.00" height="7.26" fill="#2f81fa"/>
<rect x="33.00" y="370.85" width="12.00" height="6.05" fill="#4741e5"/>
<rect x="33.00" y="372.06" width="12.00" height="4.84" fill="#463de0"/>
<rect x="33.00" y="373.27" width="12.00" height="3.63" fill="#463bdd"/>
<rect x="33.00" y="374.48" width="12.00" height="2.42" fill="#4538d7"/>
<rect x="33.00" y="375.69" width="12.00" height="1.21" fill="#463cdf"/>
<rect x="45.00" y="300.70" width="12.00" height="76.20" fill="#4537d5"/>
<rect x="45.00" y="301.91" width="12.00" height="74.99" fill="#4539d8"/>
<rect x="45.00" y="303.12" width="12.00" height="73.78" fill="#4230c4"/>
<rect x="45.00" y="304.33" width="12.00" height="72.57" fill="#4435d1"/>
<rect x="45.00" y="305.54" width="12.00" height="71.36" fill="#463ee1"/>
<rect x="45.00" y="306.75" width="12.00" height="70.15" fill="#484df0"/>
<rect x="45.00" y="307.96" width="12.00" height="68.94" fill="#3b73fe"/>
<rect x="45.00" y="309.17" width="12.00" height="67.73" fill="#327bfc"/>
<rect x="45.00" y="310.38" width="12.00" height="66.52" fill="#16afd9"/>
<rect x="45.00" y="311.59" width="12.00" height="65.31" fill="#01b7ca"/>
<rect x="45.00" y="312.80" width="12.00" height="64.10" fill="#30c5a2"/>
<rect x="45.00" y="314.00" width="12.00" height="62.90" fill="#13beb8"/>
<rect x="45.00" y="315.21" width="12.00" height="61.69" fill="#30c5a2"/>
<rect x="45.00" y="316.42" width="12.00" height="60.48" fill="#39c895"/>
<rect x="45.00" y="317.63" width="12.00" height="59.27" fill="#dabd28"/>
<rect x="45.00" y="318.84" width="12.00" height="58.06" fill="#63cd70"/>
<rect x="45.00" y="320.05" width="12.00" height="56.85" fill="#8ecb4e"/>
<rect x="45.00" y="321.26" width="12.00" height="55.64" fill="#25c2ae"/>
<rect x="45.00" y="322.47" width="12.00" height="54.43" fill="#8ccb50"/>
<rect x="45.00" y="323.68" width="12.00" height="53.22" fill="#2cc4a6"/>
<rect x="45.00" y="324.89" width="12.00" height="52.01" fill="#20c1b1"/>
<rect x="45.00" y="326.10" width="12.00" height="50.80" fill="#259de7"/>
<rect x="45.00" y="327.31" width="12.00" height="49.59" fill="#21a3e3"/>
<rect x="45.00" y="328.52" width="12.00" height="48.38" fill="#269ae9"/>
<rect x="45.00" y="329.73" width="12.00" height="47.17" fill="#317efb"/>
<rect x="45.00" y="330.94" width="12.00" height="45.96" fill="#4757f7"/>
<rect x="45.00" y="332.15" width="12.00" height="44.75" fill="#4755f6"/>
<rect x="45.00" y="333.36" width="12.00" height="43.54" fill="#4743e7"/>
<rect x="45.00" y="334.57" width="12.00" height="42.33" fill="#4639d9"/>
<rect x="45.00" y="335.78" width="12.00" height="41.12" fill="#463ee1"/>
<rect x="45.00" y="336.99" width="12.00" height="39.91" fill="#402ab3"/>
<rect x="45.00" y="338.20" width="12.00" height="38.70" fill="#4434ce"/>
<rect x="45.00" y="339.40" width="12.00" height="37.50" fill="#402bb7"/>
<rect x="45.00" y="340.61" width="12.00" height="36.29" fill="#4434cd"/>
<rect x="45.00" y="341.82" width="12.00" height="35.08" fill="#4639da"/>
<rect x="45.00" y="343.03" width="12.00" height="33.87" fill="#4538d8"/>
<rect x="45.00" y="344.24" width="12.00" height="32.66" fill="#484aee"/>
<rect x="45.00" y="345.45" width="12.00" height="31.45" fill="#475af9"/>
<rect x="45.00" y="346.66" width="12.00" height="30.24" fill="#4464fd"/>
<rect x="45.00" y="347.87" width="12.00" height="29.03" fill="#3c72ff"/>
<rect x="45.00" y="349.08" width="12.00" height="27.82" fill="#15afd9"/>
<rect x="45.00" y="350.29" width="12.00" height="26.61" fill="#259ce7"/>
<rect x="45.00" y="351.50" width="12.00" height="25.40" fill="#0ebdbb"/>
<rect x="45.00" y="352.71" width="12.00" height="24.19" fill="#13beb8"/>
<rect x="45.00" y="353.92" width="12.00" height="22.98" fill="#53cc7d"/>
<rect x="45.00" y="355.13" width="12.00" height="21.77" fill="#30c5a1"/>
<rect x="45.00" y="356.34" width="12.00" height="20.56" fill="#3bc992"/>
<rect x="45.00" y="357.55" width="12.00" height="19.35" fill="#2cc4a7"/>
<rect x="45.00" y="358.76" width="12.00" height="18.14" fill="#65cd6e"/>
<rect x="45.00" y="359.97" width="12.00" height="16.93" fill="#9bc945"/>
<rect x="45.00" y="361.18" width="12.00" height="15.72" fill="#3bc992"/>
<rect x="45.00" y="362.39" width="12.00" height="14.51" fill="#30c5a1"/>
<rect x="45.00" y="363.60" width="12.00" height="13.30" fill="#09b4d1"/>
<rect x="45.00" y="364.80" width="12.00" height="12.10" fill="#42ca8b"/>
<rect x="45.00" y="366.01" width="12.00" height="10.89" fill="#02b7ca"/>
<rect x="45.00" y="367.22" width="12.00" height="9.68" fill="#1fa6e2"/>
<rect x="45.00" y="368.43" width="12.00" height="8.47" fill="#2f82f9"/>
<rect x="45.00" y="369.64" width="12.00" height="7.26" fill="#4757f7"/>
<rect x="45.00" y="370.85" width="12.00" height="6.05" fill="#484ef1"/>
<rect x="45.00" y="372.06" width="12.00" height="4.84" fill="#4743e7"/>
<rect x="45.00" y="373.27" width="12.00" height="3.63" fill="#422fc1"/>
<rect x="45.00" y="374.48" width="12.00" height="2.42" fill="#463bdd"/>
<rect x="45.00" y="375.69" width="12.00" height="1.21" fill="#402bb7"/>
<rect x="57.00" y="300.70" width="11.00" height="76.20" fill="#4433cd"/>
<rect x="57.00" y="301.91" width="11.00" height="74.99" fill="#4434ce"/>
<rect x="57.00" y="303.12" width="11.00" height="73.78" fill="#4435d1"/>
<rect x="57.00" y="304.33" width="11.00" height="72.57" fill="#463bdd"/>
<rect x="57.00" y="305.54" width="11.00" height="71.36" fill="#4742e6"/>
<rect x="57.00" y="306.75" width="11.00" height="70.15" fill="#4850f3"/>
<rect x="57.00" y="307.96" width="11.00" height="68.94" fill="#4755f6"/>
<rect x="57.00" y="309.17" width="11.00" height="67.73" fill="#327cfc"/>
<rect x="57.00" y="310.38" width="11.00" height="66.52" fill="#4756f6"/>
<rect x="57.00" y="311.59" width="11.00" height="65.31" fill="#01b8c9"/>
<rect x="57.00" y="312.80" width="11.00" height="64.10" fill="#01b9c6"/>
<rect x="57.00" y="314.00" width="11.00" height="62.90" fill="#5fcd73"/>
<rect x="57.00" y="315.21" width="11.00" height="61.69" fill="#a8c73b"/>
<rect x="57.00" y="316.42" width="11.00" height="60.48" fill="#a7c73c"/>
<rect x="57.00" y="317.63" width="11.00" height="59.27" fill="#6ccd68"/>
<rect x="57.00" y="318.84" width="11.00" height="58.06" fill="#d6be28"/>
<rect x="57.00" y="320.05" width="11.00" height="56.85" fill="#aec637"/>
<rect x="57.00" y="321.26" width="11.00" height="55.64" fill="#41ca8d"/>
<rect x="57.00" y="322.47" width="11.00" height="54.43" fill="#fec03b"/>
<rect x="57.00" y="323.68" width="11.00" height="53.22" fill="#4fcc80"/>
<rect x="57.00" y="324.89" width="11.00" height="52.01" fill="#36c898"/>
<rect x="57.00" y="326.10" width="11.00" height="50.80" fill="#13b0d7"/>
<rect x="57.00" y="327.31" width="11.00" height="49.59" fill="#2b92ee"/>
<rect x="57.00" y="328.52" width="11.00" height="48.38" fill="#347afd"/>
<rect x="57.00" y="329.73" width="11.00" height="47.17" fill="#475cfa"/>
<rect x="57.00" y="330.94" width="11.00" height="45.96" fill="#463ee1"/>
<rect x="57.00" y="332.15" width="11.00" height="44.75" fill="#4536d3"/>
<rect x="57.00" y="333.36" width="11.00" height="43.54" fill="#4332ca"/>
<rect x="57.00" y="334.57" width="11.00" height="42.33" fill="#4433cd"/>
<rect x="57.00" y="335.78" width="11.00" height="41.12" fill="#4539d9"/>
<rect x="57.00" y="336.99" width="11.00" height="39.91" fill="#4332c9"/>
<rect x="57.00" y="338.20" width="11.00" height="38.70" fill="#4433cc"/>
<rect x="57.00" y="339.40" width="11.00" height="37.50" fill="#3e26a8"/>
<rect x="57.00" y="340.61" width="11.00" height="36.29" fill="#4537d6"/>
<rect x="57.00" y="341.82" width="11.00" height="35.08" fill="#4538d7"/>
<rect x="57.00" y="343.03" width="11.00" height="33.87" fill="#4538d7"/>
<rect x="57.00" y="344.24" width="11.00" height="32.66" fill="#4537d6"/>
<rect x="57.00" y="345.45" width="11.00" height="31.45" fill="#4740e3"/>
<rect x="57.00" y="346.66" width="11.00" height="30.24" fill="#475cfa"/>
<rect x="57.00" y="347.87" width="11.00" height="29.03" fill="#465ffb"/>
<rect x="57.00" y="349.08" width="11.00" height="27.82" fill="#2e87f7"/>
<rect x="57.00" y="350.29" width="11.00" height="26.61" fill="#0fbeba"/>
<rect x="57.00" y="351.50" width="11.00" height="25.40" fill="#2bc3a7"/>
<rect x="57.00" y="352.71" width="11.00" height="24.19" fill="#29c3aa"/>
<rect x="57.00" y="353.92" width="11.00" height="22.98" fill="#67cd6d"/>
<rect x="57.00" y="355.13" width="11.00" height="21.77" fill="#9bc945"/>
<rect x="57.00" y="356.34" width="11.00" height="20.56" fill="#aac73a"/>
<rect x="57.00" y="357.55" width="11.00" height="19.35" fill="#91ca4d"/>
<rect x="57.00" y="358.76" width="11.00" height="18.14" fill="#abc739"/>
<rect x="57.00" y="359.97" width="11.00" height="16.93" fill="#bbc430"/>
<rect x="57.00" y="361.18" width="11.00" height="15.72" fill="#49cb85"/>
<rect x="57.00" y="362.39" width="11.00" height="14.51" fill="#a7c73c"/>
<rect x="57.00" y="363.60" width="11.00" height="13.30" fill="#42ca8b"/>
<rect x="57.00" y="364.80" width="11.00" height="12.10" fill="#1caadf"/>
<rect x="57.00" y="366.01" width="11.00" height="10.89" fill="#2798ea"/>
<rect x="57.00" y="367.22" width="11.00" height="9.68" fill="#2e84f8"/>
<rect x="57.00" y="368.43" width="11.00" height="8.47" fill="#4755f6"/>
<rect x="57.00" y="369.64" width="11.00" height="7.26" fill="#4756f7"/>
<rect x="57.00" y="370.85" width="11.00" height="6.05" fill="#4743e7"/>
<rect x="57.00" y="372.06" width="11.00" height="4.84" fill="#473fe2"/>
<rect x="57.00" y="373.27" width="11.00" height="3.63" fill="#4535d2"/>
<rect x="57.00" y="374.48" width="11.00" height="2.42" fill="#4538d7"/>
<rect x="57.00" y="375.69" width="11.00" height="1.21" fill="#4435d1"/>
<rect x="68.00" y="300.70" width="12.00" height="76.20" fill="#4435d1"/>
<rect x="68.00" y="301.91" width="12.00" height="74.99" fill="#4536d4"/>
<rect x="68.00" y="303.12" width="12.00" height="73.78" fill="#4537d6"/>
<rect x="68.00" y="304.33" width="12.00" height="72.57" fill="#4741e5"/>
<rect x="68.00" y="305.54" width="12.00" height="71.36" fill="#4746ea"/>
<rect x="68.00" y="306.75" width="12.00" height="70.15" fill="#4850f2"/>
<rect x="68.00" y="307.96" width="12.00" height="68.94" fill="#416cfe"/>
<rect x="68.00" y="309.17" width="12.00" height="67.73" fill="#23a0e5"/>
<rect x="68.00" y="310.38" width="12.00" height="66.52" fill="#18bfb6"/>
<rect x="68.00" y="311.59" width="12.00" height="65.31" fill="#56cc7a"/>
<rect x="68.00" y="312.80" width="12.00" height="64.10" fill="#febe3c"/>
<rect x="68.00" y="314.00" width="12.00" height="62.90" fill="#bbc430"/>
<rect x="68.00" y="315.21" width="12.00" height="61.69" fill="#fec03b"/>
<rect x="68.00" y="316.42" width="12.00" height="60.48" fill="#fec636"/>
<rect x="68.00" y="317.63" width="12.00" height="59.27" fill="#fec636"/>
<rect x="68.00" y="318.84" width="12.00" height="58.06" fill="#febf3b"/>
<rect x="68.00" y="320.05" width="12.00" height="56.85" fill="#f5e427"/>
<rect x="68.00" y="321.26" width="12.00" height="55.64" fill="#fdcc32"/>
<rect x="68.00" y="322.47" width="12.00" height="54.43" fill="#ebba32"/>
<rect x="68.00" y="323.68" width="12.00" height="53.22" fill="#cdc028"/>
<rect x="68.00" y="324.89" width="12.00" height="52.01" fill="#a5c83d"/>
<rect x="68.00" y="326.10" width="12.00" height="50.80" fill="#acc738"/>
<rect x="68.00" y="327.31" width="12.00" height="49.59" fill="#01b8c8"/>
<rect x="68.00" y="328.52" width="12.00" height="48.38" fill="#10b2d5"/>
<rect x="68.00" y="329.73" width="12.00" height="47.17" fill="#2b91ef"/>
<rect x="68.00" y="330.94" width="12.00" height="45.96" fill="#327cfc"/>
<rect x="68.00" y="332.15" width="12.00" height="44.75" fill="#475af9"/>
<rect x="68.00" y="333.36" width="12.00" height="43.54" fill="#4368fe"/>
<rect x="68.00" y="334.57" width="12.00" height="42.33" fill="#463adc"/>
<rect x="68.00" y="335.78" width="12.00" height="41.12" fill="#4435d1"/>
<rect x="68.00" y="336.99" width="12.00" height="39.91" fill="#4434ce"/>
<rect x="68.00" y="338.20" width="12.00" height="38.70" fill="#4538d7"/>
<rect x="68.00" y="339.40" width="12.00" height="37.50" fill="#4230c4"/>
<rect x="68.00" y="340.61" width="12.00" height="36.29" fill="#4435d1"/>
<rect x="68.00" y="341.82" width="12.00" height="35.08" fill="#4539d8"/>
<rect x="68.00" y="343.03" width="12.00" height="33.87" fill="#4539d9"/>
<rect x="68.00" y="344.24" width="12.00" height="32.66" fill="#4848ec"/>
<rect x="68.00" y="345.45" width="12.00" height="31.45" fill="#4367fd"/>
<rect x="68.00" y="346.66" width="12.00" height="30.24" fill="#406dfe"/>
<rect x="68.00" y="347.87" width="12.00" height="29.03" fill="#249fe6"/>
<rect x="68.00" y="349.08" width="12.00" height="27.82" fill="#01b9c6"/>
<rect x="68.00" y="350.29" width="12.00" height="26.61" fill="#0eb2d4"/>
<rect x="68.00" y="351.50" width="12.00" height="25.40" fill="#aac73a"/>
<rect x="68.00" y="352.71" width="12.00" height="24.19" fill="#b7c532"/>
<rect x="68.00" y="353.92" width="12.00" height="22.98" fill="#f7f41c"/>
<rect x="68.00" y="355.13" width="12.00" height="21.77" fill="#f5e526"/>
<rect x="68.00" y="356.34" width="12.00" height="20.56" fill="#f0ba36"/>
<rect x="68.00" y="357.55" width="12.00" height="19.35" fill="#f8ba3d"/>
<rect x="68.00" y="358.76" width="12.00" height="18.14" fill="#fad42e"/>
<rect x="68.00" y="359.97" width="12.00" height="16.93" fill="#ecba32"/>
<rect x="68.00" y="361.18" width="12.00" height="15.72" fill="#ecba32"/>
<rect x="68.00" y="362.39" width="12.00" height="14.51" fill="#afc637"/>
<rect x="68.00" y="363.60" width="12.00" height="13.30" fill="#dbbd28"/>
<rect x="68.00" y="364.80" width="12.00" height="12.10" fill="#48cb86"/>
<rect x="68.00" y="366.01" width="12.00" height="10.89" fill="#51cc7f"/>
<rect x="68.00" y="367.22" width="12.00" height="9.68" fill="#22a1e4"/>
<rect x="68.00" y="368.43" width="12.00" height="8.47" fill="#2798ea"/>
<rect x="68.00" y="369.64" width="12.00" height="7.26" fill="#3f6dfe"/>
<rect x="68.00" y="370.85" width="12.00" height="6.05" fill="#465ffb"/>
<rect x="68.00" y="372.06" width="12.00" height="4.84" fill="#463adb"/>
<rect x="68.00" y="373.27" width="12.00" height="3.63" fill="#4332c9"/>
<rect x="68.00" y="374.48" width="12.00" height="2.42" fill="#4535d2"/>
<rect x="68.00" y="375.69" width="12.00" height="1.21" fill="#4331c8"/>
<rect x="80.00" y="300.70" width="12.00" height="76.20" fill="#463de0"/>
<rect x="80.00" y="301.91" width="12.00" height="74.99" fill="#463ada"/>
<rect x="80.00" y="303.12" width="12.00" height="73.78" fill="#4745e9"/>
<rect x="80.00" y="304.33" width="12.00" height="72.57" fill="#4538d8"/>
<rect x="80.00" y="305.54" width="12.00" height="71.36" fill="#475af9"/>
<rect x="80.00" y="306.75" width="12.00" height="70.15" fill="#2e87f7"/>
<rect x="80.00" y="307.96" width="12.00" height="68.94" fill="#03b6cc"/>
<rect x="80.00" y="309.17" width="12.00" height="67.73" fill="#04b6cd"/>
<rect x="80.00" y="310.38" width="12.00" height="66.52" fill="#6dcd67"/>
<rect x="80.00" y="311.59" width="12.00" height="65.31" fill="#a1c840"/>
<rect x="80.00" y="312.80" width="12.00" height="64.10" fill="#c9c129"/>
<rect x="80.00" y="314.00" width="12.00" height="62.90" fill="#fdbd3d"/>
<rect x="80.00" y="315.21" width="12.00" height="61.69" fill="#f6e128"/>
<rect x="80.00" y="316.42" width="12.00" height="60.48" fill="#fec934"/>
<rect x="80.00" y="317.63" width="12.00" height="59.27" fill="#f5e725"/>
<rect x="80.00" y="318.84" width="12.00" height="58.06" fill="#fbd32e"/>
<rect x="80.00" y="320.05" width="12.00" height="56.85" fill="#f5e526"/>
<rect x="80.00" y="321.26" width="12.00" height="55.64" fill="#f9fb15"/>
<rect x="80.00" y="322.47" width="12.00" height="54.43" fill="#f5ee21"/>
<rect x="80.00" y="323.68" width="12.00" height="53.22" fill="#fec636"/>
<rect x="80.00" y="324.89" width="12.00" height="52.01" fill="#fad42e"/>
<rect x="80.00" y="326.10" width="12.00" height="50.80" fill="#d8be28"/>
<rect x="80.00" y="327.31" width="12.00" height="49.59" fill="#bec32e"/>
<rect x="80.00" y="328.52" width="12.00" height="48.38" fill="#5ccc76"/>
<rect x="80.00" y="329.73" width="12.00" height="47.17" fill="#13b0d7"/>
<rect x="80.00" y="330.94" width="12.00" height="45.96" fill="#2c8ff1"/>
<rect x="80.00" y="332.15" width="12.00" height="44.75" fill="#475af9"/>
<rect x="80.00" y="333.36" width="12.00" height="43.54" fill="#4741e5"/>
<rect x="80.00" y="334.57" width="12.00" height="42.33" fill="#463cde"/>
<rect x="80.00" y="335.78" width="12.00" height="41.12" fill="#4332ca"/>
<rect x="80.00" y="336.99" width="12.00" height="39.91" fill="#463cde"/>
<rect x="80.00" y="338.20" width="12.00" height="38.70" fill="#4435d0"/>
<rect x="80.00" y="339.40" width="12.00" height="37.50" fill="#4434cf"/>
<rect x="80.00" y="340.61" width="12.00" height="36.29" fill="#463ee1"/>
<rect x="80.00" y="341.82" width="12.00" height="35.08" fill="#473fe2"/>
<rect x="80.00" y="343.03" width="12.00" height="33.87" fill="#4536d2"/>
<rect x="80.00" y="344.24" width="12.00" height="32.66" fill="#465efb"/>
<rect x="80.00" y="345.45" width="12.00" height="31.45" fill="#2d88f6"/>
<rect x="80.00" y="346.66" width="12.00" height="30.24" fill="#01b8ca"/>
<rect x="80.00" y="347.87" width="12.00" height="29.03" fill="#06b5cf"/>
<rect x="80.00" y="349.08" width="12.00" height="27.82" fill="#46cb88"/>
<rect x="80.00" y="350.29" width="12.00" height="26.61" fill="#bec32e"/>
<rect x="80.00" y="351.50" width="12.00" height="25.40" fill="#f6e128"/>
<rect x="80.00" y="352.71" width="12.00" height="24.19" fill="#f5ec22"/>
<rect x="80.00" y="353.92" width="12.00" height="22.98" fill="#fec338"/>
<rect x="80.00" y="355.13" width="12.00" height="21.77" fill="#f6de29"/>
<rect x="80.00" y="356.34" width="12.00" height="20.56" fill="#f6df29"/>
<rect x="80.00" y="357.55" width="12.00" height="19.35" fill="#f9fb15"/>
<rect x="80.00" y="358.76" width="12.00" height="18.14" fill="#e8bb2f"/>
<rect x="80.00" y="359.97" width="12.00" height="16.93" fill="#f5ea24"/>
<rect x="80.00" y="361.18" width="12.00" height="15.72" fill="#f8d92c"/>
<rect x="80.00" y="362.39" width="12.00" height="14.51" fill="#f8f719"/>
<rect x="80.00" y="363.60" width="12.00" height="13.30" fill="#fabb3d"/>
<rect x="80.00" y="364.80" width="12.00" height="12.10" fill="#fdce31"/>
<rect x="80.00" y="366.01" width="12.00" height="10.89" fill="#b1c635"/>
<rect x="80.00" y="367.22" width="12.00" height="9.68" fill="#b7c532"/>
<rect x="80.00" y="368.43" width="12.00" height="8.47" fill="#13b1d7"/>
<rect x="80.00" y="369.64" width="12.00" height="7.26" fill="#249fe5"/>
<rect x="80.00" y="370.85" width="12.00" height="6.05" fill="#3b73fe"/>
<rect x="80.00" y="372.06" width="12.00" height="4.84" fill="#4758f8"/>
<rect x="80.00" y="373.27" width="12.00" height="3.63" fill="#4745e9"/>
<rect x="80.00" y="374.48" width="12.00" height="2.42" fill="#4744e8"/>
<rect x="80.00" y="375.69" width="12.00" height="1.21" fill="#463adc"/>
<rect x="92.00" y="300.70" width="11.00" height="76.20" fill="#484cf0"/>
<rect x="92.00" y="301.91" width="11.00" height="74.99" fill="#4741e5"/>
<rect x="92.00" y="303.12" width="11.00" height="73.78" fill="#473fe2"/>
<rect x="92.00" y="304.33" width="11.00" height="72.57" fill="#465efb"/>
<rect x="92.00" y="305.54" width="11.00" height="71.36" fill="#3876fe"/>
<rect x="92.00" y="306.75" width="11.00" height="70.15" fill="#17aeda"/>
<rect x="92.00" y="307.96" width="11.00" height="68.94" fill="#2dc4a6"/>
<rect x="92.00" y="309.17" width="11.00" height="67.73" fill="#d7be28"/>
<rect x="92.00" y="310.38" width="11.00" height="66.52" fill="#c5c22a"/>
<rect x="92.00" y="311.59" width="11.00" height="65.31" fill="#fec636"/>
<rect x="92.00" y="312.80" width="11.00" height="64.10" fill="#f5ec22"/>
<rect x="92.00" y="314.00" width="11.00" height="62.90" fill="#f5ee21"/>
<rect x="92.00" y="315.21" width="11.00" height="61.69" fill="#f5ed22"/>
<rect x="92.00" y="316.42" width="11.00" height="60.48" fill="#f9fb15"/>
<rect x="92.00" y="317.63" width="11.00" height="59.27" fill="#f7f41c"/>
<rect x="92.00" y="318.84" width="11.00" height="58.06" fill="#f6f31d"/>
<rect x="92.00" y="320.05" width="11.00" height="56.85" fill="#f9fb15"/>
<rect x="92.00" y="321.26" width="11.00" height="55.64" fill="#f6f020"/>
<rect x="92.00" y="322.47" width="11.00" height="54.43" fill="#f9f916"/>
<rect x="92.00" y="323.68" width="11.00" height="53.22" fill="#edba33"/>
<rect x="92.00" y="324.89" width="11.00" height="52.01" fill="#fdcd32"/>
<rect x="92.00" y="326.10" width="11.00" height="50.80" fill="#fdce31"/>
<rect x="92.00" y="327.31" width="11.00" height="49.59" fill="#f6ba3b"/>
<rect x="92.00" y="328.52" width="11.00" height="48.38" fill="#b9c430"/>
<rect x="92.00" y="329.73" width="11.00" height="47.17" fill="#3dc990"/>
<rect x="92.00" y="330.94" width="11.00" height="45.96" fill="#04bbc2"/>
<rect x="92.00" y="332.15" width="11.00" height="44.75" fill="#19acdc"/>
<rect x="92.00" y="333.36" width="11.00" height="43.54" fill="#317dfc"/>
<rect x="92.00" y="334.57" width="11.00" height="42.33" fill="#4660fb"/>
<rect x="92.00" y="335.78" width="11.00" height="41.12" fill="#4742e6"/>
<rect x="92.00" y="336.99" width="11.00" height="39.91" fill="#4740e4"/>
<rect x="92.00" y="338.20" width="11.00" height="38.70" fill="#463de0"/>
<rect x="92.00" y="339.40" width="11.00" height="37.50" fill="#4639da"/>
<rect x="92.00" y="340.61" width="11.00" height="36.29" fill="#4747eb"/>
<rect x="92.00" y="341.82" width="11.00" height="35.08" fill="#4740e4"/>
<rect x="92.00" y="343.03" width="11.00" height="33.87" fill="#484cf0"/>
<rect x="92.00" y="344.24" width="11.00" height="32.66" fill="#317efb"/>
<rect x="92.00" y="345.45" width="11.00" height="31.45" fill="#2d8af5"/>
<rect x="92.00" y="346.66" width="11.00" height="30.24" fill="#68cd6c"/>
<rect x="92.00" y="347.87" width="11.00" height="29.03" fill="#6fcd66"/>
<rect x="92.00" y="349.08" width="11.00" height="27.82" fill="#e8bb2f"/>
<rect x="92.00" y="350.29" width="11.00" height="26.61" fill="#fcd130"/>
<rect x="92.00" y="351.50" width="11.00" height="25.40" fill="#fec239"/>
<rect x="92.00" y="352.71" width="11.00" height="24.19" fill="#f6ef20"/>
<rect x="92.00" y="353.92" width="11.00" height="22.98" fill="#f6f11f"/>
<rect x="92.00" y="355.13" width="11.00" height="21.77" fill="#f9fb15"/>
<rect x="92.00" y="356.34" width="11.00" height="20.56" fill="#f5eb23"/>
<rect x="92.00" y="357.55" width="11.00" height="19.35" fill="#f9fb15"/>
<rect x="92.00" y="358.76" width="11.00" height="18.14" fill="#f9fb15"/>
<rect x="92.00" y="359.97" width="11.00" height="16.93" fill="#f5e725"/>
<rect x="92.00" y="361.18" width="11.00" height="15.72" fill="#f9fb15"/>
<rect x="92.00" y="362.39" width="11.00" height="14.51" fill="#f8f818"/>
<rect x="92.00" y="363.60" width="11.00" height="13.30" fill="#f5e227"/>
<rect x="92.00" y="364.80" width="11.00" height="12.10" fill="#fdce31"/>
<rect x="92.00" y="366.01" width="11.00" height="10.89" fill="#fec239"/>
<rect x="92.00" y="367.22" width="11.00" height="9.68" fill="#b4c533"/>
<rect x="92.00" y="368.43" width="11.00" height="8.47" fill="#b2c635"/>
<rect x="92.00" y="369.64" width="11.00" height="7.26" fill="#80cc59"/>
<rect x="92.00" y="370.85" width="11.00" height="6.05" fill="#249fe6"/>
<rect x="92.00" y="372.06" width="11.00" height="4.84" fill="#2d8cf3"/>
<rect x="92.00" y="373.27" width="11.00" height="3.63" fill="#465dfb"/>
<rect x="92.00" y="374.48" width="11.00" height="2.42" fill="#475dfa"/>
<rect x="92.00" y="375.69" width="11.00" height="1.21" fill="#4745e9"/>
<rect x="103.00" y="300.70" width="12.00" height="76.20" fill="#463bdd"/>
<rect x="103.00" y="301.91" width="12.00" height="74.99" fill="#4537d6"/>
<rect x="103.00" y="303.12" width="12.00" height="73.78" fill="#4848ec"/>
<rect x="103.00" y="304.33" width="12.00" height="72.57" fill="#4536d3"/>
<rect x="103.00" y="305.54" width="12.00" height="71.36" fill="#426afe"/>
<rect x="103.00" y="306.75" width="12.00" height="70.15" fill="#2f81fa"/>
<rect x="103.00" y="307.96" width="12.00" height="68.94" fill="#1da8e0"/>
<rect x="103.00" y="309.17" width="12.00" height="67.73" fill="#1bc0b4"/>
<rect x="103.00" y="310.38" width="12.00" height="66.52" fill="#87cb54"/>
<rect x="103.00" y="311.59" width="12.00" height="65.31" fill="#e0bc2a"/>
<rect x="103.00" y="312.80" width="12.00" height="64.10" fill="#fec736"/>
<rect x="103.00" y="314.00" width="12.00" height="62.90" fill="#f9d72c"/>
<rect x="103.00" y="315.21" width="12.00" height="61.69" fill="#f7dc2a"/>
<rect x="103.00" y="316.42" width="12.00" height="60.48" fill="#f8da2b"/>
<rect x="103.00" y="317.63" width="12.00" height="59.27" fill="#f5ed21"/>
<rect x="103.00" y="318.84" width="12.00" height="58.06" fill="#f9fb15"/>
<rect x="103.00" y="320.05" width="12.00" height="56.85" fill="#f9fb15"/>
<rect x="103.00" y="321.26" width="12.00" height="55.64" fill="#f5ee21"/>
<rect x="103.00" y="322.47" width="12.00" height="54.43" fill="#f8d92b"/>
<rect x="103.00" y="323.68" width="12.00" height="53.22" fill="#f7dc2a"/>
<rect x="103.00" y="324.89" width="12.00" height="52.01" fill="#f5e128"/>
<rect x="103.00" y="326.10" width="12.00" height="50.80" fill="#cec028"/>
<rect x="103.00" y="327.31" width="12.00" height="49.59" fill="#6fcd66"/>
<rect x="103.00" y="328.52" width="12.00" height="48.38" fill="#52cc7e"/>
<rect x="103.00" y="329.73" width="12.00" height="47.17" fill="#04b6cd"/>
<rect x="103.00" y="330.94" width="12.00" height="45.96" fill="#269be8"/>
<rect x="103.00" y="332.15" width="12.00" height="44.75" fill="#3776fe"/>
<rect x="103.00" y="333.36" width="12.00" height="43.54" fill="#484df1"/>
<rect x="103.00" y="334.57" width="12.00" height="42.33" fill="#484cf0"/>
<rect x="103.00" y="335.78" width="12.00" height="41.12" fill="#463ee0"/>
<rect x="103.00" y="336.99" width="12.00" height="39.91" fill="#4435d1"/>
<rect x="103.00" y="338.20" width="12.00" height="38.70" fill="#4433cc"/>
<rect x="103.00" y="339.40" width="12.00" height="37.50" fill="#4538d8"/>
<rect x="103.00" y="340.61" width="12.00" height="36.29" fill="#463cdf"/>
<rect x="103.00" y="341.82" width="12.00" height="35.08" fill="#4742e6"/>
<rect x="103.00" y="343.03" width="12.00" height="33.87" fill="#4746ea"/>
<rect x="103.00" y="344.24" width="12.00" height="32.66" fill="#484ff2"/>
<rect x="103.00" y="345.45" width="12.00" height="31.45" fill="#327cfc"/>
<rect x="103.00" y="346.66" width="12.00" height="30.24" fill="#249ee6"/>
<rect x="103.00" y="347.87" width="12.00" height="29.03" fill="#0cbdbc"/>
<rect x="103.00" y="349.08" width="12.00" height="27.82" fill="#4bcb83"/>
<rect x="103.00" y="350.29" width="12.00" height="26.61" fill="#f7ba3c"/>
<rect x="103.00" y="351.50" width="12.00" height="25.40" fill="#f9d82c"/>
<rect x="103.00" y="352.71" width="12.00" height="24.19" fill="#f9d72d"/>
<rect x="103.00" y="353.92" width="12.00" height="22.98" fill="#f5e626"/>
<rect x="103.00" y="355.13" width="12.00" height="21.77" fill="#f5e427"/>
<rect x="103.00" y="356.34" width="12.00" height="20.56" fill="#f7dd2a"/>
<rect x="103.00" y="357.55" width="12.00" height="19.35" fill="#f5ea24"/>
<rect x="103.00" y="358.76" width="12.00" height="18.14" fill="#f5ed22"/>
<rect x="103.00" y="359.97" width="12.00" height="16.93" fill="#f5ed22"/>
<rect x="103.00" y="361.18" width="12.00" height="15.72" fill="#f5e427"/>
<rect x="103.00" y="362.39" width="12.00" height="14.51" fill="#f6f020"/>
<rect x="103.00" y="363.60" width="12.00" height="13.30" fill="#f1ba37"/>
<rect x="103.00" y="364.80" width="12.00" height="12.10" fill="#93ca4b"/>
<rect x="103.00" y="366.01" width="12.00" height="10.89" fill="#97ca47"/>
<rect x="103.00" y="367.22" width="12.00" height="9.68" fill="#37c897"/>
<rect x="103.00" y="368.43" width="12.00" height="8.47" fill="#0cb3d3"/>
<rect x="103.00" y="369.64" width="12.00" height="7.26" fill="#16aeda"/>
<rect x="103.00" y="370.85" width="12.00" height="6.05" fill="#337bfd"/>
<rect x="103.00" y="372.06" width="12.00" height="4.84" fill="#4755f6"/>
<rect x="103.00" y="373.27" width="12.00" height="3.63" fill="#4745e9"/>
<rect x="103.00" y="374.48" width="12.00" height="2.42" fill="#4740e3"/>
<rect x="103.00" y="375.69" width="12.00" height="1.21" fill="#4740e4"/>
<rect x="115.00" y="300.70" width="12.00" height="76.20" fill="#4538d8"/>
<rect x="115.00" y="301.91" width="12.00" height="74.99" fill="#422fc0"/>
<rect x="115.00" y="303.12" width="12.00" height="73.78" fill="#4435d1"/>
<rect x="115.00" y="304.33" width="12.00" height="72.57" fill="#4740e4"/>
<rect x="115.00" y="305.54" width="12.00" height="71.36" fill="#463cde"/>
<rect x="115.00" y="306.75" width="12.00" height="70.15" fill="#4758f8"/>
<rect x="115.00" y="307.96" width="12.00" height="68.94" fill="#3f6efe"/>
<rect x="115.00" y="309.17" width="12.00" height="67.73" fill="#1ea7e1"/>
<rect x="115.00" y="310.38" width="12.00" height="66.52" fill="#259be8"/>
<rect x="115.00" y="311.59" width="12.00" height="65.31" fill="#52cc7e"/>
<rect x="115.00" y="312.80" width="12.00" height="64.10" fill="#41ca8d"/>
<rect x="115.00" y="314.00" width="12.00" height="62.90" fill="#d6be28"/>
<rect x="115.00" y="315.21" width="12.00" height="61.69" fill="#fec437"/>
<rect x="115.00" y="316.42" width="12.00" height="60.48" fill="#febf3c"/>
<rect x="115.00" y="317.63" width="12.00" height="59.27" fill="#f2ba38"/>
<rect x="115.00" y="318.84" width="12.00" height="58.06" fill="#e3bb2c"/>
<rect x="115.00" y="320.05" width="12.00" height="56.85" fill="#fad52e"/>
<rect x="115.00" y="321.26" width="12.00" height="55.64" fill="#fec834"/>
<rect x="115.00" y="322.47" width="12.00" height="54.43" fill="#d2bf27"/>
<rect x="115.00" y="323.68" width="12.00" height="53.22" fill="#c3c22b"/>
<rect x="115.00" y="324.89" width="12.00" height="52.01" fill="#bbc430"/>
<rect x="115.00" y="326.10" width="12.00" height="50.80" fill="#4ecc81"/>
<rect x="115.00" y="327.31" width="12.00" height="49.59" fill="#1dc0b3"/>
<rect x="115.00" y="328.52" width="12.00" height="48.38" fill="#1fa6e1"/>
<rect x="115.00" y="329.73" width="12.00" height="47.17" fill="#2d88f6"/>
<rect x="115.00" y="330.94" width="12.00" height="45.96" fill="#3579fd"/>
<rect x="115.00" y="332.15" width="12.00" height="44.75" fill="#4660fb"/>
<rect x="115.00" y="333.36" width="12.00" height="43.54" fill="#422fc1"/>
<rect x="115.00" y="334.57" width="12.00" height="42.33" fill="#4536d3"/>
<rect x="115.00" y="335.78" width="12.00" height="41.12" fill="#4535d2"/>
<rect x="115.00" y="336.99" width="12.00" height="39.91" fill="#4743e7"/>
<rect x="115.00" y="338.20" width="12.00" height="38.70" fill="#4741e6"/>
<rect x="115.00" y="339.40" width="12.00" height="37.50" fill="#4539d9"/>
<rect x="115.00" y="340.61" width="12.00" height="36.29" fill="#463ddf"/>
<rect x="115.00" y="341.82" width="12.00" height="35.08" fill="#4332ca"/>
<rect x="115.00" y="343.03" width="12.00" height="33.87" fill="#463bdc"/>
<rect x="115.00" y="344.24" width="12.00" height="32.66" fill="#4851f4"/>
<rect x="115.00" y="345.45" width="12.00" height="31.45" fill="#484ef1"/>
<rect x="115.00" y="346.66" width="12.00" height="30.24" fill="#406cfe"/>
<rect x="115.00" y="347.87" width="12.00" height="29.03" fill="#2f80fa"/>
<rect x="115.00" y="349.08" width="12.00" height="27.82" fill="#06b5cf"/>
<rect x="115.00" y="350.29" width="12.00" height="26.61" fill="#2fc5a3"/>
<rect x="115.00" y="351.50" width="12.00" height="25.40" fill="#7bcc5d"/>
<rect x="115.00" y="352.71" width="12.00" height="24.19" fill="#e2bc2b"/>
<rect x="115.00" y="353.92" width="12.00" height="22.98" fill="#d0bf27"/>
<rect x="115.00" y="355.13" width="12.00" height="21.77" fill="#ecba32"/>
<rect x="115.00" y="356.34" width="12.00" height="20.56" fill="#fec338"/>
<rect x="115.00" y="357.55" width="12.00" height="19.35" fill="#f4ba39"/>
<rect x="115.00" y="358.76" width="12.00" height="18.14" fill="#f9d82c"/>
<rect x="115.00" y="359.97" width="12.00" height="16.93" fill="#e0bc2a"/>
<rect x="115.00" y="361.18" width="12.00" height="15.72" fill="#fabb3d"/>
<rect x="115.00" y="362.39" width="12.00" height="14.51" fill="#ccc028"/>
<rect x="115.00" y="363.60" width="12.00" height="13.30" fill="#c2c22c"/>
<rect x="115.00" y="364.80" width="12.00" height="12.10" fill="#44cb8a"/>
<rect x="115.00" y="366.01" width="12.00" height="10.89" fill="#1aabdd"/>
<rect x="115.00" y="367.22" width="12.00" height="9.68" fill="#259be8"/>
<rect x="115.00" y="368.43" width="12.00" height="8.47" fill="#2d8bf4"/>
<rect x="115.00" y="369.64" width="12.00" height="7.26" fill="#327cfc"/>
<rect x="115.00" y="370.85" width="12.00" height="6.05" fill="#484cef"/>
<rect x="115.00" y="372.06" width="12.00" height="4.84" fill="#484ff2"/>
<rect x="115.00" y="373.27" width="12.00" height="3.63" fill="#4742e6"/>
<rect x="115.00" y="374.48" width="12.00" height="2.42" fill="#4536d4"/>
<rect x="115.00" y="375.69" width="12.00" height="1.21" fill="#4538d7"/>
<rect x="127.00" y="300.70" width="12.00" height="76.20" fill="#422fc2"/>
<rect x="127.00" y="301.91" width="12.00" height="74.99" fill="#4639da"/>
<rect x="127.00" y="303.12" width="12.00" height="73.78" fill="#4741e4"/>
<rect x="127.00" y="304.33" width="12.00" height="72.57" fill="#4747eb"/>
<rect x="127.00" y="305.54" width="12.00" height="71.36" fill="#4854f5"/>
<rect x="127.00" y="306.75" width="12.00" height="70.15" fill="#4561fc"/>
<rect x="127.00" y="307.96" width="12.00" height="68.94" fill="#3d71ff"/>
<rect x="127.00" y="309.17" width="12.00" height="67.73" fill="#3875fe"/>
<rect x="127.00" y="310.38" width="12.00" height="66.52" fill="#2d89f5"/>
<rect x="127.00" y="311.59" width="12.00" height="65.31" fill="#0bb3d2"/>
<rect x="127.00" y="312.80" width="12.00" height="64.10" fill="#16bfb7"/>
<rect x="127.00" y="314.00" width="12.00" height="62.90" fill="#4fcc80"/>
<rect x="127.00" y="315.21" width="12.00" height="61.69" fill="#6dcd67"/>
<rect x="127.00" y="316.42" width="12.00" height="60.48" fill="#62cd71"/>
<rect x="127.00" y="317.63" width="12.00" height="59.27" fill="#cac129"/>
<rect x="127.00" y="318.84" width="12.00" height="58.06" fill="#bec32e"/>
<rect x="127.00" y="320.05" width="12.00" height="56.85" fill="#c2c22c"/>
<rect x="127.00" y="321.26" width="12.00" height="55.64" fill="#84cc56"/>
<rect x="127.00" y="322.47" width="12.00" height="54.43" fill="#64cd6f"/>
<rect x="127.00" y="323.68" width="12.00" height="53.22" fill="#4ccb83"/>
<rect x="127.00" y="324.89" width="12.00" height="52.01" fill="#2fc5a2"/>
<rect x="127.00" y="326.10" width="12.00" height="50.80" fill="#1fa5e2"/>
<rect x="127.00" y="327.31" width="12.00" height="49.59" fill="#1caadf"/>
<rect x="127.00" y="328.52" width="12.00" height="48.38" fill="#2d88f6"/>
<rect x="127.00" y="329.73" width="12.00" height="47.17" fill="#406cfe"/>
<rect x="127.00" y="330.94" width="12.00" height="45.96" fill="#4562fc"/>
<rect x="127.00" y="332.15" width="12.00" height="44.75" fill="#4755f6"/>
<rect x="127.00" y="333.36" width="12.00" height="43.54" fill="#484bef"/>
<rect x="127.00" y="334.57" width="12.00" height="42.33" fill="#4537d6"/>
<rect x="127.00" y="335.78" width="12.00" height="41.12" fill="#473fe2"/>
<rect x="127.00" y="336.99" width="12.00" height="39.91" fill="#463ee1"/>
<rect x="127.00" y="338.20" width="12.00" height="38.70" fill="#4230c3"/>
<rect x="127.00" y="339.40" width="12.00" height="37.50" fill="#4537d5"/>
<rect x="127.00" y="340.61" width="12.00" height="36.29" fill="#4537d6"/>
<rect x="127.00" y="341.82" width="12.00" height="35.08" fill="#463bdd"/>
<rect x="127.00" y="343.03" width="12.00" height="33.87" fill="#463ddf"/>
<rect x="127.00" y="344.24" width="12.00" height="32.66" fill="#4849ed"/>
<rect x="127.00" y="345.45" width="12.00" height="31.45" fill="#4562fc"/>
<rect x="127.00" y="346.66" width="12.00" height="30.24" fill="#3e6fff"/>
<rect x="127.00" y="347.87" width="12.00" height="29.03" fill="#259be8"/>
<rect x="127.00" y="349.08" width="12.00" height="27.82" fill="#3e6fff"/>
<rect x="127.00" y="350.29" width="12.00" height="26.61" fill="#21a3e3"/>
<rect x="127.00" y="351.50" width="12.00" height="25.40" fill="#03b7cc"/>
<rect x="127.00" y="352.71" width="12.00" height="24.19" fill="#6bcd69"/>
<rect x="127.00" y="353.92" width="12.00" height="22.98" fill="#68cd6b"/>
<rect x="127.00" y="355.13" width="12.00" height="21.77" fill="#3ac993"/>
<rect x="127.00" y="356.34" width="12.00" height="20.56" fill="#d2bf27"/>
<rect x="127.00" y="357.55" width="12.00" height="19.35" fill="#cfc028"/>
<rect x="127.00" y="358.76" width="12.00" height="18.14" fill="#c9c129"/>
<rect x="127.00" y="359.97" width="12.00" height="16.93" fill="#bec32e"/>
<rect x="127.00" y="361.18" width="12.00" height="15.72" fill="#bbc42f"/>
<rect x="127.00" y="362.39" width="12.00" height="14.51" fill="#9dc943"/>
<rect x="127.00" y="363.60" width="12.00" height="13.30" fill="#18bfb6"/>
<rect x="127.00" y="364.80" width="12.00" height="12.10" fill="#24c1af"/>
<rect x="127.00" y="366.01" width="12.00" height="10.89" fill="#03b7cc"/>
<rect x="127.00" y="367.22" width="12.00" height="9.68" fill="#2b91ef"/>
<rect x="127.00" y="368.43" width="12.00" height="8.47" fill="#4464fd"/>
<rect x="127.00" y="369.64" width="12.00" height="7.26" fill="#4755f6"/>
<rect x="127.00" y="370.85" width="12.00" height="6.05" fill="#475bf9"/>
<rect x="127.00" y="372.06" width="12.00" height="4.84" fill="#484cef"/>
<rect x="127.00" y="373.27" width="12.00" height="3.63" fill="#4740e4"/>
<rect x="127.00" y="374.48" width="12.00" height="2.42" fill="#4434cf"/>
<rect x="127.00" y="375.69" width="12.00" height="1.21" fill="#4536d3"/>
<rect x="139.00" y="300.70" width="11.00" height="76.20" fill="#412dbd"/>
<rect x="139.00" y="301.91" width="11.00" height="74.99" fill="#4539d9"/>
<rect x="139.00" y="303.12" width="11.00" height="73.78" fill="#463bdc"/>
<rect x="139.00" y="304.33" width="11.00" height="72.57" fill="#463bdd"/>
<rect x="139.00" y="305.54" width="11.00" height="71.36" fill="#484ef1"/>
<rect x="139.00" y="306.75" width="11.00" height="70.15" fill="#4740e3"/>
<rect x="139.00" y="307.96" width="11.00" height="68.94" fill="#4369fe"/>
<rect x="139.00" y="309.17" width="11.00" height="67.73" fill="#3777fe"/>
<rect x="139.00" y="310.38" width="11.00" height="66.52" fill="#2c8ef1"/>
<rect x="139.00" y="311.59" width="11.00" height="65.31" fill="#259de7"/>
<rect x="139.00" y="312.80" width="11.00" height="64.10" fill="#02bac4"/>
<rect x="139.00" y="314.00" width="11.00" height="62.90" fill="#2d8df2"/>
<rect x="139.00" y="315.21" width="11.00" height="61.69" fill="#07b5cf"/>
<rect x="139.00" y="316.42" width="11.00" height="60.48" fill="#15afd8"/>
<rect x="139.00" y="317.63" width="11.00" height="59.27" fill="#0db3d3"/>
<rect x="139.00" y="318.84" width="11.00" height="58.06" fill="#14b0d8"/>
<rect x="139.00" y="320.05" width="11.00" height="56.85" fill="#259ce7"/>
<rect x="139.00" y="321.26" width="11.00" height="55.64" fill="#18addb"/>
<rect x="139.00" y="322.47" width="11.00" height="54.43" fill="#1abfb5"/>
<rect x="139.00" y="323.68" width="11.00" height="53.22" fill="#01b9c7"/>
<rect x="139.00" y="324.89" width="11.00" height="52.01" fill="#1aabdd"/>
<rect x="139.00" y="326.10" width="11.00" height="50.80" fill="#22a2e4"/>
<rect x="139.00" y="327.31" width="11.00" height="49.59" fill="#2896ec"/>
<rect x="139.00" y="328.52" width="11.00" height="48.38" fill="#2e86f7"/>
<rect x="139.00" y="329.73" width="11.00" height="47.17" fill="#406cfe"/>
<rect x="139.00" y="330.94" width="11.00" height="45.96" fill="#3579fd"/>
<rect x="139.00" y="332.15" width="11.00" height="44.75" fill="#484cf0"/>
<rect x="139.00" y="333.36" width="11.00" height="43.54" fill="#463adc"/>
<rect x="139.00" y="334.57" width="11.00" height="42.33" fill="#484aee"/>
<rect x="139.00" y="335.78" width="11.00" height="41.12" fill="#463de0"/>
<rect x="139.00" y="336.99" width="11.00" height="39.91" fill="#473fe3"/>
<rect x="139.00" y="338.20" width="11.00" height="38.70" fill="#4538d8"/>
<rect x="139.00" y="339.40" width="11.00" height="37.50" fill="#4332c9"/>
<rect x="139.00" y="340.61" width="11.00" height="36.29" fill="#4536d3"/>
<rect x="139.00" y="341.82" width="11.00" height="35.08" fill="#4747eb"/>
<rect x="139.00" y="343.03" width="11.00" height="33.87" fill="#4742e6"/>
<rect x="139.00" y="344.24" width="11.00" height="32.66" fill="#4853f5"/>
<rect x="139.00" y="345.45" width="11.00" height="31.45" fill="#484df0"/>
<rect x="139.00" y="346.66" width="11.00" height="30.24" fill="#4759f8"/>
<rect x="139.00" y="347.87" width="11.00" height="29.03" fill="#475bf9"/>
<rect x="139.00" y="349.08" width="11.00" height="27.82" fill="#337afd"/>
<rect x="139.00" y="350.29" width="11.00" height="26.61" fill="#2798ea"/>
<rect x="139.00" y="351.50" width="11.00" height="25.40" fill="#2d8bf4"/>
<rect x="139.00" y="352.71" width="11.00" height="24.19" fill="#249ee6"/>
<rect x="139.00" y="353.92" width="11.00" height="22.98" fill="#0fbeba"/>
<rect x="139.00" y="355.13" width="11.00" height="21.77" fill="#05b6ce"/>
<rect x="139.00" y="356.34" width="11.00" height="20.56" fill="#16aeda"/>
<rect x="139.00" y="357.55" width="11.00" height="19.35" fill="#1ea7e1"/>
<rect x="139.00" y="358.76" width="11.00" height="18.14" fill="#1da8e0"/>
<rect x="139.00" y="359.97" width="11.00" height="16.93" fill="#07b5cf"/>
<rect x="139.00" y="361.18" width="11.00" height="15.72" fill="#249ee6"/>
<rect x="139.00" y="362.39" width="11.00" height="14.51" fill="#11b1d6"/>
<rect x="139.00" y="363.60" width="11.00" height="13.30" fill="#02bac5"/>
<rect x="139.00" y="364.80" width="11.00" height="12.10" fill="#1da8e0"/>
<rect x="139.00" y="366.01" width="11.00" height="10.89" fill="#2e84f8"/>
<rect x="139.00" y="367.22" width="11.00" height="9.68" fill="#3678fe"/>
<rect x="139.00" y="368.43" width="11.00" height="8.47" fill="#4465fd"/>
<rect x="139.00" y="369.64" width="11.00" height="7.26" fill="#484ef1"/>
<rect x="139.00" y="370.85" width="11.00" height="6.05" fill="#484aed"/>
<rect x="139.00" y="372.06" width="11.00" height="4.84" fill="#463cde"/>
<rect x="139.00" y="373.27" width="11.00" height="3.63" fill="#4536d5"/>
<rect x="139.00" y="374.48" width="11.00" height="2.42" fill="#473fe3"/>
<rect x="139.00" y="375.69" width="11.00" height="1.21" fill="#4536d4"/>
<rect x="150.00" y="300.70" width="12.00" height="76.20" fill="#4433cc"/>
<rect x="150.00" y="301.91" width="12.00" height="74.99" fill="#4639d9"/>
<rect x="150.00" y="303.12" width="12.00" height="73.78" fill="#4537d5"/>
<rect x="150.00" y="304.33" width="12.00" height="72.57" fill="#463bdd"/>
<rect x="150.00" y="305.54" width="12.00" height="71.36" fill="#484bef"/>
<rect x="150.00" y="306.75" width="12.00" height="70.15" fill="#484df0"/>
<rect x="150.00" y="307.96" width="12.00" height="68.94" fill="#4757f7"/>
<rect x="150.00" y="309.17" width="12.00" height="67.73" fill="#4465fd"/>
<rect x="150.00" y="310.38" width="12.00" height="66.52" fill="#406cfe"/>
<rect x="150.00" y="311.59" width="12.00" height="65.31" fill="#307ffb"/>
<rect x="150.00" y="312.80" width="12.00" height="64.10" fill="#3579fd"/>
<rect x="150.00" y="314.00" width="12.00" height="62.90" fill="#2e84f8"/>
<rect x="150.00" y="315.21" width="12.00" height="61.69" fill="#2b91ef"/>
<rect x="150.00" y="316.42" width="12.00" height="60.48" fill="#2994ed"/>
<rect x="150.00" y="317.63" width="12.00" height="59.27" fill="#1aabdd"/>
<rect x="150.00" y="318.84" width="12.00" height="58.06" fill="#22a1e4"/>
<rect x="150.00" y="320.05" width="12.00" height="56.85" fill="#2c8ef1"/>
<rect x="150.00" y="321.26" width="12.00" height="55.64" fill="#259ce7"/>
<rect x="150.00" y="322.47" width="12.00" height="54.43" fill="#2e84f9"/>
<rect x="150.00" y="323.68" width="12.00" height="53.22" fill="#269ae9"/>
<rect x="150.00" y="324.89" width="12.00" height="52.01" fill="#2f81fa"/>
<rect x="150.00" y="326.10" width="12.00" height="50.80" fill="#3c72ff"/>
<rect x="150.00" y="327.31" width="12.00" height="49.59" fill="#3b72ff"/>
<rect x="150.00" y="328.52" width="12.00" height="48.38" fill="#4758f8"/>
<rect x="150.00" y="329.73" width="12.00" height="47.17" fill="#465dfb"/>
<rect x="150.00" y="330.94" width="12.00" height="45.96" fill="#4755f6"/>
<rect x="150.00" y="332.15" width="12.00" height="44.75" fill="#4746ea"/>
<rect x="150.00" y="333.36" width="12.00" height="43.54" fill="#4743e7"/>
<rect x="150.00" y="334.57" width="12.00" height="42.33" fill="#463bdc"/>
<rect x="150.00" y="335.78" width="12.00" height="41.12" fill="#463bdd"/>
<rect x="150.00" y="336.99" width="12.00" height="39.91" fill="#4741e4"/>
<rect x="150.00" y="338.20" width="12.00" height="38.70" fill="#4435d1"/>
<rect x="150.00" y="339.40" width="12.00" height="37.50" fill="#4435d1"/>
<rect x="150.00" y="340.61" width="12.00" height="36.29" fill="#4536d4"/>
<rect x="150.00" y="341.82" width="12.00" height="35.08" fill="#463adc"/>
<rect x="150.00" y="343.03" width="12.00" height="33.87" fill="#4332ca"/>
<rect x="150.00" y="344.24" width="12.00" height="32.66" fill="#4747eb"/>
<rect x="150.00" y="345.45" width="12.00" height="31.45" fill="#4747eb"/>
<rect x="150.00" y="346.66" width="12.00" height="30.24" fill="#484aee"/>
<rect x="150.00" y="347.87" width="12.00" height="29.03" fill="#4758f8"/>
<rect x="150.00" y="349.08" width="12.00" height="27.82" fill="#406cfe"/>
<rect x="150.00" y="350.29" width="12.00" height="26.61" fill="#2e87f7"/>
<rect x="150.00" y="351.50" width="12.00" height="25.40" fill="#2b91ef"/>
<rect x="150.00" y="352.71" width="12.00" height="24.19" fill="#2c90f0"/>
<rect x="150.00" y="353.92" width="12.00" height="22.98" fill="#3f6dfe"/>
<rect x="150.00" y="355.13" width="12.00" height="21.77" fill="#22a1e4"/>
<rect x="150.00" y="356.34" width="12.00" height="20.56" fill="#327cfc"/>
<rect x="150.00" y="357.55" width="12.00" height="19.35" fill="#1fa5e2"/>
<rect x="150.00" y="358.76" width="12.00" height="18.14" fill="#2896ec"/>
<rect x="150.00" y="359.97" width="12.00" height="16.93" fill="#259ce7"/>
<rect x="150.00" y="361.18" width="12.00" height="15.72" fill="#22a1e4"/>
<rect x="150.00" y="362.39" width="12.00" height="14.51" fill="#2797eb"/>
<rect x="150.00" y="363.60" width="12.00" height="13.30" fill="#2994ed"/>
<rect x="150.00" y="364.80" width="12.00" height="12.10" fill="#2e85f8"/>
<rect x="150.00" y="366.01" width="12.00" height="10.89" fill="#3f6eff"/>
<rect x="150.00" y="367.22" width="12.00" height="9.68" fill="#3e6fff"/>
<rect x="150.00" y="368.43" width="12.00" height="8.47" fill="#4757f7"/>
<rect x="150.00" y="369.64" width="12.00" height="7.26" fill="#4742e7"/>
<rect x="150.00" y="370.85" width="12.00" height="6.05" fill="#4747eb"/>
<rect x="150.00" y="372.06" width="12.00" height="4.84" fill="#463adb"/>
<rect x="150.00" y="373.27" width="12.00" height="3.63" fill="#4435d1"/>
<rect x="150.00" y="374.48" width="12.00" height="2.42" fill="#4741e4"/>
<rect x="150.00" y="375.69" width="12.00" height="1.21" fill="#4433cd"/>
<rect x="162.00" y="300.70" width="12.00" height="76.20" fill="#4741e6"/>
<rect x="162.00" y="301.91" width="12.00" height="74.99" fill="#463bdc"/>
<rect x="162.00" y="303.12" width="12.00" height="73.78" fill="#4537d6"/>
<rect x="162.00" y="304.33" width="12.00" height="72.57" fill="#4230c4"/>
<rect x="162.00" y="305.54" width="12.00" height="71.36" fill="#4435d0"/>
<rect x="162.00" y="306.75" width="12.00" height="70.15" fill="#4639d9"/>
<rect x="162.00" y="307.96" width="12.00" height="68.94" fill="#484df0"/>
<rect x="162.00" y="309.17" width="12.00" height="67.73" fill="#4746ea"/>
<rect x="162.00" y="310.38" width="12.00" height="66.52" fill="#484cef"/>
<rect x="162.00" y="311.59" width="12.00" height="65.31" fill="#4745e9"/>
<rect x="162.00" y="312.80" width="12.00" height="64.10" fill="#406dfe"/>
<rect x="162.00" y="314.00" width="12.00" height="62.90" fill="#4852f4"/>
<rect x="162.00" y="315.21" width="12.00" height="61.69" fill="#317efb"/>
<rect x="162.00" y="316.42" width="12.00" height="60.48" fill="#3777fe"/>
<rect x="162.00" y="317.63" width="12.00" height="59.27" fill="#327cfc"/>
<rect x="162.00" y="318.84" width="12.00" height="58.06" fill="#4661fc"/>
<rect x="162.00" y="320.05" width="12.00" height="56.85" fill="#3777fe"/>
<rect x="162.00" y="321.26" width="12.00" height="55.64" fill="#4564fd"/>
<rect x="162.00" y="322.47" width="12.00" height="54.43" fill="#4660fb"/>
<rect x="162.00" y="323.68" width="12.00" height="53.22" fill="#3974fe"/>
<rect x="162.00" y="324.89" width="12.00" height="52.01" fill="#4562fc"/>
<rect x="162.00" y="326.10" width="12.00" height="50.80" fill="#465efb"/>
<rect x="162.00" y="327.31" width="12.00" height="49.59" fill="#4853f5"/>
<rect x="162.00" y="328.52" width="12.00" height="48.38" fill="#484ff2"/>
<rect x="162.00" y="329.73" width="12.00" height="47.17" fill="#4740e3"/>
<rect x="162.00" y="330.94" width="12.00" height="45.96" fill="#4758f8"/>
<rect x="162.00" y="332.15" width="12.00" height="44.75" fill="#4331c7"/>
<rect x="162.00" y="333.36" width="12.00" height="43.54" fill="#4535d2"/>
<rect x="162.00" y="334.57" width="12.00" height="42.33" fill="#4741e5"/>
<rect x="162.00" y="335.78" width="12.00" height="41.12" fill="#4639da"/>
<rect x="162.00" y="336.99" width="12.00" height="39.91" fill="#4435d1"/>
<rect x="162.00" y="338.20" width="12.00" height="38.70" fill="#4331c7"/>
<rect x="162.00" y="339.40" width="12.00" height="37.50" fill="#4433cc"/>
<rect x="162.00" y="340.61" width="12.00" height="36.29" fill="#463bde"/>
<rect x="162.00" y="341.82" width="12.00" height="35.08" fill="#4538d8"/>
<rect x="162.00" y="343.03" width="12.00" height="33.87" fill="#463bdd"/>
<rect x="162.00" y="344.24" width="12.00" height="32.66" fill="#4639d9"/>
<rect x="162.00" y="345.45" width="12.00" height="31.45" fill="#4740e3"/>
<rect x="162.00" y="346.66" width="12.00" height="30.24" fill="#463de0"/>
<rect x="162.00" y="347.87" width="12.00" height="29.03" fill="#473ee1"/>
<rect x="162.00" y="349.08" width="12.00" height="27.82" fill="#484aed"/>
<rect x="162.00" y="350.29" width="12.00" height="26.61" fill="#4743e8"/>
<rect x="162.00" y="351.50" width="12.00" height="25.40" fill="#4850f3"/>
<rect x="162.00" y="352.71" width="12.00" height="24.19" fill="#416bfe"/>
<rect x="162.00" y="353.92" width="12.00" height="22.98" fill="#4755f6"/>
<rect x="162.00" y="355.13" width="12.00" height="21.77" fill="#2c8ff1"/>
<rect x="162.00" y="356.34" width="12.00" height="20.56" fill="#4269fe"/>
<rect x="162.00" y="357.55" width="12.00" height="19.35" fill="#317efb"/>
<rect x="162.00" y="358.76" width="12.00" height="18.14" fill="#4269fe"/>
<rect x="162.00" y="359.97" width="12.00" height="16.93" fill="#4756f7"/>
<rect x="162.00" y="361.18" width="12.00" height="15.72" fill="#465dfa"/>
<rect x="162.00" y="362.39" width="12.00" height="14.51" fill="#406cfe"/>
<rect x="162.00" y="363.60" width="12.00" height="13.30" fill="#317dfc"/>
<rect x="162.00" y="364.80" width="12.00" height="12.10" fill="#475af9"/>
<rect x="162.00" y="366.01" width="12.00" height="10.89" fill="#4756f7"/>
<rect x="162.00" y="367.22" width="12.00" height="9.68" fill="#4746ea"/>
<rect x="162.00" y="368.43" width="12.00" height="8.47" fill="#4848ec"/>
<rect x="162.00" y="369.64" width="12.00" height="7.26" fill="#463ee1"/>
<rect x="162.00" y="370.85" width="12.00" height="6.05" fill="#463ada"/>
<rect x="162.00" y="372.06" width="12.00" height="4.84" fill="#4740e4"/>
<rect x="162.00" y="373.27" width="12.00" height="3.63" fill="#463cdf"/>
<rect x="162.00" y="374.48" width="12.00" height="2.42" fill="#4536d3"/>
<rect x="162.00" y="375.69" width="12.00" height="1.21" fill="#463bdd"/>
<rect x="174.00" y="300.70" width="11.00" height="76.20" fill="#4434cf"/>
<rect x="174.00" y="301.91" width="11.00" height="74.99" fill="#4330c5"/>
<rect x="174.00" y="303.12" width="11.00" height="73.78" fill="#463cde"/>
<rect x="174.00" y="304.33" width="11.00" height="72.57" fill="#484aee"/>
<rect x="174.00" y="305.54" width="11.00" height="71.36" fill="#4435d0"/>
<rect x="174.00" y="306.75" width="11.00" height="70.15" fill="#4639d9"/>
<rect x="174.00" y="307.96" width="11.00" height="68.94" fill="#4849ed"/>
<rect x="174.00" y="309.17" width="11.00" height="67.73" fill="#4745e9"/>
<rect x="174.00" y="310.38" width="11.00" height="66.52" fill="#4854f5"/>
<rect x="174.00" y="311.59" width="11.00" height="65.31" fill="#484ef1"/>
<rect x="174.00" y="312.80" width="11.00" height="64.10" fill="#4853f5"/>
<rect x="174.00" y="314.00" width="11.00" height="62.90" fill="#475cfa"/>
<rect x="174.00" y="315.21" width="11.00" height="61.69" fill="#4562fc"/>
<rect x="174.00" y="316.42" width="11.00" height="60.48" fill="#4660fc"/>
<rect x="174.00" y="317.63" width="11.00" height="59.27" fill="#4563fd"/>
<rect x="174.00" y="318.84" width="11.00" height="58.06" fill="#4564fd"/>
<rect x="174.00" y="320.05" width="11.00" height="56.85" fill="#4758f8"/>
<rect x="174.00" y="321.26" width="11.00" height="55.64" fill="#4757f7"/>
<rect x="174.00" y="322.47" width="11.00" height="54.43" fill="#4759f9"/>
<rect x="174.00" y="323.68" width="11.00" height="53.22" fill="#4852f4"/>
<rect x="174.00" y="324.89" width="11.00" height="52.01" fill="#4660fc"/>
<rect x="174.00" y="326.10" width="11.00" height="50.80" fill="#4757f7"/>
<rect x="174.00" y="327.31" width="11.00" height="49.59" fill="#4742e6"/>
<rect x="174.00" y="328.52" width="11.00" height="48.38" fill="#463bdc"/>
<rect x="174.00" y="329.73" width="11.00" height="47.17" fill="#4743e7"/>
<rect x="174.00" y="330.94" width="11.00" height="45.96" fill="#4537d6"/>
<rect x="174.00" y="332.15" width="11.00" height="44.75" fill="#4536d4"/>
<rect x="174.00" y="333.36" width="11.00" height="43.54" fill="#473fe2"/>
<rect x="174.00" y="334.57" width="11.00" height="42.33" fill="#4639da"/>
<rect x="174.00" y="335.78" width="11.00" height="41.12" fill="#4537d6"/>
<rect x="174.00" y="336.99" width="11.00" height="39.91" fill="#463bdd"/>
<rect x="174.00" y="338.20" width="11.00" height="38.70" fill="#4537d5"/>
<rect x="174.00" y="339.40" width="11.00" height="37.50" fill="#463ee1"/>
<rect x="174.00" y="340.61" width="11.00" height="36.29" fill="#4538d7"/>
<rect x="174.00" y="341.82" width="11.00" height="35.08" fill="#4434cf"/>
<rect x="174.00" y="343.03" width="11.00" height="33.87" fill="#4331c6"/>
<rect x="174.00" y="344.24" width="11.00" height="32.66" fill="#473fe3"/>
<rect x="174.00" y="345.45" width="11.00" height="31.45" fill="#4435d1"/>
<rect x="174.00" y="346.66" width="11.00" height="30.24" fill="#4848ec"/>
<rect x="174.00" y="347.87" width="11.00" height="29.03" fill="#4743e7"/>
<rect x="174.00" y="349.08" width="11.00" height="27.82" fill="#484ef1"/>
<rect x="174.00" y="350.29" width="11.00" height="26.61" fill="#4854f5"/>
<rect x="174.00" y="351.50" width="11.00" height="25.40" fill="#4466fd"/>
<rect x="174.00" y="352.71" width="11.00" height="24.19" fill="#4756f6"/>
<rect x="174.00" y="353.92" width="11.00" height="22.98" fill="#4756f7"/>
<rect x="174.00" y="355.13" width="11.00" height="21.77" fill="#484bef"/>
<rect x="174.00" y="356.34" width="11.00" height="20.56" fill="#465efb"/>
<rect x="174.00" y="357.55" width="11.00" height="19.35" fill="#4465fd"/>
<rect x="174.00" y="358.76" width="11.00" height="18.14" fill="#4367fd"/>
<rect x="174.00" y="359.97" width="11.00" height="16.93" fill="#4742e6"/>
<rect x="174.00" y="361.18" width="11.00" height="15.72" fill="#475cfa"/>
<rect x="174.00" y="362.39" width="11.00" height="14.51" fill="#4561fc"/>
<rect x="174.00" y="363.60" width="11.00" height="13.30" fill="#4563fd"/>
<rect x="174.00" y="364.80" width="11.00" height="12.10" fill="#4851f3"/>
<rect x="174.00" y="366.01" width="11.00" height="10.89" fill="#4855f6"/>
<rect x="174.00" y="367.22" width="11.00" height="9.68" fill="#463cde"/>
<rect x="174.00" y="368.43" width="11.00" height="8.47" fill="#4848ec"/>
<rect x="174.00" y="369.64" width="11.00" height="7.26" fill="#4434ce"/>
<rect x="174.00" y="370.85" width="11.00" height="6.05" fill="#463ada"/>
<rect x="174.00" y="372.06" width="11.00" height="4.84" fill="#463ee1"/>
<rect x="174.00" y="373.27" width="11.00" height="3.63" fill="#4742e6"/>
<rect x="174.00" y="374.48" width="11.00" height="2.42" fill="#4537d5"/>
<rect x="174.00" y="375.69" width="11.00" height="1.21" fill="#4536d4"/>
<rect x="185.00" y="300.70" width="12.00" height="76.20" fill="#4331c8"/>
<rect x="185.00" y="301.91" width="12.00" height="74.99" fill="#422fc0"/>
<rect x="185.00" y="303.12" width="12.00" height="73.78" fill="#422fc1"/>
<rect x="185.00" y="304.33" width="12.00" height="72.57" fill="#422fc0"/>
<rect x="185.00" y="305.54" width="12.00" height="71.36" fill="#4434ce"/>
<rect x="185.00" y="306.75" width="12.00" height="70.15" fill="#4331c6"/>
<rect x="185.00" y="307.96" width="12.00" height="68.94" fill="#412dbb"/>
<rect x="185.00" y="309.17" width="12.00" height="67.73" fill="#4536d3"/>
<rect x="185.00" y="310.38" width="12.00" height="66.52" fill="#4536d3"/>
<rect x="185.00" y="311.59" width="12.00" height="65.31" fill="#4854f5"/>
<rect x="185.00" y="312.80" width="12.00" height="64.10" fill="#4741e5"/>
<rect x="185.00" y="314.00" width="12.00" height="62.90" fill="#473fe3"/>
<rect x="185.00" y="315.21" width="12.00" height="61.69" fill="#463ada"/>
<rect x="185.00" y="316.42" width="12.00" height="60.48" fill="#4747eb"/>
<rect x="185.00" y="317.63" width="12.00" height="59.27" fill="#463de0"/>
<rect x="185.00" y="318.84" width="12.00" height="58.06" fill="#4536d4"/>
<rect x="185.00" y="320.05" width="12.00" height="56.85" fill="#4537d5"/>
<rect x="185.00" y="321.26" width="12.00" height="55.64" fill="#4747eb"/>
<rect x="185.00" y="322.47" width="12.00" height="54.43" fill="#4538d7"/>
<rect x="185.00" y="323.68" width="12.00" height="53.22" fill="#463adb"/>
<rect x="185.00" y="324.89" width="12.00" height="52.01" fill="#4538d8"/>
<rect x="185.00" y="326.10" width="12.00" height="50.80" fill="#463ada"/>
<rect x="185.00" y="327.31" width="12.00" height="49.59" fill="#4639da"/>
<rect x="185.00" y="328.52" width="12.00" height="48.38" fill="#463adb"/>
<rect x="185.00" y="329.73" width="12.00" height="47.17" fill="#4537d6"/>
<rect x="185.00" y="330.94" width="12.00" height="45.96" fill="#4433cb"/>
<rect x="185.00" y="332.15" width="12.00" height="44.75" fill="#4434cf"/>
<rect x="185.00" y="333.36" width="12.00" height="43.54" fill="#463adb"/>
<rect x="185.00" y="334.57" width="12.00" height="42.33" fill="#4536d3"/>
<rect x="185.00" y="335.78" width="12.00" height="41.12" fill="#4434d0"/>
<rect x="185.00" y="336.99" width="12.00" height="39.91" fill="#4434ce"/>
<rect x="185.00" y="338.20" width="12.00" height="38.70" fill="#4331c8"/>
<rect x="185.00" y="339.40" width="12.00" height="37.50" fill="#463cde"/>
<rect x="185.00" y="340.61" width="12.00" height="36.29" fill="#422ec0"/>
<rect x="185.00" y="341.82" width="12.00" height="35.08" fill="#4434cf"/>
<rect x="185.00" y="343.03" width="12.00" height="33.87" fill="#463ee1"/>
<rect x="185.00" y="344.24" width="12.00" height="32.66" fill="#4434cf"/>
<rect x="185.00" y="345.45" width="12.00" height="31.45" fill="#4434d0"/>
<rect x="185.00" y="346.66" width="12.00" height="30.24" fill="#473fe2"/>
<rect x="185.00" y="347.87" width="12.00" height="29.03" fill="#422ebe"/>
<rect x="185.00" y="349.08" width="12.00" height="27.82" fill="#463bdd"/>
<rect x="185.00" y="350.29" width="12.00" height="26.61" fill="#4538d8"/>
<rect x="185.00" y="351.50" width="12.00" height="25.40" fill="#4433cc"/>
<rect x="185.00" y="352.71" width="12.00" height="24.19" fill="#4330c4"/>
<rect x="185.00" y="353.92" width="12.00" height="22.98" fill="#4536d3"/>
<rect x="185.00" y="355.13" width="12.00" height="21.77" fill="#4537d6"/>
<rect x="185.00" y="356.34" width="12.00" height="20.56" fill="#463bdc"/>
<rect x="185.00" y="357.55" width="12.00" height="19.35" fill="#463cdf"/>
<rect x="185.00" y="358.76" width="12.00" height="18.14" fill="#4434ce"/>
<rect x="185.00" y="359.97" width="12.00" height="16.93" fill="#4433cd"/>
<rect x="185.00" y="361.18" width="12.00" height="15.72" fill="#4537d5"/>
<rect x="185.00" y="362.39" width="12.00" height="14.51" fill="#4743e7"/>
<rect x="185.00" y="363.60" width="12.00" height="13.30" fill="#4740e4"/>
<rect x="185.00" y="364.80" width="12.00" height="12.10" fill="#4740e4"/>
<rect x="185.00" y="366.01" width="12.00" height="10.89" fill="#4537d5"/>
<rect x="185.00" y="367.22" width="12.00" height="9.68" fill="#473fe3"/>
<rect x="185.00" y="368.43" width="12.00" height="8.47" fill="#4639da"/>
<rect x="185.00" y="369.64" width="12.00" height="7.26" fill="#4433cd"/>
<rect x="185.00" y="370.85" width="12.00" height="6.05" fill="#4332ca"/>
<rect x="185.00" y="372.06" width="12.00" height="4.84" fill="#4435d1"/>
<rect x="185.00" y="373.27" width="12.00" height="3.63" fill="#422fc1"/>
<rect x="185.00" y="374.48" width="12.00" height="2.42" fill="#4331c7"/>
<rect x="185.00" y="375.69" width="12.00" height="1.21" fill="#412dbc"/>
</g>
<text class="tk" x="38.81" y="392.20" text-anchor="middle">0</text>
<text class="tk" x="97.38" y="392.20" text-anchor="middle">0.5</text>
<text class="tk" x="155.95" y="392.20" text-anchor="middle">1</text>
<text class="tk" x="29.80" y="305.55" text-anchor="end">0</text>
<text class="tk" x="29.80" y="329.75" text-anchor="end">2</text>
<text class="tk" x="29.80" y="353.94" text-anchor="end">4</text>
<text class="tk" x="29.80" y="378.13" text-anchor="end">6</text>
<path d="M39.06 376.90v-1.80M39.06 300.70v1.80M97.63 376.90v-1.80M97.63 300.70v1.80M156.20 376.90v-1.80M156.20 300.70v1.80M33.20 301.30h1.80M197.20 301.30h-1.80M33.20 325.50h1.80M197.20 325.50h-1.80M33.20 349.69h1.80M197.20 349.69h-1.80M33.20 373.88h1.80M197.20 373.88h-1.80" stroke="#303030" stroke-width="0.7" fill="none"/>
<rect x="33.20" y="300.70" width="164.00" height="76.20" fill="none" stroke="#303030" stroke-width="0.7"/>
<rect x="206.10" y="301.40" width="17.40" height="74.40" fill="url(#pg)" stroke="#303030" stroke-width="0.8"/>
<path d="M223.50 337.84h-1.6" stroke="#303030" stroke-width="0.7"/>
<text class="tk cb" x="227.6" y="341.74">0.5</text>
<text class="tk cb" x="227.6" y="379.70">0</text>
<rect x="324.30" y="300.70" width="220.80" height="76.20" fill="#3e26a8"/>
<rect x="372" y="315.40" width="15" height="0.90" fill="#f9fb15"/>
<rect x="372" y="317.60" width="15" height="3.40" fill="#f9fb15"/>
<rect x="387" y="314.60" width="16" height="12.40" fill="#f9fb15"/>
<rect x="403" y="312.00" width="16" height="16.00" fill="#f9fb15"/>
<rect x="419" y="314.60" width="16" height="12.40" fill="#f9fb15"/>
<rect x="435" y="314.60" width="15" height="0.70" fill="#f9fb15"/>
<rect x="435" y="316.40" width="15" height="0.90" fill="#f9fb15"/>
<rect x="435" y="317.60" width="15" height="2.40" fill="#f9fb15"/>
<rect x="435" y="321.00" width="15" height="2.60" fill="#f9fb15"/>
<rect x="450" y="321.00" width="16" height="1.00" fill="#f9fb15"/>
<rect x="372" y="355.40" width="15" height="6.60" fill="#f9fb15"/>
<rect x="387" y="350.60" width="16" height="14.40" fill="#f9fb15"/>
<rect x="403" y="350.60" width="16" height="16.40" fill="#f9fb15"/>
<rect x="419" y="353.00" width="16" height="12.00" fill="#f9fb15"/>
<rect x="435" y="355.40" width="15" height="5.20" fill="#f9fb15"/>
<rect x="435" y="361.20" width="15" height="1.00" fill="#f9fb15"/>
<text class="tk" x="331.94" y="392.20" text-anchor="middle">0</text>
<text class="tk" x="363.48" y="392.20" text-anchor="middle">0.2</text>
<text class="tk" x="395.02" y="392.20" text-anchor="middle">0.4</text>
<text class="tk" x="426.56" y="392.20" text-anchor="middle">0.6</text>
<text class="tk" x="458.11" y="392.20" text-anchor="middle">0.8</text>
<text class="tk" x="489.65" y="392.20" text-anchor="middle">1</text>
<text class="tk" x="521.19" y="392.20" text-anchor="middle">1.2</text>
<text class="tk" x="320.90" y="305.55" text-anchor="end">0</text>
<text class="tk" x="320.90" y="329.75" text-anchor="end">2</text>
<text class="tk" x="320.90" y="353.94" text-anchor="end">4</text>
<text class="tk" x="320.90" y="378.13" text-anchor="end">6</text>
<path d="M332.19 376.90v-1.80M332.19 300.70v1.80M363.73 376.90v-1.80M363.73 300.70v1.80M395.27 376.90v-1.80M395.27 300.70v1.80M426.81 376.90v-1.80M426.81 300.70v1.80M458.36 376.90v-1.80M458.36 300.70v1.80M489.90 376.90v-1.80M489.90 300.70v1.80M521.44 376.90v-1.80M521.44 300.70v1.80M324.30 301.30h1.80M545.10 301.30h-1.80M324.30 325.50h1.80M545.10 325.50h-1.80M324.30 349.69h1.80M545.10 349.69h-1.80M324.30 373.88h1.80M545.10 373.88h-1.80" stroke="#303030" stroke-width="0.7" fill="none"/>
<rect x="324.30" y="300.70" width="220.80" height="76.20" fill="none" stroke="#303030" stroke-width="0.7"/>
<text class="tt tl" x="114.40" y="288.60" text-anchor="middle">P<tspan dy="4" font-size="9.6">d</tspan><tspan dy="-4"> of Q-energy</tspan></text>
<text class="tt" x="434.70" y="292.10" text-anchor="middle">Detectable area of Q-energy</text>
<g transform="translate(115.20 407.40) rotate(0)"><text class="dl" x="-26.20" y="0" textLength="9.90" lengthAdjust="spacingAndGlyphs">Δ</text><text class="gr" x="-16.20" y="0" textLength="7.20" lengthAdjust="spacingAndGlyphs">τ</text><text class="lb" x="-6.10" y="0">(chip)</text></g>
<g transform="translate(434.70 407.40) rotate(0)"><text class="dl" x="-26.20" y="0" textLength="9.90" lengthAdjust="spacingAndGlyphs">Δ</text><text class="gr" x="-16.20" y="0" textLength="7.20" lengthAdjust="spacingAndGlyphs">τ</text><text class="lb" x="-6.10" y="0">(chip)</text></g>
<g transform="translate(16.00 338.80) rotate(-90)"><text class="dl" x="-23.30" y="0" textLength="10.00" lengthAdjust="spacingAndGlyphs">Δ</text><text class="gr2" x="-12.50" y="0" textLength="6.90" lengthAdjust="spacingAndGlyphs">θ</text><text class="lb" x="-1.00" y="0">(rad)</text></g>
<g transform="translate(306.00 338.80) rotate(-90)"><text class="dl" x="-23.30" y="0" textLength="10.00" lengthAdjust="spacingAndGlyphs">Δ</text><text class="gr2" x="-12.50" y="0" textLength="6.90" lengthAdjust="spacingAndGlyphs">θ</text><text class="lb" x="-1.00" y="0">(rad)</text></g>
</svg>
</body></html>
